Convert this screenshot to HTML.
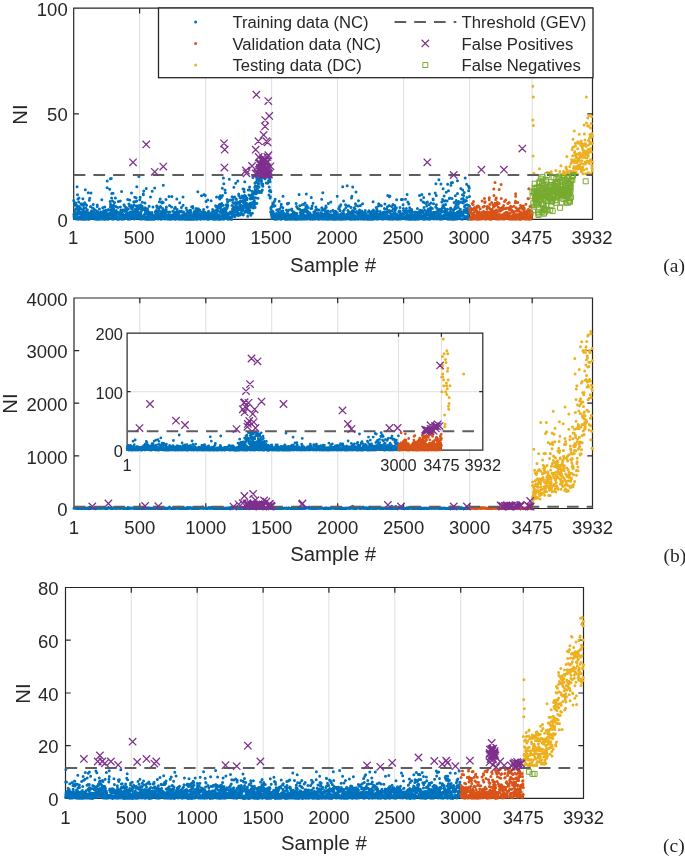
<!DOCTYPE html>
<html><head><meta charset="utf-8"><title>NI plots</title>
<style>html,body{margin:0;padding:0;background:#fff}svg{display:block}text{font-family:"Liberation Sans",sans-serif;fill:#262626}</style>
</head><body>
<svg width="685" height="857" viewBox="0 0 685 857">
<rect width="685" height="857" fill="#fff"/>
<path d="M139.6 8.2V219.3M205.6 8.2V219.3M271.6 8.2V219.3M337.5 8.2V219.3M403.5 8.2V219.3M469.5 8.2V219.3M532.2 8.2V219.3" stroke="#e0e1e3" stroke-width="1.1" fill="none"/>
<path d="M73.7 8.2H592.5V219.3H73.7ZM139.6 219.3v-5.2M139.6 8.2v5.2M205.6 219.3v-5.2M205.6 8.2v5.2M271.6 219.3v-5.2M271.6 8.2v5.2M337.5 219.3v-5.2M337.5 8.2v5.2M403.5 219.3v-5.2M403.5 8.2v5.2M469.5 219.3v-5.2M469.5 8.2v5.2M532.2 219.3v-5.2M532.2 8.2v5.2M73.7 113.8h5.2M592.5 113.8h-5.2" stroke="#262626" stroke-width="1.2" fill="none"/>
<path d="M73.7 200.6h0M73.8 214.4h0M74 216.6h0M74.1 215h0M74.2 218.3h0M74.4 202.6h0M74.5 211.7h0M74.6 205.3h0M74.8 216.5h0M74.9 213.9h0M75 216.6h0M75.2 217.8h0M75.3 214.7h0M75.4 213.8h0M75.5 209.6h0M75.7 218.2h0M75.8 202.9h0M75.9 213.1h0M76.1 217.5h0M76.2 214.7h0M76.3 219h0M76.5 219h0M76.6 212.8h0M76.7 215.2h0M76.9 207.5h0M77 205.4h0M77.1 186.7h0M77.3 212.9h0M77.4 209h0M77.5 194.8h0M77.7 217.7h0M77.8 213.7h0M77.9 198.9h0M78.1 211.6h0M78.2 219.3h0M78.3 214.3h0M78.5 217.9h0M78.6 217.4h0M78.7 202h0M78.8 211.4h0M79 197.9h0M79.1 209.4h0M79.2 206.6h0M79.4 218.5h0M79.5 217.6h0M79.6 218h0M79.8 212.8h0M79.9 212.3h0M80 218.6h0M80.2 217.1h0M80.3 213.2h0M80.4 219h0M80.6 218.8h0M80.7 214.3h0M80.8 208.5h0M81 203.8h0M81.1 215.3h0M81.2 211.8h0M81.4 214.9h0M81.5 213.9h0M81.6 218.5h0M81.8 204.9h0M81.9 214.2h0M82 214.3h0M82.1 219.2h0M82.3 213.1h0M82.4 204h0M82.5 213.2h0M82.7 216.1h0M82.8 211.5h0M82.9 198.8h0M83.1 215.6h0M83.2 205.3h0M83.3 209.6h0M83.5 215.5h0M83.6 215.1h0M83.7 218.7h0M83.9 211.2h0M84 207.8h0M84.1 215.2h0M84.3 219.2h0M84.4 211.9h0M84.5 216.6h0M84.7 202.8h0M84.8 214.7h0M84.9 213.9h0M85.1 216.9h0M85.2 219.2h0M85.3 189.7h0M85.4 216.8h0M85.6 208h0M85.7 218.5h0M85.8 204.5h0M86 219.3h0M86.1 214.7h0M86.2 218.9h0M86.4 218.4h0M86.5 210.9h0M86.6 205.3h0M86.8 215.8h0M86.9 211.7h0M87 213.7h0M87.2 216.9h0M87.3 213.6h0M87.4 209.8h0M87.6 217.6h0M87.7 215.6h0M87.8 213.5h0M88 213.5h0M88.1 212.9h0M88.2 192.8h0M88.4 219.3h0M88.5 212.4h0M88.6 213h0M88.7 217.9h0M88.9 216h0M89 217.5h0M89.1 219.3h0M89.3 200.2h0M89.4 213.6h0M89.5 213.9h0M89.7 198.2h0M89.8 218.6h0M89.9 218.5h0M90.1 216.6h0M90.2 218.4h0M90.3 216.8h0M90.5 206.5h0M90.6 213.2h0M90.7 216.6h0M90.9 213.4h0M91 193h0M91.1 216.9h0M91.3 214.3h0M91.4 211h0M91.5 213.9h0M91.7 214h0M91.8 212.2h0M91.9 218.3h0M92 216.7h0M92.2 213.5h0M92.3 216.5h0M92.4 211.4h0M92.6 208.1h0M92.7 217.1h0M92.8 217.9h0M93 214.9h0M93.1 217.4h0M93.2 204.5h0M93.4 215.7h0M93.5 208.5h0M93.6 212.5h0M93.8 214.7h0M93.9 214.5h0M94 217h0M94.2 218.1h0M94.3 218.3h0M94.4 218.9h0M94.6 210.3h0M94.7 216.9h0M94.8 218.2h0M95 214.2h0M95.1 217.2h0M95.2 213.6h0M95.3 210h0M95.5 218.5h0M95.6 216h0M95.7 219h0M95.9 217.8h0M96 217h0M96.1 218.3h0M96.3 219.3h0M96.4 218.1h0M96.5 212.9h0M96.7 214.6h0M96.8 217.3h0M96.9 218.6h0M97.1 211.3h0M97.2 206.5h0M97.3 205.1h0M97.5 217.6h0M97.6 211.5h0M97.7 219.2h0M97.9 219.2h0M98 219.3h0M98.1 219.2h0M98.3 217.8h0M98.4 219.1h0M98.5 213.8h0M98.6 219.2h0M98.8 217.6h0M98.9 218.6h0M99 216.3h0M99.2 219.2h0M99.3 217.4h0M99.4 209h0M99.6 215.3h0M99.7 218h0M99.8 213.6h0M100 216.8h0M100.1 218.7h0M100.2 213.1h0M100.4 219.1h0M100.5 213.5h0M100.6 212.1h0M100.8 215.7h0M100.9 218.1h0M101 212h0M101.2 218.9h0M101.3 217.7h0M101.4 214.2h0M101.5 215.6h0M101.7 216.2h0M101.8 199.8h0M101.9 216.3h0M102.1 218.4h0M102.2 216.8h0M102.3 213.4h0M102.5 218.7h0M102.6 213.2h0M102.7 207.8h0M102.9 215.8h0M103 219h0M103.1 218.1h0M103.3 217.5h0M103.4 216.2h0M103.5 217h0M103.7 210.8h0M103.8 215h0M103.9 218.1h0M104.1 219.2h0M104.2 218.1h0M104.3 218h0M104.5 212.1h0M104.6 217.5h0M104.7 207h0M104.8 214.6h0M105 213.3h0M105.1 210.9h0M105.2 219.2h0M105.4 212.2h0M105.5 218.6h0M105.6 214.3h0M105.8 210.3h0M105.9 216.2h0M106 217.4h0M106.2 211.2h0M106.3 216h0M106.4 218h0M106.6 216.6h0M106.7 215.6h0M106.8 218.7h0M107 213.6h0M107.1 187.8h0M107.2 181.1h0M107.4 219.1h0M107.5 210.1h0M107.6 217.8h0M107.8 218.8h0M107.9 218.5h0M108 219.2h0M108.1 216.2h0M108.3 213.9h0M108.4 217.5h0M108.5 209.6h0M108.7 213.8h0M108.8 216.8h0M108.9 214.5h0M109.1 209.9h0M109.2 217h0M109.3 215.2h0M109.5 218h0M109.6 217.1h0M109.7 189.2h0M109.9 213.3h0M110 214.8h0M110.1 201.5h0M110.3 178.7h0M110.4 206.8h0M110.5 204.2h0M110.7 217.4h0M110.8 210h0M110.9 206.6h0M111.1 205.3h0M111.2 212h0M111.3 178.4h0M111.4 218.7h0M111.6 198.1h0M111.7 209h0M111.8 193.6h0M112 214h0M112.1 209.7h0M112.2 219.1h0M112.4 212.3h0M112.5 201.1h0M112.6 215.4h0M112.8 218.7h0M112.9 206.3h0M113 193.2h0M113.2 216.1h0M113.3 216.1h0M113.4 219.2h0M113.6 204.9h0M113.7 208.8h0M113.8 217.5h0M114 217.6h0M114.1 210.7h0M114.2 212.7h0M114.4 218.1h0M114.5 202.4h0M114.6 216.5h0M114.7 218.4h0M114.9 213.9h0M115 212.8h0M115.1 217.2h0M115.3 218.1h0M115.4 197.9h0M115.5 217.9h0M115.7 217.5h0M115.8 206.6h0M115.9 217.6h0M116.1 218h0M116.2 210.5h0M116.3 216.4h0M116.5 215.5h0M116.6 217.5h0M116.7 212.8h0M116.9 218.9h0M117 212.3h0M117.1 218.4h0M117.3 218h0M117.4 219.2h0M117.5 212.1h0M117.7 212.8h0M117.8 207.6h0M117.9 218.1h0M118 218.6h0M118.2 212.9h0M118.3 217.6h0M118.4 201.5h0M118.6 217.6h0M118.7 217.4h0M118.8 219.2h0M119 213.7h0M119.1 218h0M119.2 219h0M119.4 215h0M119.5 216.9h0M119.6 217.9h0M119.8 212.6h0M119.9 217.9h0M120 216h0M120.2 218.3h0M120.3 201h0M120.4 207.1h0M120.6 213.9h0M120.7 217.4h0M120.8 210.2h0M121 215.4h0M121.1 218.6h0M121.2 218.5h0M121.3 218.7h0M121.5 213.1h0M121.6 191.5h0M121.7 212.7h0M121.9 219.2h0M122 216.1h0M122.1 210.1h0M122.3 216.8h0M122.4 219.2h0M122.5 218h0M122.7 218h0M122.8 218.6h0M122.9 218.1h0M123.1 210.8h0M123.2 214.3h0M123.3 216.7h0M123.5 210.9h0M123.6 210.1h0M123.7 217h0M123.9 215.5h0M124 204.7h0M124.1 218.4h0M124.3 216.5h0M124.4 219.1h0M124.5 205.9h0M124.6 218.8h0M124.8 216.7h0M124.9 215.4h0M125 217h0M125.2 211.4h0M125.3 216.7h0M125.4 216.6h0M125.6 218.6h0M125.7 215.3h0M125.8 208.3h0M126 209.3h0M126.1 207.6h0M126.2 211.1h0M126.4 213h0M126.5 210.1h0M126.6 207.9h0M126.8 214.1h0M126.9 215.2h0M127 209.9h0M127.2 212.5h0M127.3 217.4h0M127.4 212.9h0M127.6 217.3h0M127.7 199.4h0M127.8 216h0M127.9 217.5h0M128.1 217.1h0M128.2 219.3h0M128.3 209.1h0M128.5 216h0M128.6 217.3h0M128.7 215.9h0M128.9 204.1h0M129 215.2h0M129.1 217.1h0M129.3 213.1h0M129.4 212.9h0M129.5 205.9h0M129.7 200.1h0M129.8 213.8h0M129.9 212.6h0M130.1 212.1h0M130.2 219h0M130.3 217.3h0M130.5 218.4h0M130.6 216.4h0M130.7 206.9h0M130.9 218h0M131 212.3h0M131.1 205.6h0M131.2 213.5h0M131.4 213.9h0M131.5 193.1h0M131.6 208.8h0M131.8 215.1h0M131.9 207.5h0M132 215.1h0M132.2 216.1h0M132.3 212.5h0M132.4 209h0M132.6 215.9h0M132.7 211.3h0M132.8 213.9h0M133 214.9h0M133.1 206.7h0M133.2 213.8h0M133.4 218.6h0M133.5 211.5h0M133.6 213.9h0M133.8 201.8h0M133.9 212.9h0M134 204.7h0M134.2 215h0M134.3 219.1h0M134.4 212.2h0M134.5 217.7h0M134.7 215.8h0M134.8 197.2h0M134.9 215.3h0M135.1 215.1h0M135.2 215.5h0M135.3 209.3h0M135.5 218.4h0M135.6 201.5h0M135.7 217.6h0M135.9 216.4h0M136 211.6h0M136.1 197.7h0M136.3 206.1h0M136.4 210.9h0M136.5 216.2h0M136.7 201.1h0M136.8 186.7h0M136.9 213.5h0M137.1 208.2h0M137.2 209.3h0M137.3 218h0M137.5 209.4h0M137.6 217.4h0M137.7 206.1h0M137.8 211.4h0M138 215.9h0M138.1 213.3h0M138.2 205.9h0M138.4 216.7h0M138.5 205.8h0M138.6 213.2h0M138.8 212.9h0M138.9 176.4h0M139 212.8h0M139.2 215.1h0M139.3 207.9h0M139.4 206.8h0M139.6 218.3h0M139.7 208.4h0M139.8 199.8h0M140 213.9h0M140.1 219.1h0M140.2 197.2h0M140.4 215.3h0M140.5 212.5h0M140.6 205h0M140.8 213.8h0M140.9 216.9h0M141 217.1h0M141.1 211.5h0M141.3 216.8h0M141.4 217.8h0M141.5 206.8h0M141.7 218.3h0M141.8 210.3h0M141.9 217.1h0M142.1 219.1h0M142.2 206.2h0M142.3 202.3h0M142.5 209.1h0M142.6 216h0M142.7 218.8h0M142.9 217.5h0M143 216.1h0M143.1 208.6h0M143.3 194h0M143.4 194.8h0M143.5 217.2h0M143.7 217.5h0M143.8 191h0M143.9 216.4h0M144.1 217.8h0M144.2 217.1h0M144.3 209.2h0M144.4 209.7h0M144.6 214.2h0M144.7 218.9h0M144.8 218.5h0M145 202.9h0M145.1 218.1h0M145.2 207.7h0M145.4 212h0M145.5 219h0M145.6 218.7h0M145.8 217h0M145.9 213.6h0M146 219.3h0M146.2 188.5h0M146.3 216.9h0M146.4 217.5h0M146.6 210.3h0M146.7 218.4h0M146.8 216.9h0M147 217h0M147.1 213.8h0M147.2 212.7h0M147.4 217.1h0M147.5 208.8h0M147.6 213h0M147.7 217.9h0M147.9 219.3h0M148 211h0M148.1 212.5h0M148.3 214.8h0M148.4 218.9h0M148.5 214.5h0M148.7 217.1h0M148.8 218.6h0M148.9 214.9h0M149.1 219.3h0M149.2 206.3h0M149.3 215.2h0M149.5 216.9h0M149.6 217.7h0M149.7 217.9h0M149.9 212.6h0M150 214.3h0M150.1 217.6h0M150.3 214.7h0M150.4 219.2h0M150.5 196.9h0M150.6 217.3h0M150.8 216.3h0M150.9 217.9h0M151 219.1h0M151.2 218.6h0M151.3 218.5h0M151.4 215.8h0M151.6 218.5h0M151.7 218.7h0M151.8 215.2h0M152 212.6h0M152.1 214.2h0M152.2 191.2h0M152.4 219.3h0M152.5 216.3h0M152.6 214.8h0M152.8 218.5h0M152.9 214.9h0M153 206.9h0M153.2 217.2h0M153.3 216.8h0M153.4 215.3h0M153.6 215.9h0M153.7 215.8h0M153.8 218.3h0M153.9 218.3h0M154.1 218.6h0M154.2 218.1h0M154.3 219.3h0M154.5 215.4h0M154.6 217.7h0M154.7 187.9h0M154.9 216.2h0M155 217.7h0M155.1 218.9h0M155.3 212.3h0M155.4 211.5h0M155.5 218.8h0M155.7 212.7h0M155.8 216.9h0M155.9 217.5h0M156.1 216.2h0M156.2 210.4h0M156.3 213.2h0M156.5 218h0M156.6 205.9h0M156.7 211.3h0M156.9 206h0M157 207.4h0M157.1 215.9h0M157.2 217.9h0M157.4 206.4h0M157.5 215.5h0M157.6 211.1h0M157.8 216h0M157.9 212.4h0M158 214.9h0M158.2 219h0M158.3 217.9h0M158.4 218.1h0M158.6 216h0M158.7 217.4h0M158.8 217.7h0M159 208.8h0M159.1 217.3h0M159.2 211.2h0M159.4 201.8h0M159.5 214.4h0M159.6 216.6h0M159.8 215.9h0M159.9 217.6h0M160 216.8h0M160.2 198.9h0M160.3 216.1h0M160.4 206.5h0M160.5 217.6h0M160.7 214.7h0M160.8 207h0M160.9 211.9h0M161.1 219.3h0M161.2 215.4h0M161.3 216.4h0M161.5 211.3h0M161.6 216.9h0M161.7 213.9h0M161.9 202.9h0M162 214.6h0M162.1 202h0M162.3 201.9h0M162.4 215.2h0M162.5 217.7h0M162.7 208.5h0M162.8 217.5h0M162.9 218.3h0M163.1 214.2h0M163.2 202.4h0M163.3 185.3h0M163.5 209.7h0M163.6 214.1h0M163.7 211.9h0M163.8 210.2h0M164 214.2h0M164.1 216.1h0M164.2 214.9h0M164.4 219h0M164.5 216.2h0M164.6 212.9h0M164.8 215.5h0M164.9 212.1h0M165 214.1h0M165.2 216.2h0M165.3 215.9h0M165.4 217.3h0M165.6 214.7h0M165.7 217.2h0M165.8 218.8h0M166 199.5h0M166.1 209.7h0M166.2 209.2h0M166.4 207.1h0M166.5 211.7h0M166.6 214.9h0M166.8 218.6h0M166.9 217.7h0M167 217.6h0M167.1 219h0M167.3 217h0M167.4 217.7h0M167.5 217.7h0M167.7 215.7h0M167.8 218.7h0M167.9 218.5h0M168.1 218.2h0M168.2 217.8h0M168.3 212.3h0M168.5 216.1h0M168.6 218.7h0M168.7 215.6h0M168.9 215.1h0M169 196.6h0M169.1 219h0M169.3 215h0M169.4 216.6h0M169.5 205.5h0M169.7 219.3h0M169.8 211.9h0M169.9 218.4h0M170.1 215.4h0M170.2 217.1h0M170.3 216.8h0M170.4 218.6h0M170.6 219.1h0M170.7 218.5h0M170.8 219.2h0M171 215.1h0M171.1 218.4h0M171.2 216.2h0M171.4 217h0M171.5 218.4h0M171.6 206.9h0M171.8 219.1h0M171.9 196.4h0M172 217.5h0M172.2 218.7h0M172.3 218.4h0M172.4 218h0M172.6 217.3h0M172.7 217.5h0M172.8 211.3h0M173 218.7h0M173.1 216.3h0M173.2 217.2h0M173.4 218.2h0M173.5 215.3h0M173.6 213.9h0M173.7 211.4h0M173.9 218.3h0M174 212.5h0M174.1 217.9h0M174.3 219.1h0M174.4 213.1h0M174.5 208.4h0M174.7 218.5h0M174.8 212h0M174.9 219.2h0M175.1 217.4h0M175.2 215.1h0M175.3 207.3h0M175.5 219.2h0M175.6 213.6h0M175.7 215.6h0M175.9 219.1h0M176 216h0M176.1 217.4h0M176.3 218h0M176.4 212.8h0M176.5 215.8h0M176.7 212.4h0M176.8 198.9h0M176.9 211.7h0M177 211.7h0M177.2 209.4h0M177.3 213.2h0M177.4 218.7h0M177.6 216.9h0M177.7 217.1h0M177.8 216.9h0M178 214.4h0M178.1 216.3h0M178.2 217.2h0M178.4 213.7h0M178.5 217.7h0M178.6 216.8h0M178.8 216.7h0M178.9 216.5h0M179 219.2h0M179.2 218.6h0M179.3 219.1h0M179.4 212.2h0M179.6 217h0M179.7 202.7h0M179.8 211.3h0M180 217.3h0M180.1 217.5h0M180.2 217.4h0M180.3 215.7h0M180.5 211.6h0M180.6 218.5h0M180.7 218h0M180.9 218.8h0M181 218.4h0M181.1 219.1h0M181.3 211h0M181.4 207.4h0M181.5 217.8h0M181.7 215.7h0M181.8 219.2h0M181.9 216.6h0M182.1 211.7h0M182.2 218.7h0M182.3 219h0M182.5 216.8h0M182.6 214.8h0M182.7 218.9h0M182.9 217.7h0M183 197.1h0M183.1 205.3h0M183.3 218.9h0M183.4 218.2h0M183.5 218.8h0M183.6 212.1h0M183.8 217.1h0M183.9 217.5h0M184 214.5h0M184.2 215.2h0M184.3 219h0M184.4 216.9h0M184.6 214.2h0M184.7 217.9h0M184.8 217.3h0M185 219.2h0M185.1 219.3h0M185.2 219.2h0M185.4 218.6h0M185.5 219.2h0M185.6 215.9h0M185.8 214.8h0M185.9 218.9h0M186 219.2h0M186.2 208h0M186.3 213.5h0M186.4 219.1h0M186.6 216h0M186.7 219.2h0M186.8 217.6h0M186.9 210.6h0M187.1 216.5h0M187.2 217.9h0M187.3 219.3h0M187.5 218.6h0M187.6 219.3h0M187.7 219.2h0M187.9 218.4h0M188 219.2h0M188.1 218.7h0M188.3 212.2h0M188.4 216.3h0M188.5 215.6h0M188.7 218.7h0M188.8 217.8h0M188.9 214.9h0M189.1 217.3h0M189.2 211.4h0M189.3 218.8h0M189.5 218.6h0M189.6 217.1h0M189.7 210.4h0M189.9 216.1h0M190 219.3h0M190.1 214.3h0M190.2 218.9h0M190.4 218.6h0M190.5 210.3h0M190.6 216.5h0M190.8 212.1h0M190.9 218.9h0M191 217.4h0M191.2 219.2h0M191.3 216.7h0M191.4 214.8h0M191.6 218h0M191.7 206.8h0M191.8 218.2h0M192 216.8h0M192.1 214.8h0M192.2 219.2h0M192.4 218.2h0M192.5 217.1h0M192.6 215.9h0M192.8 206.5h0M192.9 207.9h0M193 215.4h0M193.2 218.4h0M193.3 217.2h0M193.4 217.9h0M193.5 217.1h0M193.7 219.3h0M193.8 218.5h0M193.9 212.6h0M194.1 212h0M194.2 219.1h0M194.3 215.3h0M194.5 218.3h0M194.6 213.3h0M194.7 210.9h0M194.9 213.9h0M195 217.9h0M195.1 219.1h0M195.3 215.9h0M195.4 212.9h0M195.5 217.5h0M195.7 210.8h0M195.8 210.5h0M195.9 210.2h0M196.1 208.6h0M196.2 219.3h0M196.3 215.1h0M196.5 217.8h0M196.6 218.8h0M196.7 215.3h0M196.8 211h0M197 218.8h0M197.1 216.4h0M197.2 215.5h0M197.4 219.3h0M197.5 218h0M197.6 218.8h0M197.8 191.7h0M197.9 216.9h0M198 213.1h0M198.2 217.8h0M198.3 208.7h0M198.4 217.2h0M198.6 216.2h0M198.7 209.6h0M198.8 216.3h0M199 216.6h0M199.1 215.7h0M199.2 216.8h0M199.4 210.5h0M199.5 217.2h0M199.6 211h0M199.7 215.4h0M199.9 210.2h0M200 211.3h0M200.1 219.1h0M200.3 214.2h0M200.4 215.7h0M200.5 217.4h0M200.7 219.3h0M200.8 215.9h0M200.9 215.7h0M201.1 217.1h0M201.2 218.4h0M201.3 216.9h0M201.5 195.7h0M201.6 214.8h0M201.7 212.7h0M201.9 217.7h0M202 212.2h0M202.1 218.4h0M202.3 212.5h0M202.4 217.3h0M202.5 217.4h0M202.7 215.6h0M202.8 212.7h0M202.9 212.8h0M203 217.4h0M203.2 218.5h0M203.3 216.1h0M203.4 211.5h0M203.6 209.4h0M203.7 218.9h0M203.8 219.1h0M204 215.6h0M204.1 194.4h0M204.2 216.4h0M204.4 213.5h0M204.5 218.4h0M204.6 215.3h0M204.8 218.4h0M204.9 218.8h0M205 216.6h0M205.2 212.2h0M205.3 195.5h0M205.4 213.8h0M205.6 216.7h0M205.7 218.6h0M205.8 217.9h0M206 201.4h0M206.1 218.6h0M206.2 216.3h0M206.3 217.7h0M206.5 214.6h0M206.6 217.5h0M206.7 218.6h0M206.9 214.1h0M207 219.1h0M207.1 214.6h0M207.3 207h0M207.4 219.3h0M207.5 217.9h0M207.7 200.1h0M207.8 218.9h0M207.9 212.8h0M208.1 216.2h0M208.2 217.8h0M208.3 219.2h0M208.5 215.1h0M208.6 211.3h0M208.7 217.6h0M208.9 217.8h0M209 216.9h0M209.1 217.7h0M209.3 216.8h0M209.4 213.8h0M209.5 216.9h0M209.6 217.5h0M209.8 217.9h0M209.9 218.9h0M210 215.5h0M210.2 215.2h0M210.3 218.8h0M210.4 217.5h0M210.6 214.5h0M210.7 217.4h0M210.8 217.9h0M211 216h0M211.1 200.8h0M211.2 216.4h0M211.4 213.4h0M211.5 216.5h0M211.6 212.5h0M211.8 216.8h0M211.9 215.1h0M212 217.3h0M212.2 217.6h0M212.3 218.1h0M212.4 215.7h0M212.6 209.5h0M212.7 219.1h0M212.8 211.8h0M212.9 219h0M213.1 215h0M213.2 218.8h0M213.3 217.9h0M213.5 219.2h0M213.6 216.9h0M213.7 215.7h0M213.9 217.8h0M214 210.7h0M214.1 215.4h0M214.3 217.8h0M214.4 214.5h0M214.5 219.3h0M214.7 216.2h0M214.8 217.6h0M214.9 212.5h0M215.1 217.2h0M215.2 217.7h0M215.3 217.1h0M215.5 219h0M215.6 205.7h0M215.7 219.2h0M215.9 218.2h0M216 206.5h0M216.1 218.2h0M216.2 218.8h0M216.4 212.9h0M216.5 197.1h0M216.6 209.4h0M216.8 214.4h0M216.9 213.8h0M217 218.8h0M217.2 211.1h0M217.3 211.3h0M217.4 209.2h0M217.6 215.7h0M217.7 218.5h0M217.8 207.2h0M218 211.1h0M218.1 206h0M218.2 219.2h0M218.4 207.9h0M218.5 217.8h0M218.6 218.3h0M218.8 216.2h0M218.9 217.2h0M219 214.8h0M219.2 197.2h0M219.3 219.2h0M219.4 217.6h0M219.5 204.4h0M219.7 215.4h0M219.8 198.9h0M219.9 217h0M220.1 204.2h0M220.2 195.7h0M220.3 211.7h0M220.5 206.8h0M220.6 207.5h0M220.7 219.2h0M220.9 209.7h0M221 212.5h0M221.1 212.6h0M221.3 215.7h0M221.4 197.6h0M221.5 205.8h0M221.7 203.4h0M221.8 210h0M221.9 212.8h0M222.1 211.6h0M222.2 214.6h0M222.3 188.3h0M222.5 195.5h0M222.6 212.1h0M222.7 217.6h0M222.8 212.6h0M223 205.3h0M223.1 217h0M223.2 212.6h0M223.4 178h0M223.5 209h0M223.6 219.3h0M223.8 183.7h0M223.9 210.4h0M224 216.1h0M224.2 208.4h0M224.3 217.2h0M224.4 213.4h0M224.6 212.9h0M224.7 217.3h0M224.8 216.9h0M225 189.9h0M225.1 213.8h0M225.2 213.4h0M225.4 192.7h0M225.5 208.6h0M225.6 218.5h0M225.8 215.1h0M225.9 211.6h0M226 205.2h0M226.1 217.8h0M226.3 212.9h0M226.4 204.7h0M226.5 209.1h0M226.7 218h0M226.8 215.8h0M226.9 218.5h0M227.1 199.6h0M227.2 218.7h0M227.3 207.5h0M227.5 218.1h0M227.6 202h0M227.7 205.1h0M227.9 205.7h0M228 217.2h0M228.1 219.3h0M228.3 216.3h0M228.4 219.1h0M228.5 213.9h0M228.7 218.1h0M228.8 213.2h0M228.9 214.3h0M229.1 217.2h0M229.2 217.7h0M229.3 179.3h0M229.4 218.3h0M229.6 217.5h0M229.7 218.6h0M229.8 200.2h0M230 217.2h0M230.1 217.8h0M230.2 212.1h0M230.4 218.4h0M230.5 213.5h0M230.6 218.2h0M230.8 219.3h0M230.9 200h0M231 213h0M231.2 213.7h0M231.3 217.3h0M231.4 219.1h0M231.6 218.9h0M231.7 216.7h0M231.8 219.2h0M232 205.6h0M232.1 196.7h0M232.2 215.8h0M232.4 212.4h0M232.5 210.2h0M232.6 208.7h0M232.7 215.9h0M232.9 202.4h0M233 216.1h0M233.1 199.4h0M233.3 206.9h0M233.4 210.4h0M233.5 206.8h0M233.7 213.2h0M233.8 209.5h0M233.9 187.2h0M234.1 211.8h0M234.2 203.2h0M234.3 215.2h0M234.5 209h0M234.6 197h0M234.7 216.7h0M234.9 206.4h0M235 215.5h0M235.1 216.2h0M235.3 206.5h0M235.4 202.4h0M235.5 203.6h0M235.7 183.2h0M235.8 209.5h0M235.9 207.2h0M236 214.8h0M236.2 205.5h0M236.3 198.9h0M236.4 199.6h0M236.6 212.6h0M236.7 211.2h0M236.8 214.8h0M237 211.8h0M237.1 210h0M237.2 203.4h0M237.4 207.6h0M237.5 214.7h0M237.6 202.3h0M237.8 181.1h0M237.9 212.4h0M238 209.7h0M238.2 208.7h0M238.3 215.5h0M238.4 206.9h0M238.6 203.1h0M238.7 194h0M238.8 195.4h0M239 209.8h0M239.1 208.8h0M239.2 203.3h0M239.3 202h0M239.5 213.8h0M239.6 206.1h0M239.7 202.9h0M239.9 214.9h0M240 197.7h0M240.1 209h0M240.3 201.2h0M240.4 207.7h0M240.5 209.1h0M240.7 207.9h0M240.8 205.2h0M240.9 201h0M241.1 209.1h0M241.2 200.9h0M241.3 212.2h0M241.5 214.2h0M241.6 201.6h0M241.7 210.9h0M241.9 196.1h0M242 206h0M242.1 207.2h0M242.3 197.5h0M242.4 209.5h0M242.5 209h0M242.6 201.2h0M242.8 201.4h0M242.9 214h0M243 188.9h0M243.2 202.6h0M243.3 214.9h0M243.4 207.9h0M243.6 199.9h0M243.7 204.9h0M243.8 197.2h0M244 189.3h0M244.1 199.7h0M244.2 191.8h0M244.4 196.1h0M244.5 211.1h0M244.6 195.3h0M244.8 181.7h0M244.9 197h0M245 201.4h0M245.2 212.3h0M245.3 211.2h0M245.4 207.3h0M245.6 203h0M245.7 196.2h0M245.8 205.3h0M246.1 199.4h0M246.2 210.4h0M246.3 210.2h0M246.6 209.4h0M246.7 206.2h0M246.9 199.8h0M247 203.5h0M247.1 198.3h0M247.3 210.4h0M247.4 211.7h0M247.5 210.9h0M247.7 216.3h0M247.8 208.5h0M247.9 204.7h0M248.1 206.6h0M248.2 205h0M248.3 190h0M248.5 213.1h0M248.6 205h0M248.7 208.5h0M248.8 211.6h0M249 194.9h0M249.1 205h0M249.2 195.3h0M249.4 212.8h0M249.5 190.1h0M249.6 186.9h0M249.8 210.3h0M249.9 203.6h0M250 204.3h0M250.2 198.8h0M250.3 212.9h0M250.4 199h0M250.6 196.8h0M250.7 206.9h0M250.8 215.2h0M251 207.2h0M251.1 204.7h0M251.2 195.3h0M251.4 203.1h0M251.5 205.5h0M251.6 195.8h0M251.8 197.5h0M251.9 194.4h0M252.1 191.2h0M252.3 195.5h0M252.4 213.3h0M252.5 196.9h0M252.7 192.6h0M252.8 198.5h0M252.9 177.6h0M253.1 202.2h0M253.2 192.1h0M253.3 208.1h0M253.5 197.3h0M253.6 201.6h0M253.7 205.1h0M253.9 207.4h0M254 193.9h0M254.1 191.7h0M254.3 200.6h0M254.4 205.5h0M254.5 202h0M254.7 187.3h0M254.8 204.2h0M254.9 183.2h0M255.1 207.6h0M255.2 190h0M255.3 186.2h0M255.4 175.7h0M255.7 197.8h0M255.8 203.4h0M256 182h0M256.1 191h0M256.2 193.7h0M256.4 192.9h0M256.5 186.4h0M256.6 177.4h0M256.8 177.2h0M256.9 203.2h0M257 179.5h0M257.2 191.8h0M257.4 189.1h0M257.6 186.6h0M257.7 178.3h0M257.8 183h0M258 198.3h0M258.1 184.9h0M258.2 179.3h0M258.5 180.3h0M258.6 183.7h0M258.9 192.6h0M259.1 187h0M259.3 191.2h0M259.9 175.2h0M260.1 178.8h0M260.2 175.5h0M260.3 178.8h0M260.5 181.2h0M260.9 177.4h0M261 179.3h0M261.1 181.5h0M261.3 192.5h0M261.4 182.6h0M261.5 180.8h0M261.7 175.7h0M261.8 184.7h0M261.9 191h0M262.3 190.1h0M262.7 184.1h0M262.8 186.3h0M263.2 177.8h0M264.6 175.9h0M265.1 178.8h0M266.3 183.1h0M266.8 175.2h0M267.5 177.1h0M267.6 183.2h0M267.9 175.3h0M268.5 181h0M268.6 180.4h0M268.9 194.9h0M269.2 187h0M269.3 175.3h0M269.4 191h0M269.6 180.7h0M269.7 179.9h0M269.8 178.8h0M270 181.8h0M270.1 197.9h0M270.2 190.3h0M270.4 196.8h0M270.6 211.7h0M270.8 191.7h0M270.9 208.7h0M271 207.3h0M271.2 213.7h0M271.3 207.5h0M271.4 215.4h0M271.6 216.1h0M271.7 212.4h0M271.8 212.8h0M271.9 218.5h0M272.1 211.2h0M272.2 218.6h0M272.3 211.1h0M272.5 205.4h0M272.6 216.9h0M272.7 216.2h0M272.9 203h0M273 203.7h0M273.1 211.7h0M273.3 203.4h0M273.4 213.9h0M273.5 217.7h0M273.7 206.3h0M273.8 213.4h0M273.9 215.7h0M274.1 217.2h0M274.2 216.9h0M274.3 217.8h0M274.5 201.2h0M274.6 215.2h0M274.7 215.2h0M274.9 217.4h0M275 205.7h0M275.1 219.3h0M275.2 199.3h0M275.4 217.1h0M275.5 218.5h0M275.6 217.9h0M275.8 216.9h0M275.9 217.7h0M276 219.3h0M276.2 213.4h0M276.3 217.3h0M276.4 216.6h0M276.6 216.7h0M276.7 210.1h0M276.8 216.3h0M277 218.2h0M277.1 217.5h0M277.2 215.8h0M277.4 216.4h0M277.5 214h0M277.6 218.9h0M277.8 209.8h0M277.9 213.4h0M278 215h0M278.2 210.7h0M278.3 218.4h0M278.4 216.2h0M278.5 217.1h0M278.7 217.8h0M278.8 217.8h0M278.9 216.8h0M279.1 218.1h0M279.2 201.3h0M279.3 214.1h0M279.5 213.6h0M279.6 217.3h0M279.7 209.1h0M279.9 213.1h0M280 214.1h0M280.1 219.1h0M280.3 212.5h0M280.4 215.8h0M280.5 218.4h0M280.7 218.1h0M280.8 218.3h0M280.9 219.3h0M281.1 206.5h0M281.2 216.9h0M281.3 204.3h0M281.5 218.6h0M281.6 212.3h0M281.7 211.3h0M281.8 218.9h0M282 214.8h0M282.1 217.8h0M282.2 218.5h0M282.4 217.7h0M282.5 217.7h0M282.6 217.9h0M282.8 207.7h0M282.9 210.9h0M283 196.2h0M283.2 218.4h0M283.3 214.8h0M283.4 217.5h0M283.6 212.9h0M283.7 217.9h0M283.8 216.5h0M284 216.2h0M284.1 216.1h0M284.2 216.8h0M284.4 213.9h0M284.5 215.2h0M284.6 215.8h0M284.8 218.3h0M284.9 214.9h0M285 216.2h0M285.1 215.6h0M285.3 219.3h0M285.4 215.3h0M285.5 216h0M285.7 219.3h0M285.8 215.6h0M285.9 217.6h0M286.1 216.7h0M286.2 217.9h0M286.3 219.2h0M286.5 209.9h0M286.6 213.8h0M286.7 218.3h0M286.9 218.2h0M287 218.6h0M287.1 212.8h0M287.3 213.3h0M287.4 203.5h0M287.5 203.9h0M287.7 211.6h0M287.8 219.3h0M287.9 218.9h0M288.1 215.6h0M288.2 203.5h0M288.3 214.3h0M288.4 214.7h0M288.6 203.3h0M288.7 219h0M288.8 218.8h0M289 217.9h0M289.1 209.9h0M289.2 218.7h0M289.4 217.2h0M289.5 217.6h0M289.6 218.1h0M289.8 216.4h0M289.9 218.7h0M290 217.4h0M290.2 219.2h0M290.3 217.5h0M290.4 218.4h0M290.6 215.8h0M290.7 215.1h0M290.8 218.6h0M291 219.2h0M291.1 217.7h0M291.2 217.3h0M291.4 214.4h0M291.5 217h0M291.6 216.4h0M291.7 208.9h0M291.9 217.9h0M292 210.6h0M292.1 215.8h0M292.3 218.5h0M292.4 217.8h0M292.5 217.7h0M292.7 218.6h0M292.8 213.8h0M292.9 219h0M293.1 217.7h0M293.2 217.7h0M293.3 212.7h0M293.5 217.3h0M293.6 218.5h0M293.7 215.4h0M293.9 211.9h0M294 217h0M294.1 217h0M294.3 218.8h0M294.4 217.1h0M294.5 215.2h0M294.7 219.2h0M294.8 216.3h0M294.9 216.9h0M295 212.9h0M295.2 217.5h0M295.3 215.2h0M295.4 218.7h0M295.6 217.3h0M295.7 219.2h0M295.8 219h0M296 216.1h0M296.1 203.5h0M296.2 217h0M296.4 216.2h0M296.5 218.1h0M296.6 206.4h0M296.8 219.2h0M296.9 213.6h0M297 219.2h0M297.2 216h0M297.3 216.4h0M297.4 219.3h0M297.6 208.3h0M297.7 218.6h0M297.8 216.3h0M297.9 218.3h0M298.1 216h0M298.2 218.8h0M298.3 208.8h0M298.5 217.2h0M298.6 217.2h0M298.7 216.9h0M298.9 216.6h0M299 217.6h0M299.1 194.4h0M299.3 217.3h0M299.4 218.4h0M299.5 219h0M299.7 209.3h0M299.8 205.8h0M299.9 218.6h0M300.1 216.8h0M300.2 215.6h0M300.3 212.6h0M300.5 217h0M300.6 217.7h0M300.7 219h0M300.9 213.3h0M301 210.9h0M301.1 219.1h0M301.2 215.7h0M301.4 212.1h0M301.5 219.3h0M301.6 218.5h0M301.8 210.5h0M301.9 218.6h0M302 213.4h0M302.2 204.8h0M302.3 219.1h0M302.4 212.5h0M302.6 211.4h0M302.7 213.6h0M302.8 217.1h0M303 214.9h0M303.1 218.1h0M303.2 217h0M303.4 218.8h0M303.5 209.9h0M303.6 218.5h0M303.8 204.3h0M303.9 214.8h0M304 211.2h0M304.2 216.2h0M304.3 219h0M304.4 216h0M304.5 215.7h0M304.7 216.6h0M304.8 216.6h0M304.9 218h0M305.1 202.9h0M305.2 216.9h0M305.3 211.7h0M305.5 217.1h0M305.6 208.5h0M305.7 210.8h0M305.9 206.4h0M306 216.7h0M306.1 218.6h0M306.3 194h0M306.4 218.1h0M306.5 219h0M306.7 215.3h0M306.8 217.4h0M306.9 205.6h0M307.1 219.1h0M307.2 210.4h0M307.3 218.9h0M307.5 216.6h0M307.6 211.3h0M307.7 213.5h0M307.8 216.4h0M308 218.6h0M308.1 216.3h0M308.2 207.4h0M308.4 217h0M308.5 217h0M308.6 215.3h0M308.8 218.4h0M308.9 215.6h0M309 215.2h0M309.2 215.4h0M309.3 217.3h0M309.4 216.9h0M309.6 217.3h0M309.7 217.9h0M309.8 212.7h0M310 218.8h0M310.1 219.2h0M310.2 214.7h0M310.4 214.1h0M310.5 219.1h0M310.6 214.9h0M310.8 214.8h0M310.9 217h0M311 208.4h0M311.1 216.6h0M311.3 197.5h0M311.4 216.5h0M311.5 215.4h0M311.7 208.5h0M311.8 217.2h0M311.9 216.8h0M312.1 206h0M312.2 218.4h0M312.3 215h0M312.5 218.4h0M312.6 219.3h0M312.7 219.1h0M312.9 218h0M313 218.9h0M313.1 203.2h0M313.3 215.3h0M313.4 215.4h0M313.5 218.3h0M313.7 218h0M313.8 212.1h0M313.9 218.7h0M314.1 215.6h0M314.2 214.5h0M314.3 217.3h0M314.4 212.8h0M314.6 217.5h0M314.7 217.3h0M314.8 218.2h0M315 218.9h0M315.1 212.3h0M315.2 214.5h0M315.4 215.3h0M315.5 217.4h0M315.6 209.9h0M315.8 215.8h0M315.9 207.1h0M316 218.7h0M316.2 217.9h0M316.3 215.5h0M316.4 214.1h0M316.6 217.3h0M316.7 218.1h0M316.8 216.6h0M317 217h0M317.1 216.1h0M317.2 209.5h0M317.4 218.7h0M317.5 218.1h0M317.6 212.7h0M317.7 219.1h0M317.9 213.9h0M318 216.9h0M318.1 217.4h0M318.3 217.1h0M318.4 216.6h0M318.5 218.7h0M318.7 219.3h0M318.8 218.6h0M318.9 215.2h0M319.1 218h0M319.2 217.5h0M319.3 210h0M319.5 217.7h0M319.6 217.8h0M319.7 218.4h0M319.9 216.1h0M320 216.9h0M320.1 214.2h0M320.3 215.9h0M320.4 216.5h0M320.5 218.5h0M320.7 212.8h0M320.8 212.9h0M320.9 213h0M321 215.5h0M321.2 214.5h0M321.3 218.9h0M321.4 218.4h0M321.6 213.3h0M321.7 199.3h0M321.8 207.8h0M322 214h0M322.1 219.1h0M322.2 215.3h0M322.4 210.2h0M322.5 219.1h0M322.6 215.6h0M322.8 192.8h0M322.9 216h0M323 209.9h0M323.2 215.2h0M323.3 218.7h0M323.4 215.6h0M323.6 217.4h0M323.7 215.4h0M323.8 218.9h0M324 218.9h0M324.1 218.4h0M324.2 219.1h0M324.3 214.1h0M324.5 217.2h0M324.6 208.7h0M324.7 214.1h0M324.9 215.8h0M325 209.5h0M325.1 211.3h0M325.3 215.7h0M325.4 215.4h0M325.5 212.3h0M325.7 217h0M325.8 208.1h0M325.9 206.1h0M326.1 214.7h0M326.2 207.3h0M326.3 219.1h0M326.5 212.4h0M326.6 219.1h0M326.7 215.9h0M326.9 219.1h0M327 217.6h0M327.1 215h0M327.3 219.2h0M327.4 215.4h0M327.5 213.9h0M327.6 215h0M327.8 210.9h0M327.9 218.1h0M328 217.9h0M328.2 213.6h0M328.3 203.6h0M328.4 219.2h0M328.6 216.7h0M328.7 218.7h0M328.8 216.8h0M329 215.6h0M329.1 217.9h0M329.2 214.4h0M329.4 217h0M329.5 218.1h0M329.6 218.3h0M329.8 218.9h0M329.9 218.5h0M330 214.8h0M330.2 216.3h0M330.3 216.1h0M330.4 219h0M330.6 211.6h0M330.7 217h0M330.8 202.1h0M330.9 216.7h0M331.1 218.5h0M331.2 216.8h0M331.3 217h0M331.5 214.7h0M331.6 219.1h0M331.7 218.2h0M331.9 216.9h0M332 218.3h0M332.1 218.2h0M332.3 215.3h0M332.4 216.1h0M332.5 218.6h0M332.7 219.1h0M332.8 219.3h0M332.9 210.2h0M333.1 217.3h0M333.2 218.2h0M333.3 218.3h0M333.5 218.2h0M333.6 216.4h0M333.7 219.2h0M333.9 212.5h0M334 215.8h0M334.1 214.6h0M334.2 215.6h0M334.4 216.3h0M334.5 218.1h0M334.6 211.7h0M334.8 219.3h0M334.9 213.1h0M335 216h0M335.2 219.3h0M335.3 218.7h0M335.4 211.3h0M335.6 214.3h0M335.7 217.5h0M335.8 211.6h0M336 216h0M336.1 214.1h0M336.2 219.2h0M336.4 211.9h0M336.5 218.4h0M336.6 217.9h0M336.8 213.7h0M336.9 217.6h0M337 216.7h0M337.2 196.2h0M337.3 213.1h0M337.4 217.9h0M337.5 215.4h0M337.7 218.4h0M337.8 216.1h0M337.9 218.2h0M338.1 218.3h0M338.2 218.3h0M338.3 219.1h0M338.5 217.7h0M338.6 208.6h0M338.7 218.3h0M338.9 216.2h0M339 217.7h0M339.1 216.7h0M339.3 219.3h0M339.4 209.2h0M339.5 206.4h0M339.7 214.8h0M339.8 210.6h0M339.9 218h0M340.1 218.2h0M340.2 210.7h0M340.3 206.3h0M340.5 218.6h0M340.6 218.2h0M340.7 219.2h0M340.8 204.7h0M341 217.2h0M341.1 219.3h0M341.2 214.4h0M341.4 213.7h0M341.5 219.3h0M341.6 213.6h0M341.8 218.4h0M341.9 215.8h0M342 216.3h0M342.2 215.2h0M342.3 216.1h0M342.4 219.2h0M342.6 219.1h0M342.7 186.8h0M342.8 218.1h0M343 214.7h0M343.1 216.8h0M343.2 217.3h0M343.4 211h0M343.5 213.3h0M343.6 201.1h0M343.8 218.6h0M343.9 218.2h0M344 216.1h0M344.1 218.5h0M344.3 209.8h0M344.4 218.9h0M344.5 218.4h0M344.7 214.9h0M344.8 216.4h0M344.9 218.9h0M345.1 218.2h0M345.2 216.5h0M345.3 214.9h0M345.5 204.7h0M345.6 217.8h0M345.7 216.8h0M345.9 216.3h0M346 207.5h0M346.1 215.2h0M346.3 218.1h0M346.4 214.5h0M346.5 219.1h0M346.7 216.6h0M346.8 218.4h0M346.9 214.6h0M347 217.9h0M347.2 185.8h0M347.3 216.4h0M347.4 216.4h0M347.6 217.3h0M347.7 215.6h0M347.8 210.4h0M348 216.3h0M348.1 214.6h0M348.2 205.8h0M348.4 211.9h0M348.5 216.3h0M348.6 216h0M348.8 211.8h0M348.9 218.2h0M349 205.9h0M349.2 219.1h0M349.3 217.2h0M349.4 215.6h0M349.6 214.2h0M349.7 218.9h0M349.8 212.8h0M350 215.9h0M350.1 216.7h0M350.2 213.8h0M350.3 218.6h0M350.5 219.2h0M350.6 214.8h0M350.7 212.9h0M350.9 215.8h0M351 219.2h0M351.1 207.6h0M351.3 216.6h0M351.4 212.3h0M351.5 198h0M351.7 219.2h0M351.8 218.4h0M351.9 196.3h0M352.1 213.4h0M352.2 215.2h0M352.3 210.7h0M352.5 212.4h0M352.6 218h0M352.7 187.1h0M352.9 215.4h0M353 218.2h0M353.1 215.8h0M353.3 213h0M353.4 210.5h0M353.5 217.4h0M353.6 218.6h0M353.8 215.9h0M353.9 218.9h0M354 218.4h0M354.2 215.4h0M354.3 207.7h0M354.4 219.3h0M354.6 216.9h0M354.7 217.4h0M354.8 219.2h0M355 218.4h0M355.1 208.7h0M355.2 218.8h0M355.4 203.8h0M355.5 215.7h0M355.6 218.4h0M355.8 212.1h0M355.9 205.2h0M356 192h0M356.2 218.3h0M356.3 219.1h0M356.4 211.9h0M356.6 211.5h0M356.7 218.6h0M356.8 218.9h0M356.9 213.1h0M357.1 217.8h0M357.2 216.7h0M357.3 217.4h0M357.5 217.2h0M357.6 217.3h0M357.7 218.4h0M357.9 219h0M358 206.1h0M358.1 219.3h0M358.3 214.3h0M358.4 212.1h0M358.5 200.8h0M358.7 217.9h0M358.8 217.1h0M358.9 215.4h0M359.1 215.5h0M359.2 217.3h0M359.3 218h0M359.5 209.9h0M359.6 212.9h0M359.7 217.7h0M359.9 218.1h0M360 216.4h0M360.1 210.9h0M360.2 217.5h0M360.4 205.4h0M360.5 218.4h0M360.6 215h0M360.8 219h0M360.9 217.2h0M361 219h0M361.2 217.8h0M361.3 218.5h0M361.4 218.9h0M361.6 216.5h0M361.7 217.5h0M361.8 210.9h0M362 218.9h0M362.1 216.9h0M362.2 213h0M362.4 218.2h0M362.5 214.6h0M362.6 203.7h0M362.8 215.5h0M362.9 213.7h0M363 214.4h0M363.2 215.9h0M363.3 219.1h0M363.4 218.7h0M363.5 215.7h0M363.7 215.9h0M363.8 215.1h0M363.9 219.3h0M364.1 217.6h0M364.2 218.1h0M364.3 218.1h0M364.5 216.4h0M364.6 211.9h0M364.7 218h0M364.9 216.2h0M365 218.9h0M365.1 218.4h0M365.3 210.5h0M365.4 218.8h0M365.5 215.5h0M365.7 215.5h0M365.8 215.3h0M365.9 213.5h0M366.1 218.7h0M366.2 218.4h0M366.3 215.2h0M366.5 218.8h0M366.6 218.5h0M366.7 215.2h0M366.8 215.5h0M367 218.8h0M367.1 219.3h0M367.2 216.1h0M367.4 218.4h0M367.5 215.7h0M367.6 218.4h0M367.8 217.2h0M367.9 219.1h0M368 218.4h0M368.2 211.9h0M368.3 211.8h0M368.4 216.8h0M368.6 215.5h0M368.7 217h0M368.8 216.7h0M369 210.8h0M369.1 216.9h0M369.2 219.2h0M369.4 219.3h0M369.5 215.1h0M369.6 216.4h0M369.8 216.1h0M369.9 218.4h0M370 217h0M370.1 216.2h0M370.3 218.5h0M370.4 213.3h0M370.5 212.6h0M370.7 217.4h0M370.8 216.6h0M370.9 216.5h0M371.1 217.9h0M371.2 217.1h0M371.3 218.5h0M371.5 214.6h0M371.6 219.3h0M371.7 219.3h0M371.9 215.5h0M372 217.9h0M372.1 211.4h0M372.3 214.8h0M372.4 214h0M372.5 211.1h0M372.7 218.3h0M372.8 214.2h0M372.9 211.1h0M373.1 201.7h0M373.2 219.2h0M373.3 219h0M373.4 209.9h0M373.6 217.5h0M373.7 217.9h0M373.8 214.1h0M374 218.8h0M374.1 218.3h0M374.2 216.5h0M374.4 218.1h0M374.5 217.4h0M374.6 218.1h0M374.8 218.4h0M374.9 218.1h0M375 215.7h0M375.2 211.8h0M375.3 212.4h0M375.4 218.7h0M375.6 218.2h0M375.7 216h0M375.8 214.7h0M376 217.1h0M376.1 218.8h0M376.2 207.4h0M376.4 219h0M376.5 216.3h0M376.6 215.6h0M376.7 217.5h0M376.9 209.3h0M377 218.5h0M377.1 217.7h0M377.3 216.9h0M377.4 213.6h0M377.5 214.9h0M377.7 211.3h0M377.8 217.3h0M377.9 217.9h0M378.1 218h0M378.2 218.2h0M378.3 219.1h0M378.5 206h0M378.6 217.2h0M378.7 203.7h0M378.9 217h0M379 217.3h0M379.1 215.5h0M379.3 217.6h0M379.4 215.8h0M379.5 218.6h0M379.7 216.5h0M379.8 204.9h0M379.9 216.4h0M380 214.3h0M380.2 211.5h0M380.3 217.9h0M380.4 216.2h0M380.6 218h0M380.7 216.4h0M380.8 213.5h0M381 218.8h0M381.1 216.7h0M381.2 215h0M381.4 205.7h0M381.5 218.3h0M381.6 213.4h0M381.8 217.9h0M381.9 218.5h0M382 217.1h0M382.2 215.8h0M382.3 219.1h0M382.4 218.6h0M382.6 219.2h0M382.7 215h0M382.8 218.4h0M383 215.2h0M383.1 217.2h0M383.2 217.8h0M383.3 212.2h0M383.5 218.7h0M383.6 212.7h0M383.7 218.5h0M383.9 218.1h0M384 212.9h0M384.1 215.3h0M384.3 218.3h0M384.4 208.5h0M384.5 217.5h0M384.7 211.8h0M384.8 218.7h0M384.9 204h0M385.1 213.4h0M385.2 215.3h0M385.3 212.2h0M385.5 218.2h0M385.6 214.1h0M385.7 212h0M385.9 215.1h0M386 215.4h0M386.1 217.8h0M386.3 214.1h0M386.4 212.6h0M386.5 216.3h0M386.6 215.4h0M386.8 209.3h0M386.9 218.8h0M387 216h0M387.2 217.5h0M387.3 218.6h0M387.4 206.7h0M387.6 212.3h0M387.7 195.6h0M387.8 215.6h0M388 215.7h0M388.1 217.8h0M388.2 219h0M388.4 216.2h0M388.5 216.1h0M388.6 218.9h0M388.8 216.5h0M388.9 216.9h0M389 217.3h0M389.2 205.6h0M389.3 210.5h0M389.4 196.8h0M389.6 219.1h0M389.7 219.2h0M389.8 217h0M389.9 196h0M390.1 212.8h0M390.2 216.1h0M390.3 213.3h0M390.5 216.8h0M390.6 217h0M390.7 218.9h0M390.9 214h0M391 214h0M391.1 217.8h0M391.3 219h0M391.4 219h0M391.5 219.1h0M391.7 206.4h0M391.8 217.1h0M391.9 210.8h0M392.1 217.3h0M392.2 217.4h0M392.3 219.1h0M392.5 217.1h0M392.6 214.5h0M392.7 215.8h0M392.9 204.6h0M393 219.3h0M393.1 217.5h0M393.2 209h0M393.4 214.3h0M393.5 215.9h0M393.6 213.6h0M393.8 213.1h0M393.9 218.5h0M394 215.7h0M394.2 208.4h0M394.3 217.6h0M394.4 217.6h0M394.6 218.1h0M394.7 205.4h0M394.8 211.8h0M395 217.7h0M395.1 214.7h0M395.2 210h0M395.4 207.9h0M395.5 219.1h0M395.6 217.2h0M395.8 209.2h0M395.9 217.1h0M396 218.7h0M396.1 214.3h0M396.3 219.1h0M396.4 207.8h0M396.5 213.9h0M396.7 199.7h0M396.8 218.7h0M396.9 216h0M397.1 218.5h0M397.2 216.8h0M397.3 216.3h0M397.5 218.7h0M397.6 218.2h0M397.7 219.3h0M397.9 218.6h0M398 216h0M398.1 218.5h0M398.3 219.3h0M398.4 216.8h0M398.5 217.5h0M398.7 216.9h0M398.8 211.7h0M398.9 216.5h0M399.1 217.8h0M399.2 218.2h0M399.3 211h0M399.4 219h0M399.6 214.3h0M399.7 217.6h0M399.8 213.1h0M400 207.5h0M400.1 211.3h0M400.2 218.6h0M400.4 213.2h0M400.5 218.3h0M400.6 214.9h0M400.8 217.3h0M400.9 216.8h0M401 216.8h0M401.2 218.9h0M401.3 199.6h0M401.4 215.7h0M401.6 218h0M401.7 217.8h0M401.8 216.4h0M402 216.1h0M402.1 214.6h0M402.2 217.4h0M402.4 217.2h0M402.5 199.5h0M402.6 213.6h0M402.7 215.6h0M402.9 216.4h0M403 217.6h0M403.1 204.7h0M403.3 217.7h0M403.4 208.4h0M403.5 210.6h0M403.7 218.4h0M403.8 217.6h0M403.9 217.2h0M404.1 218.6h0M404.2 213.6h0M404.3 216.9h0M404.5 217.3h0M404.6 218.7h0M404.7 218.8h0M404.9 216.8h0M405 217.5h0M405.1 218.6h0M405.3 213h0M405.4 212.2h0M405.5 199.2h0M405.7 216.2h0M405.8 210.8h0M405.9 219.1h0M406 212.5h0M406.2 216.6h0M406.3 217.4h0M406.4 208.4h0M406.6 218.8h0M406.7 219.1h0M406.8 213.9h0M407 212.9h0M407.1 194.4h0M407.2 216.5h0M407.4 216.2h0M407.5 211.2h0M407.6 215.6h0M407.8 202h0M407.9 218.3h0M408 202.2h0M408.2 215.6h0M408.3 217.2h0M408.4 219.1h0M408.6 219.3h0M408.7 219.2h0M408.8 203.9h0M409 210.4h0M409.1 214.8h0M409.2 218.5h0M409.3 215.1h0M409.5 219.3h0M409.6 211.6h0M409.7 207.8h0M409.9 218.9h0M410 218.2h0M410.1 219.3h0M410.3 219.1h0M410.4 217.5h0M410.5 217h0M410.7 218.5h0M410.8 213h0M410.9 214.6h0M411.1 219.1h0M411.2 217.8h0M411.3 216.6h0M411.5 219.2h0M411.6 217.5h0M411.7 209.4h0M411.9 211.4h0M412 214.5h0M412.1 212.4h0M412.3 215.2h0M412.4 211.7h0M412.5 218h0M412.6 219.1h0M412.8 219.1h0M412.9 214.7h0M413 218.8h0M413.2 218.7h0M413.3 217.4h0M413.4 215.5h0M413.6 214.7h0M413.7 219.1h0M413.8 217.8h0M414 218.7h0M414.1 219.2h0M414.2 218.2h0M414.4 219.1h0M414.5 216.1h0M414.6 216.4h0M414.8 216.2h0M414.9 218.3h0M415 212h0M415.2 217.2h0M415.3 213.5h0M415.4 216.6h0M415.6 217.3h0M415.7 218.1h0M415.8 216.8h0M415.9 219.3h0M416.1 218.8h0M416.2 218.5h0M416.3 218.2h0M416.5 215.1h0M416.6 212.3h0M416.7 218.5h0M416.9 218.3h0M417 216.3h0M417.1 218h0M417.3 218.8h0M417.4 208.6h0M417.5 212.9h0M417.7 214.3h0M417.8 217.1h0M417.9 218.4h0M418.1 216.3h0M418.2 218.1h0M418.3 219.2h0M418.5 217h0M418.6 217.1h0M418.7 216.6h0M418.9 211.8h0M419 217.8h0M419.1 213.8h0M419.2 215.4h0M419.4 217.4h0M419.5 195.6h0M419.6 213.4h0M419.8 210.6h0M419.9 210.7h0M420 210.3h0M420.2 217h0M420.3 216.9h0M420.4 218.1h0M420.6 215.9h0M420.7 218.7h0M420.8 213.5h0M421 199.9h0M421.1 218.7h0M421.2 217.8h0M421.4 215.2h0M421.5 211.3h0M421.6 215.8h0M421.8 211.3h0M421.9 194.6h0M422 218.3h0M422.2 210.6h0M422.3 217.8h0M422.4 215.7h0M422.5 218.2h0M422.7 217h0M422.8 216.5h0M422.9 217.8h0M423.1 202.1h0M423.2 212.5h0M423.3 219h0M423.5 219.1h0M423.6 219.3h0M423.7 197.6h0M423.9 218.3h0M424 207.6h0M424.1 215h0M424.3 213.7h0M424.4 218.7h0M424.5 202.7h0M424.7 219.3h0M424.8 210.2h0M424.9 214.9h0M425.1 216.6h0M425.2 218.7h0M425.3 215.4h0M425.5 215.8h0M425.6 216.1h0M425.7 217.6h0M425.8 214.3h0M426 215h0M426.1 215.6h0M426.2 203.4h0M426.4 213h0M426.5 212.7h0M426.6 214.8h0M426.8 206h0M426.9 214.7h0M427 211.4h0M427.2 219.1h0M427.3 218h0M427.4 201.9h0M427.6 219h0M427.7 218.6h0M427.8 212.1h0M428 209.4h0M428.1 218.7h0M428.2 212h0M428.4 213.7h0M428.5 217.7h0M428.6 209h0M428.8 218.3h0M428.9 218.6h0M429 218.6h0M429.1 214.9h0M429.3 204.5h0M429.4 193.9h0M429.5 219.3h0M429.7 219.2h0M429.8 217.2h0M429.9 214.4h0M430.1 216.6h0M430.2 210.9h0M430.3 208.6h0M430.5 210.2h0M430.6 214.8h0M430.7 207.5h0M430.9 218.7h0M431 203.1h0M431.1 212.2h0M431.3 217.9h0M431.4 217.3h0M431.5 218.4h0M431.7 212.7h0M431.8 217.9h0M431.9 215.4h0M432.1 217.7h0M432.2 218.5h0M432.3 208.4h0M432.4 216h0M432.6 217h0M432.7 216.5h0M432.8 215.3h0M433 218h0M433.1 199h0M433.2 199.8h0M433.4 214.1h0M433.5 212.3h0M433.6 203.8h0M433.8 216h0M433.9 218.9h0M434 219.1h0M434.2 215h0M434.3 218.8h0M434.4 215.8h0M434.6 218.2h0M434.7 212.6h0M434.8 217.6h0M435 213.2h0M435.1 218.8h0M435.2 192.9h0M435.4 216.6h0M435.5 212.3h0M435.6 212.7h0M435.7 207h0M435.9 183.8h0M436 217.9h0M436.1 212.8h0M436.3 195.6h0M436.4 204.7h0M436.5 212h0M436.7 217.6h0M436.8 213.5h0M436.9 208.3h0M437.1 217.4h0M437.2 214.6h0M437.3 218.7h0M437.5 218.9h0M437.6 216h0M437.7 209.6h0M437.9 218.2h0M438 217.2h0M438.1 211.5h0M438.3 212.2h0M438.4 211.2h0M438.5 217.1h0M438.7 215.2h0M438.8 218.1h0M438.9 179.8h0M439 215.7h0M439.2 218.5h0M439.3 217.2h0M439.4 214.6h0M439.6 209.2h0M439.7 216.3h0M439.8 214h0M440 214.1h0M440.1 218.8h0M440.2 219.2h0M440.4 216.8h0M440.5 215.7h0M440.6 218.1h0M440.8 218.3h0M440.9 184.1h0M441 216.5h0M441.2 210.9h0M441.3 218.9h0M441.4 212.3h0M441.6 210.8h0M441.7 217.8h0M441.8 202h0M442 215.8h0M442.1 208.2h0M442.2 219h0M442.3 217.3h0M442.5 207.5h0M442.6 199.5h0M442.7 217.5h0M442.9 205.5h0M443 218.8h0M443.1 188.8h0M443.3 216.5h0M443.4 215.6h0M443.5 211.5h0M443.7 204.9h0M443.8 205.6h0M443.9 205h0M444.1 196h0M444.2 207.4h0M444.3 216.7h0M444.5 200.9h0M444.6 214.2h0M444.7 218.5h0M444.9 218h0M445 215.7h0M445.1 213.4h0M445.2 209.3h0M445.4 216.1h0M445.5 212.9h0M445.6 204.6h0M445.8 200.8h0M445.9 212.3h0M446 211.4h0M446.2 192.2h0M446.3 213.7h0M446.4 210.9h0M446.6 214h0M446.7 218h0M446.8 218.4h0M447 214.6h0M447.1 201h0M447.2 213.9h0M447.4 218.9h0M447.5 209.3h0M447.6 184.2h0M447.8 212.8h0M447.9 213h0M448 213.1h0M448.2 219.3h0M448.3 219.1h0M448.4 216.1h0M448.5 190.7h0M448.7 215.4h0M448.8 214.1h0M448.9 219h0M449.1 218.2h0M449.2 215.1h0M449.3 198.4h0M449.5 217.9h0M449.6 212.4h0M449.7 197.9h0M449.9 218h0M450 213.2h0M450.1 213.4h0M450.3 211.4h0M450.4 208.9h0M450.5 218.3h0M450.7 208h0M450.8 175.1h0M450.9 185.3h0M451.1 219h0M451.2 215.5h0M451.3 182.8h0M451.5 219.2h0M451.6 214.8h0M451.7 217.1h0M451.8 215.6h0M452 218.4h0M452.1 198.5h0M452.2 218.4h0M452.4 212.7h0M452.5 182.5h0M452.6 217.9h0M452.8 216.8h0M452.9 209.8h0M453 219.2h0M453.2 212.3h0M453.3 217h0M453.4 216.9h0M453.6 210.4h0M453.7 218.8h0M453.8 218.5h0M454 214.3h0M454.1 202.5h0M454.2 218.2h0M454.4 215.9h0M454.5 219.2h0M454.6 215.3h0M454.8 216.5h0M454.9 208.7h0M455 207.3h0M455.1 213.5h0M455.3 195.8h0M455.4 213.5h0M455.5 216.9h0M455.7 215.4h0M455.8 214.4h0M455.9 205h0M456.1 207.8h0M456.2 200.6h0M456.3 208.2h0M456.5 218.3h0M456.6 215.9h0M456.7 219h0M456.9 203.1h0M457 219.1h0M457.1 215.7h0M457.3 211.9h0M457.4 180.8h0M457.5 193.4h0M457.7 218.1h0M457.8 215.5h0M457.9 215.2h0M458.1 218.3h0M458.2 207.3h0M458.3 204.3h0M458.4 214.2h0M458.6 201.6h0M458.7 215.5h0M458.8 212.8h0M459 210.9h0M459.1 217.1h0M459.2 216.7h0M459.4 214.9h0M459.5 216h0M459.6 218.3h0M459.8 210.7h0M459.9 217.6h0M460 213.3h0M460.2 218.7h0M460.3 209.3h0M460.4 210.5h0M460.6 202.3h0M460.7 213.2h0M460.8 188.5h0M461 218.8h0M461.1 212.9h0M461.2 214.2h0M461.4 214.8h0M461.5 213.3h0M461.6 198.9h0M461.7 212.2h0M461.9 215.5h0M462 214h0M462.1 214.4h0M462.3 219.2h0M462.4 214.1h0M462.5 194.8h0M462.7 190h0M462.8 202.3h0M462.9 214.4h0M463.1 199.2h0M463.2 198.4h0M463.3 202.9h0M463.5 212.6h0M463.6 217.7h0M463.7 195.5h0M463.9 210.1h0M464 201.6h0M464.1 217.7h0M464.3 192.5h0M464.4 206.4h0M464.5 217.9h0M464.7 218.3h0M464.8 201.5h0M464.9 216.2h0M465 218h0M465.2 178h0M465.3 216.4h0M465.4 200.4h0M465.6 205.3h0M465.7 209h0M465.8 212.5h0M466 216.8h0M466.1 209.3h0M466.2 210.9h0M466.4 200.8h0M466.5 216.7h0M466.6 184.3h0M466.8 208.8h0M466.9 197.5h0M467 204.7h0M467.2 210.4h0M467.3 212.8h0M467.4 208.3h0M467.6 218.6h0M467.7 219h0M467.8 216.2h0M468 213.7h0M468.1 219.3h0M468.2 217.1h0M468.3 217.3h0M468.5 186.2h0M468.6 190.8h0M468.7 213.5h0M468.9 205.5h0M469 210.6h0M469.1 187.2h0M469.3 188.1h0M469.4 205.9h0M469.5 196.5h0" fill="none" stroke="#0072BD" stroke-width="3.0" stroke-linecap="round"/>
<path d="M469.7 208.7h0M469.8 210.7h0M469.9 218.9h0M470.1 212.5h0M470.2 208.9h0M470.3 219.3h0M470.5 213h0M470.6 218.9h0M470.7 208.2h0M470.9 216.7h0M471 211.1h0M471.1 213.2h0M471.3 219h0M471.4 208.8h0M471.5 218.5h0M471.6 213.8h0M471.8 218h0M471.9 215.9h0M472 214.7h0M472.2 203.6h0M472.3 216.3h0M472.4 219.3h0M472.6 218.4h0M472.7 217.5h0M472.8 218h0M473 204.4h0M473.1 209.6h0M473.2 208.7h0M473.4 215.6h0M473.5 201.5h0M473.6 213h0M473.8 217.3h0M473.9 215.6h0M474 215.9h0M474.2 218h0M474.3 217.3h0M474.4 212.2h0M474.6 207.5h0M474.7 218.2h0M474.8 215.2h0M474.9 209.1h0M475.1 216.3h0M475.2 219h0M475.3 217.2h0M475.5 218.7h0M475.6 211.5h0M475.7 218.4h0M475.9 218.2h0M476 218h0M476.1 216.8h0M476.3 216.1h0M476.4 210h0M476.5 208h0M476.7 218.6h0M476.8 218.9h0M476.9 219h0M477.1 206.2h0M477.2 216.8h0M477.3 213.6h0M477.5 216.8h0M477.6 219.3h0M477.7 212.6h0M477.9 212h0M478 216.7h0M478.1 206h0M478.2 216.9h0M478.4 215.6h0M478.5 218.3h0M478.6 214.7h0M478.8 206.6h0M478.9 219.2h0M479 206.7h0M479.2 212.3h0M479.3 211.7h0M479.4 214.2h0M479.6 216.5h0M479.7 218h0M479.8 216.1h0M480 216.2h0M480.1 218.6h0M480.2 208.8h0M480.4 213.3h0M480.5 219h0M480.6 215.7h0M480.8 215.4h0M480.9 218.5h0M481 218.9h0M481.2 217.3h0M481.3 218.1h0M481.4 219.1h0M481.5 214.9h0M481.7 216.8h0M481.8 218.8h0M481.9 218.3h0M482.1 200.9h0M482.2 216.3h0M482.3 218.7h0M482.5 212h0M482.6 218.4h0M482.7 217.7h0M482.9 216.9h0M483 216.3h0M483.1 206.9h0M483.3 217.9h0M483.4 211.6h0M483.5 214.5h0M483.7 218.7h0M483.8 215.7h0M483.9 214.5h0M484.1 215.9h0M484.2 206.3h0M484.3 217.9h0M484.5 198.4h0M484.6 211.9h0M484.7 217.9h0M484.8 202.4h0M485 216.5h0M485.1 215.1h0M485.2 201.8h0M485.4 218h0M485.5 216.9h0M485.6 214.8h0M485.8 219.3h0M485.9 214.4h0M486 212.9h0M486.2 218.8h0M486.3 213.6h0M486.4 214.1h0M486.6 217.8h0M486.7 212.3h0M486.8 213.6h0M487 209.1h0M487.1 206.6h0M487.2 216.6h0M487.4 207.7h0M487.5 216.6h0M487.6 212.2h0M487.8 218h0M487.9 212.1h0M488 215.8h0M488.1 217.7h0M488.3 218.7h0M488.4 216.3h0M488.5 217h0M488.7 218.5h0M488.8 216.4h0M488.9 217.7h0M489.1 207.4h0M489.2 199.8h0M489.3 197.7h0M489.5 213.3h0M489.6 213.8h0M489.7 204.6h0M489.9 219.2h0M490 214.2h0M490.1 209h0M490.3 218.8h0M490.4 219h0M490.5 217.1h0M490.7 215.3h0M490.8 217.1h0M490.9 211.2h0M491.1 211.8h0M491.2 212h0M491.3 219.2h0M491.4 216.1h0M491.6 214.1h0M491.7 202.6h0M491.8 218.6h0M492 213.5h0M492.1 215.7h0M492.2 209.2h0M492.4 217.4h0M492.5 218.6h0M492.6 212.7h0M492.8 211.1h0M492.9 205h0M493 211.7h0M493.2 214.1h0M493.3 218.5h0M493.4 218.6h0M493.6 207.1h0M493.7 217.3h0M493.8 189.1h0M494 195.4h0M494.1 216h0M494.2 212.8h0M494.3 216h0M494.5 206h0M494.6 213.9h0M494.7 206.1h0M494.9 203.2h0M495 182.4h0M495.1 216h0M495.3 212h0M495.4 210.7h0M495.5 214.6h0M495.7 199.4h0M495.8 214.7h0M495.9 216.7h0M496.1 210.1h0M496.2 219h0M496.3 198.1h0M496.5 213.9h0M496.6 217.2h0M496.7 217.3h0M496.9 219h0M497 205.1h0M497.1 218.3h0M497.3 212.9h0M497.4 202.3h0M497.5 216.4h0M497.6 217.8h0M497.8 218.9h0M497.9 216.8h0M498 214.8h0M498.2 207.2h0M498.3 215.7h0M498.4 210.4h0M498.6 215.2h0M498.7 217.5h0M498.8 218.2h0M499 215.8h0M499.1 203.4h0M499.2 189.5h0M499.4 218.9h0M499.5 214.5h0M499.6 210.8h0M499.8 218.4h0M499.9 211.2h0M500 219h0M500.2 208.4h0M500.3 216.2h0M500.4 217h0M500.6 218.1h0M500.7 210.7h0M500.8 208.3h0M500.9 216.1h0M501.1 184.4h0M501.2 217.4h0M501.3 198.4h0M501.5 216.7h0M501.6 209.9h0M501.7 217.5h0M501.9 216.1h0M502 214.8h0M502.1 216h0M502.3 217.5h0M502.4 209.5h0M502.5 207.3h0M502.7 218.9h0M502.8 209.3h0M502.9 215.9h0M503.1 218.1h0M503.2 214.6h0M503.3 218.9h0M503.5 214.4h0M503.6 205.5h0M503.7 217.4h0M503.9 218.6h0M504 215.9h0M504.1 218.1h0M504.2 213.4h0M504.4 213.6h0M504.5 201.6h0M504.6 218.9h0M504.8 214.3h0M504.9 217.8h0M505 208.4h0M505.2 213.4h0M505.3 215.1h0M505.4 217.9h0M505.6 215.2h0M505.7 199.9h0M505.8 208.5h0M506 212.2h0M506.1 216.7h0M506.2 212.8h0M506.4 218.2h0M506.5 217.4h0M506.6 218.6h0M506.8 207.9h0M506.9 217.1h0M507 216.2h0M507.2 217.7h0M507.3 217h0M507.4 212.5h0M507.5 217.4h0M507.7 218.3h0M507.8 203.6h0M507.9 218.1h0M508.1 215.1h0M508.2 216h0M508.3 213.2h0M508.5 207.9h0M508.6 216h0M508.7 215.8h0M508.9 218.9h0M509 219h0M509.1 216.2h0M509.3 202.6h0M509.4 209.8h0M509.5 213.3h0M509.7 218.7h0M509.8 218.9h0M509.9 216.6h0M510.1 209.8h0M510.2 217.8h0M510.3 218.1h0M510.5 208.2h0M510.6 206.2h0M510.7 216h0M510.8 218.2h0M511 219.1h0M511.1 219.1h0M511.2 218.4h0M511.4 218.2h0M511.5 207.1h0M511.6 210.8h0M511.8 210.2h0M511.9 212.3h0M512 219.3h0M512.2 216h0M512.3 217h0M512.4 217.7h0M512.6 215.5h0M512.7 217.7h0M512.8 217.2h0M513 219.1h0M513.1 211.3h0M513.2 215.8h0M513.4 216.4h0M513.5 216.8h0M513.6 218.6h0M513.8 206.3h0M513.9 212.7h0M514 211.8h0M514.1 217.9h0M514.3 217.7h0M514.4 218.8h0M514.5 217.8h0M514.7 214.2h0M514.8 218.9h0M514.9 216.8h0M515.1 217.5h0M515.2 216.7h0M515.3 202.7h0M515.5 201.3h0M515.6 193.8h0M515.7 196.2h0M515.9 218.1h0M516 219.3h0M516.1 207.7h0M516.3 218.2h0M516.4 211.1h0M516.5 216.7h0M516.7 214.6h0M516.8 219.1h0M516.9 217.6h0M517.1 210.6h0M517.2 216.5h0M517.3 217.2h0M517.4 218.5h0M517.6 211.1h0M517.7 216.1h0M517.8 202.4h0M518 218.2h0M518.1 210.7h0M518.2 214.7h0M518.4 218.8h0M518.5 217.9h0M518.6 208.9h0M518.8 211.2h0M518.9 218.6h0M519 215.6h0M519.2 219.2h0M519.3 218.6h0M519.4 217.1h0M519.6 218.6h0M519.7 214.1h0M519.8 217.8h0M520 216.7h0M520.1 207.9h0M520.2 218.8h0M520.4 212h0M520.5 205.6h0M520.6 216.1h0M520.7 219.1h0M520.9 218.6h0M521 213.9h0M521.1 219.2h0M521.3 212.8h0M521.4 206.1h0M521.5 216.7h0M521.7 217.3h0M521.8 216.6h0M521.9 213.9h0M522.1 213.4h0M522.2 218.5h0M522.3 218.3h0M522.5 215.6h0M522.6 209.2h0M522.7 208.2h0M522.9 217.3h0M523 215.4h0M523.1 216.8h0M523.3 205.9h0M523.4 214.3h0M523.5 215.1h0M523.7 212.2h0M523.8 214.4h0M523.9 216.1h0M524 218.4h0M524.2 208.3h0M524.3 208.8h0M524.4 219h0M524.6 211.3h0M524.7 217.3h0M524.8 214.6h0M525 217.6h0M525.1 218h0M525.2 217.5h0M525.4 216.9h0M525.5 211.8h0M525.6 217.3h0M525.8 218.9h0M525.9 204.3h0M526 217.8h0M526.2 214.9h0M526.3 212.5h0M526.4 218.8h0M526.6 217.9h0M526.7 211.7h0M526.8 217.7h0M527 218.5h0M527.1 216.8h0M527.2 218h0M527.3 217.4h0M527.5 210.6h0M527.6 218.9h0M527.7 214h0M527.9 217.9h0M528 198.5h0M528.1 209.9h0M528.3 209.6h0M528.4 198.7h0M528.5 216.7h0M528.7 218.5h0M528.8 188.8h0M528.9 214.2h0M529.1 219.2h0M529.2 217.5h0M529.3 217.9h0M529.5 210.1h0M529.6 212.2h0M529.7 212h0M529.9 206.5h0M530 217.2h0M530.1 211h0M530.3 216h0M530.4 216.1h0M530.5 215.3h0M530.6 219.1h0M530.8 206.3h0M530.9 206.1h0M531 215.8h0M531.2 219.1h0M531.3 217.2h0M531.4 211.2h0M531.6 215.5h0M531.7 211.7h0M531.8 211.4h0M532 211.9h0M532.1 214.8h0M532.2 213h0" fill="none" stroke="#D95319" stroke-width="3.0" stroke-linecap="round"/>
<path d="M532.8 120.1h0M532.9 86.3h0M533 156h0M533.2 96.9h0M533.4 125.4h0M533.9 173.2h0M539.5 168.7h0M547.4 172.5h0M548.7 172.9h0M551.2 171.8h0M551.6 174h0M555.9 170.6h0M559.8 171.5h0M560.9 165.7h0M561.8 174.6h0M563.5 172.5h0M563.6 171.2h0M564.6 174.7h0M564.8 174.4h0M565.5 172.7h0M565.9 167.9h0M566.2 166.9h0M566.4 168.7h0M566.5 174.8h0M566.9 156.4h0M567.2 170.2h0M568.1 172.6h0M569.8 166.6h0M570.1 171.1h0M571 163.6h0M571.2 172.4h0M571.3 173.7h0M571.4 173.3h0M571.6 159.7h0M571.7 171.5h0M571.8 162h0M572.1 149.4h0M572.5 174.6h0M572.6 155.7h0M572.8 147.2h0M572.9 160.5h0M573 139.3h0M573.3 171.4h0M573.4 168.2h0M573.5 147.1h0M573.7 173.4h0M573.8 162.3h0M573.9 166.5h0M574.1 159.8h0M574.2 172.1h0M574.3 131h0M574.5 152.5h0M574.6 167.8h0M574.7 151.6h0M574.9 162.1h0M575 168.8h0M575.1 155.2h0M575.3 168.7h0M575.4 143.3h0M575.5 146h0M575.7 174.1h0M575.8 162.4h0M575.9 172h0M576.1 153.9h0M576.2 156.7h0M576.3 157.5h0M576.4 166.6h0M576.6 160.8h0M576.7 168.2h0M576.8 162.6h0M577 167.9h0M577.1 167.5h0M577.2 167.9h0M577.4 174h0M577.5 169.1h0M577.6 148.7h0M577.8 141.7h0M577.9 166.1h0M578 158.3h0M578.2 143.2h0M578.3 154.3h0M578.4 154h0M578.6 164.9h0M578.7 153.6h0M578.8 161.1h0M579 159.7h0M579.1 161.1h0M579.2 134.3h0M579.4 168.5h0M579.5 165.8h0M579.6 155h0M579.7 154.6h0M579.9 166.7h0M580 153.1h0M580.1 157.4h0M580.3 155.9h0M580.4 142.8h0M580.5 167.8h0M580.7 154.2h0M580.8 145.3h0M580.9 163.5h0M581.1 141h0M581.2 167.2h0M581.3 171.4h0M581.5 170h0M581.6 155.1h0M581.7 143.2h0M581.9 160.8h0M582 156.6h0M582.1 156.2h0M582.3 147.8h0M582.4 168.1h0M582.5 157.1h0M582.7 167.1h0M582.8 149.5h0M582.9 144.5h0M583 173.8h0M583.2 152.3h0M583.3 157.4h0M583.4 145.5h0M583.6 164.1h0M583.7 154.2h0M583.8 170h0M584 144.3h0M584.1 124.9h0M584.2 150.9h0M584.4 134.1h0M584.5 133.9h0M584.6 157h0M584.8 152.4h0M584.9 151.3h0M585 139.9h0M585.2 161.9h0M585.3 143.6h0M585.4 164h0M585.6 144.5h0M585.8 173.7h0M586 157.7h0M586.1 146.2h0M586.2 154.5h0M586.3 96.9h0M586.5 122.9h0M586.6 168.9h0M586.7 161.4h0M586.9 161.8h0M587 151.6h0M587.1 157.9h0M587.3 154.4h0M587.4 162.2h0M587.5 161.2h0M587.7 126.1h0M587.8 118h0M587.9 153.1h0M588.1 149.6h0M588.2 172.7h0M588.3 155.9h0M588.5 140.6h0M588.6 144.9h0M588.7 153h0M588.9 126h0M589 115.6h0M589.1 152.4h0M589.3 163.5h0M589.4 141.5h0M589.5 137.9h0M589.6 160.9h0M589.8 150.1h0M589.9 134.6h0M590 143.7h0M590.2 160.4h0M590.3 136.9h0M590.4 159.8h0M590.6 128h0M590.7 148.5h0M590.8 173.7h0M591 159.9h0M591.1 137.5h0M591.2 123.6h0M591.4 143h0M591.5 151.7h0M591.6 116.6h0M591.8 165.4h0M591.9 133.5h0M592 168.2h0M592.2 171h0M592.3 161.9h0M592.4 135.9h0M592.5 143.5h0" fill="none" stroke="#EDB120" stroke-width="3.0" stroke-linecap="round"/>
<path d="M73.7 175H592.5" stroke="#5e5e5e" stroke-width="2" stroke-dasharray="11.7 8.02" fill="none"/>
<path d="M129.3 158.6l7.4 7.4m-7.4 0l7.4 -7.4M142.5 140.7l7.4 7.4m-7.4 0l7.4 -7.4M151 168.1l7.4 7.4m-7.4 0l7.4 -7.4M159.6 162.9l7.4 7.4m-7.4 0l7.4 -7.4M220.3 139.6l7.4 7.4m-7.4 0l7.4 -7.4M221 146l7.4 7.4m-7.4 0l7.4 -7.4M220.7 163.9l7.4 7.4m-7.4 0l7.4 -7.4M423.6 158.6l7.4 7.4m-7.4 0l7.4 -7.4M450 171.3l7.4 7.4m-7.4 0l7.4 -7.4M477.7 166l7.4 7.4m-7.4 0l7.4 -7.4M500.2 166l7.4 7.4m-7.4 0l7.4 -7.4M518.6 144.9l7.4 7.4m-7.4 0l7.4 -7.4M252.7 91l7.4 7.4m-7.4 0l7.4 -7.4M264.6 97.4l7.4 7.4m-7.4 0l7.4 -7.4M265.5 112.2l7.4 7.4m-7.4 0l7.4 -7.4M261.5 116.4l7.4 7.4m-7.4 0l7.4 -7.4M261.3 122.7l7.4 7.4m-7.4 0l7.4 -7.4M259.9 131.2l7.4 7.4m-7.4 0l7.4 -7.4M254.7 137.5l7.4 7.4m-7.4 0l7.4 -7.4M252 146l7.4 7.4m-7.4 0l7.4 -7.4M262.6 137.5l7.4 7.4m-7.4 0l7.4 -7.4M263.9 138.6l7.4 7.4m-7.4 0l7.4 -7.4M242.2 166.8l7.4 7.4m-7.4 0l7.4 -7.4M242.8 169.6l7.4 7.4m-7.4 0l7.4 -7.4M248.3 162.3l7.4 7.4m-7.4 0l7.4 -7.4M251.9 169.7l7.4 7.4m-7.4 0l7.4 -7.4M253.6 169.5l7.4 7.4m-7.4 0l7.4 -7.4M254.7 169.8l7.4 7.4m-7.4 0l7.4 -7.4M255 153.3l7.4 7.4m-7.4 0l7.4 -7.4M255.3 159.8l7.4 7.4m-7.4 0l7.4 -7.4M255.7 170.1l7.4 7.4m-7.4 0l7.4 -7.4M255.8 167.7l7.4 7.4m-7.4 0l7.4 -7.4M256 166.1l7.4 7.4m-7.4 0l7.4 -7.4M256.1 164.2l7.4 7.4m-7.4 0l7.4 -7.4M256.9 161.6l7.4 7.4m-7.4 0l7.4 -7.4M257 159.7l7.4 7.4m-7.4 0l7.4 -7.4M258.3 166l7.4 7.4m-7.4 0l7.4 -7.4M258.5 157.6l7.4 7.4m-7.4 0l7.4 -7.4M258.7 171.2l7.4 7.4m-7.4 0l7.4 -7.4M258.9 163.4l7.4 7.4m-7.4 0l7.4 -7.4M259.3 168.9l7.4 7.4m-7.4 0l7.4 -7.4M259.4 153.9l7.4 7.4m-7.4 0l7.4 -7.4M259.7 155.9l7.4 7.4m-7.4 0l7.4 -7.4M259.8 156.8l7.4 7.4m-7.4 0l7.4 -7.4M259.9 162.9l7.4 7.4m-7.4 0l7.4 -7.4M260.1 168.3l7.4 7.4m-7.4 0l7.4 -7.4M260.2 170.2l7.4 7.4m-7.4 0l7.4 -7.4M260.3 161l7.4 7.4m-7.4 0l7.4 -7.4M260.5 169.4l7.4 7.4m-7.4 0l7.4 -7.4M260.6 156.2l7.4 7.4m-7.4 0l7.4 -7.4M260.7 158l7.4 7.4m-7.4 0l7.4 -7.4M261 161.6l7.4 7.4m-7.4 0l7.4 -7.4M261.1 155.4l7.4 7.4m-7.4 0l7.4 -7.4M261.3 162.2l7.4 7.4m-7.4 0l7.4 -7.4M261.5 169.1l7.4 7.4m-7.4 0l7.4 -7.4M261.6 169.6l7.4 7.4m-7.4 0l7.4 -7.4M261.8 166l7.4 7.4m-7.4 0l7.4 -7.4M261.9 166.6l7.4 7.4m-7.4 0l7.4 -7.4M262 168.6l7.4 7.4m-7.4 0l7.4 -7.4M262.2 160.2l7.4 7.4m-7.4 0l7.4 -7.4M262.3 156.4l7.4 7.4m-7.4 0l7.4 -7.4M262.4 170.9l7.4 7.4m-7.4 0l7.4 -7.4M262.7 163.6l7.4 7.4m-7.4 0l7.4 -7.4M262.8 166.3l7.4 7.4m-7.4 0l7.4 -7.4M263 163.1l7.4 7.4m-7.4 0l7.4 -7.4M263.2 164l7.4 7.4m-7.4 0l7.4 -7.4M263.4 170.4l7.4 7.4m-7.4 0l7.4 -7.4M263.5 157.7l7.4 7.4m-7.4 0l7.4 -7.4M263.6 153.2l7.4 7.4m-7.4 0l7.4 -7.4M264 170.4l7.4 7.4m-7.4 0l7.4 -7.4M264.3 167.1l7.4 7.4m-7.4 0l7.4 -7.4M264.4 169.3l7.4 7.4m-7.4 0l7.4 -7.4M264.6 166.7l7.4 7.4m-7.4 0l7.4 -7.4M264.7 151.5l7.4 7.4m-7.4 0l7.4 -7.4M265.1 170.8l7.4 7.4m-7.4 0l7.4 -7.4M265.3 170.2l7.4 7.4m-7.4 0l7.4 -7.4M266.8 162.6l7.4 7.4m-7.4 0l7.4 -7.4" fill="none" stroke="#7E2F8E" stroke-width="1.25"/>
<path d="M530 189h5v5h-5zM530.1 193.7h5v5h-5zM530.8 200.8h5v5h-5zM531.1 207.6h5v5h-5zM531.6 190.4h5v5h-5zM531.7 204.1h5v5h-5zM532 188.9h5v5h-5zM532.1 185.4h5v5h-5zM532.2 181.2h5v5h-5zM532.6 196.2h5v5h-5zM532.8 186.4h5v5h-5zM532.9 196.8h5v5h-5zM533 196h5v5h-5zM533.2 192.2h5v5h-5zM533.3 201.8h5v5h-5zM533.4 195.4h5v5h-5zM533.6 191.5h5v5h-5zM533.8 200.3h5v5h-5zM534 199.8h5v5h-5zM534.1 185.2h5v5h-5zM534.2 193.6h5v5h-5zM534.5 202.2h5v5h-5zM534.6 190.6h5v5h-5zM534.7 197.8h5v5h-5zM534.9 185.2h5v5h-5zM535 197.4h5v5h-5zM535.1 195.1h5v5h-5zM535.3 188.7h5v5h-5zM535.4 190h5v5h-5zM535.5 209.8h5v5h-5zM535.7 192.5h5v5h-5zM535.8 194.9h5v5h-5zM535.9 212.4h5v5h-5zM536.3 190.8h5v5h-5zM536.5 198.8h5v5h-5zM536.6 184.8h5v5h-5zM536.7 211.2h5v5h-5zM536.9 180.4h5v5h-5zM537.1 179.1h5v5h-5zM537.5 190.8h5v5h-5zM537.9 185.6h5v5h-5zM538 196.9h5v5h-5zM538.3 193.3h5v5h-5zM538.4 176.1h5v5h-5zM538.6 193.5h5v5h-5zM538.8 193.4h5v5h-5zM539 201.3h5v5h-5zM539.1 209.3h5v5h-5zM539.4 188.1h5v5h-5zM539.6 180h5v5h-5zM539.8 185.5h5v5h-5zM539.9 174.4h5v5h-5zM540 186.4h5v5h-5zM540.2 201.6h5v5h-5zM540.4 203h5v5h-5zM540.6 193.8h5v5h-5zM540.8 183.1h5v5h-5zM540.9 178h5v5h-5zM541.1 205.9h5v5h-5zM541.2 201.1h5v5h-5zM541.5 211.2h5v5h-5zM541.6 193.5h5v5h-5zM541.7 195h5v5h-5zM541.9 206.2h5v5h-5zM542 210h5v5h-5zM542.1 207.2h5v5h-5zM542.3 189.8h5v5h-5zM542.4 207.7h5v5h-5zM542.5 192.3h5v5h-5zM542.7 190h5v5h-5zM542.8 185.2h5v5h-5zM542.9 192.9h5v5h-5zM543.1 189.9h5v5h-5zM543.2 177.3h5v5h-5zM543.3 198h5v5h-5zM543.5 191.8h5v5h-5zM543.6 179.1h5v5h-5zM543.7 203.6h5v5h-5zM543.9 185.4h5v5h-5zM544.1 207.9h5v5h-5zM544.2 207.7h5v5h-5zM544.4 193.6h5v5h-5zM544.5 191.7h5v5h-5zM544.8 172.7h5v5h-5zM545.7 198.5h5v5h-5zM545.8 187.6h5v5h-5zM546.1 195.2h5v5h-5zM546.4 193.8h5v5h-5zM546.5 184.1h5v5h-5zM546.6 186.2h5v5h-5zM546.8 194.7h5v5h-5zM546.9 194.4h5v5h-5zM547.2 195.3h5v5h-5zM547.3 183.1h5v5h-5zM547.8 207.3h5v5h-5zM547.9 196.8h5v5h-5zM548.1 195.7h5v5h-5zM548.2 185.2h5v5h-5zM548.5 188.3h5v5h-5zM548.6 182.5h5v5h-5zM548.9 179.4h5v5h-5zM549 203.4h5v5h-5zM549.3 189h5v5h-5zM549.4 198.9h5v5h-5zM549.7 198.9h5v5h-5zM549.8 192.8h5v5h-5zM549.9 198h5v5h-5zM550.2 208.6h5v5h-5zM550.5 188h5v5h-5zM550.8 189.4h5v5h-5zM551.1 174.9h5v5h-5zM551.2 191.9h5v5h-5zM551.5 191.7h5v5h-5zM551.8 183.5h5v5h-5zM551.9 187.1h5v5h-5zM552.4 186.7h5v5h-5zM552.7 180.9h5v5h-5zM552.8 193.2h5v5h-5zM553.1 200.2h5v5h-5zM553.5 189.6h5v5h-5zM553.6 197.7h5v5h-5zM553.8 176.3h5v5h-5zM553.9 188.3h5v5h-5zM554 186.9h5v5h-5zM554.1 181.3h5v5h-5zM554.3 190.2h5v5h-5zM554.4 179.4h5v5h-5zM554.5 194h5v5h-5zM554.7 194.4h5v5h-5zM554.8 183.6h5v5h-5zM554.9 182h5v5h-5zM555.2 179.5h5v5h-5zM555.3 186.8h5v5h-5zM555.5 192.9h5v5h-5zM555.6 181.3h5v5h-5zM556 176h5v5h-5zM556.3 174h5v5h-5zM556.4 188.2h5v5h-5zM556.5 188.2h5v5h-5zM556.7 190.5h5v5h-5zM556.8 190.7h5v5h-5zM557.1 175.2h5v5h-5zM557.6 205.3h5v5h-5zM557.8 189.8h5v5h-5zM558 183.8h5v5h-5zM558.1 192.3h5v5h-5zM558.2 190.2h5v5h-5zM558.6 188.1h5v5h-5zM558.8 192.1h5v5h-5zM558.9 188.1h5v5h-5zM559 190.6h5v5h-5zM559.2 177.6h5v5h-5zM559.4 200h5v5h-5zM559.8 186.5h5v5h-5zM560 175.4h5v5h-5zM560.1 191.4h5v5h-5zM560.2 192.3h5v5h-5zM560.4 184.4h5v5h-5zM560.5 190.9h5v5h-5zM560.9 196.5h5v5h-5zM561.3 186.2h5v5h-5zM561.4 175.8h5v5h-5zM561.5 193.6h5v5h-5zM561.8 187h5v5h-5zM562.2 178.2h5v5h-5zM562.6 183h5v5h-5zM562.7 186.2h5v5h-5zM563.1 180.5h5v5h-5zM563.3 177.4h5v5h-5zM563.5 186.7h5v5h-5zM563.8 200.2h5v5h-5zM564.2 193h5v5h-5zM564.3 194h5v5h-5zM564.6 186.7h5v5h-5zM564.8 176h5v5h-5zM565 178.8h5v5h-5zM565.1 181.6h5v5h-5zM565.2 193.1h5v5h-5zM565.4 192.2h5v5h-5zM565.5 188.5h5v5h-5zM565.8 200.1h5v5h-5zM565.9 191.1h5v5h-5zM566 175.3h5v5h-5zM566.2 180.9h5v5h-5zM566.3 184.9h5v5h-5zM566.4 190.2h5v5h-5zM566.6 198.2h5v5h-5zM566.7 187.9h5v5h-5zM566.8 192h5v5h-5zM567 185.1h5v5h-5zM567.1 189.8h5v5h-5zM567.2 195.4h5v5h-5zM567.5 199.3h5v5h-5zM567.7 181.1h5v5h-5zM567.9 182.1h5v5h-5zM568 188.4h5v5h-5zM568.1 184.8h5v5h-5zM568.3 178.5h5v5h-5zM568.4 194.7h5v5h-5zM569.5 174.7h5v5h-5zM569.7 173.4h5v5h-5zM569.9 177.3h5v5h-5zM570.6 172.7h5v5h-5zM583.2 178.8h5v5h-5z" fill="none" stroke="#77AC30" stroke-width="1.0"/>
<text x="73.2" y="244.2" font-size="18.5" text-anchor="middle">1</text>
<text x="139.1" y="244.2" font-size="18.5" text-anchor="middle">500</text>
<text x="205.1" y="244.2" font-size="18.5" text-anchor="middle">1000</text>
<text x="271.1" y="244.2" font-size="18.5" text-anchor="middle">1500</text>
<text x="337" y="244.2" font-size="18.5" text-anchor="middle">2000</text>
<text x="403" y="244.2" font-size="18.5" text-anchor="middle">2500</text>
<text x="469" y="244.2" font-size="18.5" text-anchor="middle">3000</text>
<text x="531.7" y="244.2" font-size="18.5" text-anchor="middle">3475</text>
<text x="592" y="244.2" font-size="18.5" text-anchor="middle">3932</text>
<text x="67.7" y="226.9" font-size="18.5" text-anchor="end">0</text>
<text x="67.7" y="121.3" font-size="18.5" text-anchor="end">50</text>
<text x="67.7" y="15.8" font-size="18.5" text-anchor="end">100</text>
<text x="333.1" y="271.9" font-size="20.35" text-anchor="middle">Sample #</text>
<text transform="translate(27.1 114.5) rotate(-90)" font-size="20.35" text-anchor="middle">NI</text>
<text x="663.3" y="271.5" font-size="19.5" style="font-family:'Liberation Serif',serif">(a)</text>
<rect x="158.5" y="8" width="434.5" height="69.7" fill="#fff" stroke="#262626" stroke-width="1.3"/>
<path d="M195.6 21.9h0" fill="none" stroke="#0072BD" stroke-width="3.0" stroke-linecap="round"/>
<text x="232.4" y="28.3" font-size="16.65">Training data (NC)</text>
<path d="M195.6 43.4h0" fill="none" stroke="#D95319" stroke-width="3.0" stroke-linecap="round"/>
<text x="232.4" y="49.8" font-size="16.65">Validation data (NC)</text>
<path d="M195.6 64.9h0" fill="none" stroke="#EDB120" stroke-width="3.0" stroke-linecap="round"/>
<text x="232.4" y="71.3" font-size="16.65">Testing data (DC)</text>
<path d="M394.5 21.9H456.3" stroke="#5e5e5e" stroke-width="2" stroke-dasharray="11.7 8.02" fill="none"/>
<path d="M421.6 39.7l7.4 7.4m-7.4 0l7.4 -7.4" fill="none" stroke="#7E2F8E" stroke-width="1.25"/>
<path d="M422.8 62.5h5v5h-5z" fill="none" stroke="#77AC30" stroke-width="1.0"/>
<text x="461.5" y="28.3" font-size="16.65">Threshold (GEV)</text>
<text x="461.5" y="49.8" font-size="16.65">False Positives</text>
<text x="461.5" y="71.3" font-size="16.65">False Negatives</text>
<path d="M139.8 298V508.5M205.8 298V508.5M271.7 298V508.5M337.7 298V508.5M403.6 298V508.5M469.6 298V508.5M532.2 298V508.5" stroke="#e0e1e3" stroke-width="1.1" fill="none"/>
<path d="M74 298H592.5V508.5H74ZM139.8 508.5v-5.2M139.8 298v5.2M205.8 508.5v-5.2M205.8 298v5.2M271.7 508.5v-5.2M271.7 298v5.2M337.7 508.5v-5.2M337.7 298v5.2M403.6 508.5v-5.2M403.6 298v5.2M469.6 508.5v-5.2M469.6 298v5.2M532.2 508.5v-5.2M532.2 298v5.2M74 455.9h5.2M592.5 455.9h-5.2M74 403.2h5.2M592.5 403.2h-5.2M74 350.6h5.2M592.5 350.6h-5.2" stroke="#262626" stroke-width="1.2" fill="none"/>
<path d="M74 508.3h0M74.5 508.3h0M75.1 508.2h0M75.6 507.7h0M76.1 507.2h0M76.6 508.5h0M77.2 507.7h0M77.7 507.9h0M78.2 507.8h0M78.7 508.5h0M79.3 508.5h0M79.8 508.4h0M80.3 508.2h0M80.9 508.5h0M81.4 508.1h0M81.9 508.2h0M82.4 507.8h0M83 508.5h0M83.5 508.4h0M84 508.4h0M84.6 508.3h0M85.1 508.5h0M85.6 507.9h0M86.1 508.4h0M86.7 508.2h0M87.2 507.9h0M87.7 508.4h0M88.2 507.7h0M88.8 508.4h0M89.3 508.4h0M89.8 507.1h0M90.4 508.3h0M90.9 508.4h0M91.4 507.9h0M91.9 508.3h0M92.5 508.3h0M93 508.2h0M93.5 508.4h0M94 508.5h0M94.6 508.5h0M95.1 508.4h0M95.6 508.1h0M96.2 508.5h0M96.7 507.7h0M97.2 508.4h0M97.7 508.1h0M98.3 508.3h0M98.8 508.3h0M99.3 507.6h0M99.9 508.2h0M100.4 508.4h0M100.9 508.2h0M101.4 508.2h0M102 508.3h0M102.5 508h0M103 508.2h0M103.5 508h0M104.1 508.3h0M104.6 508.2h0M105.1 508.5h0M105.7 508h0M106.2 508.3h0M106.7 508.4h0M107.2 508.4h0M107.8 508.1h0M108.3 507.6h0M108.8 507.6h0M109.3 508.1h0M109.9 508h0M110.4 508h0M110.9 508.5h0M111.5 508.4h0M112 508.1h0M112.5 508.5h0M113 508.4h0M113.6 508.1h0M114.1 508.3h0M114.6 507.8h0M115.2 507.7h0M115.7 508.5h0M116.2 508.2h0M116.7 508.4h0M117.3 508.3h0M117.8 507.7h0M118.3 508.3h0M118.8 508.3h0M119.4 507.8h0M119.9 508.4h0M120.4 508.4h0M121 508.2h0M121.5 508.2h0M122 508.3h0M122.5 508h0M123.1 507.9h0M123.6 508.5h0M124.1 508.4h0M124.6 508.3h0M125.2 508.4h0M125.7 508.5h0M126.2 508.4h0M126.8 508.5h0M127.3 508.2h0M127.8 507.5h0M128.3 507.6h0M128.9 508.5h0M129.4 508.4h0M129.9 508h0M130.5 508.3h0M131 508.2h0M131.5 508.1h0M132 508.2h0M132.6 508h0M133.1 508.2h0M133.6 508.3h0M134.1 508.5h0M134.7 507.9h0M135.2 508.1h0M135.7 507.8h0M136.3 508.4h0M136.8 508.4h0M137.3 507.8h0M137.8 508.5h0M138.4 508.2h0M138.9 508.5h0M139.4 508.5h0M140 508.4h0M140.5 508.1h0M141 508.4h0M141.5 508.3h0M142.1 508.3h0M142.6 508.5h0M143.1 508.2h0M143.6 508.4h0M144.2 508.1h0M144.7 507.6h0M145.2 508.4h0M145.8 508.5h0M146.3 508.4h0M146.8 508.3h0M147.3 508.2h0M147.9 508.1h0M148.4 508.3h0M148.9 507.8h0M149.4 508.5h0M150 508.4h0M150.5 508.3h0M151 508h0M151.6 508.4h0M152.1 508.4h0M152.6 508.4h0M153.1 507.9h0M153.7 508.4h0M154.2 508.3h0M154.7 507.9h0M155.3 508.2h0M155.8 507.3h0M156.3 508.3h0M156.8 507.5h0M157.4 508.4h0M157.9 508.4h0M158.4 508.3h0M158.9 508.3h0M159.5 508.5h0M160 508.4h0M160.5 507.8h0M161.1 508.3h0M161.6 508.4h0M162.1 508.4h0M162.6 508.2h0M163.2 508.5h0M163.7 507.8h0M164.2 508.1h0M164.7 508.5h0M165.3 508.4h0M165.8 507.9h0M166.3 508.4h0M166.9 508.5h0M167.4 508.3h0M167.9 508.4h0M168.4 507.7h0M169 507.8h0M169.5 507h0M170 508.3h0M170.6 508h0M171.1 508.4h0M171.6 508.4h0M172.1 508.4h0M172.7 508.1h0M173.2 507.5h0M173.7 508.4h0M174.2 508.5h0M174.8 508.3h0M175.3 508.4h0M175.8 508.4h0M176.4 508.2h0M176.9 508.3h0M177.4 508.3h0M177.9 508.1h0M178.5 507.2h0M179 508.4h0M179.5 507.2h0M180 508.4h0M180.6 508.4h0M181.1 508.4h0M181.6 508.4h0M182.2 508h0M182.7 508.3h0M183.2 508.4h0M183.7 508.3h0M184.3 508.2h0M184.8 508.1h0M185.3 508.5h0M185.9 508.4h0M186.4 507.8h0M186.9 508.4h0M187.4 507.8h0M188 507.4h0M188.5 508.5h0M189 507.6h0M189.5 508.2h0M190.1 508.3h0M190.6 507.5h0M191.1 508.3h0M191.7 508.4h0M192.2 508.5h0M192.7 508.4h0M193.2 508.4h0M193.8 508.4h0M194.3 508.5h0M194.8 508.5h0M195.3 508.4h0M195.9 507.7h0M196.4 508.4h0M196.9 508.4h0M197.5 508.1h0M198 508.5h0M198.5 508.5h0M199 508.5h0M199.6 507.9h0M200.1 508.3h0M200.6 508.3h0M201.2 507.8h0M201.7 508.2h0M202.2 508.2h0M202.7 507.1h0M203.3 508.5h0M203.8 508h0M204.3 508.1h0M204.8 508.3h0M205.4 508.1h0M205.9 508.4h0M206.4 508.3h0M207 508h0M207.5 508.4h0M208 508h0M208.5 507.8h0M209.1 507.6h0M209.6 507.9h0M210.1 508.4h0M210.6 508.2h0M211.2 507.3h0M211.7 508.3h0M212.2 508.2h0M212.8 508.4h0M213.3 508.4h0M213.8 508.1h0M214.3 507.8h0M214.9 507.5h0M215.4 508.4h0M215.9 507.5h0M216.5 508.5h0M217 508.5h0M217.5 508.3h0M218 508.2h0M218.6 508.4h0M219.1 507.6h0M219.6 508h0M220.1 508.3h0M220.7 508.4h0M221.2 508.3h0M221.7 508.1h0M222.3 508.4h0M222.8 508.4h0M223.3 508.3h0M223.8 508.1h0M224.4 508.4h0M224.9 508.2h0M225.4 508.3h0M225.9 508.5h0M226.5 508.1h0M227 508.5h0M227.5 508.1h0M228.1 508h0M228.6 508.5h0M229.1 507.8h0M229.6 508.1h0M230.2 507.9h0M230.7 508.4h0M231.2 506.9h0M231.8 508.4h0M232.3 508.3h0M232.8 508.4h0M233.3 507.9h0M233.9 507.9h0M234.4 507.6h0M234.9 508.1h0M235.4 506.9h0M236 508.5h0M236.5 508.3h0M237 507.9h0M237.6 508.3h0M238.1 508h0M238.6 508.5h0M239.1 508.4h0M239.7 508.2h0M240.2 507.9h0M240.7 507.6h0M241.2 508.4h0M241.8 508.4h0M242.3 508h0M242.8 508.5h0M243.4 508.3h0M243.9 507.2h0M244.4 508.4h0M244.9 508.2h0M245.5 508h0M246 508.4h0M246.5 508.2h0M247.1 508.2h0M247.6 508.4h0M248.1 508.4h0M248.6 508.4h0M249.2 508.4h0M249.7 508h0M250.2 508.2h0M250.7 508.1h0M251.3 508.4h0M251.8 508h0M252.3 507.8h0M252.9 508.4h0M253.4 508.2h0M253.9 508.4h0M254.4 507.4h0M255 508.3h0M255.5 508.3h0M256 508.4h0M256.5 507.2h0M257.1 508.3h0M257.6 508.4h0M258.1 508.4h0M258.7 508.3h0M259.2 508.1h0M259.7 508.4h0M260.2 507.8h0M260.8 508.5h0M261.3 508.3h0M261.8 508.4h0M262.4 508.2h0M262.9 508.4h0M263.4 508.5h0M263.9 508h0M264.5 508h0M265 508.4h0M265.5 508.2h0M266 508.5h0M266.6 508.4h0M267.1 508.1h0M267.6 508.1h0M268.2 508.5h0M268.7 507.3h0M269.2 508.2h0M269.7 508.2h0M270.3 508h0M270.8 508.5h0M271.3 507.6h0M271.9 508.5h0M272.4 508h0M272.9 507.9h0M273.4 508.4h0M274 508.3h0M274.5 508.2h0M275 508.2h0M275.5 507.8h0M276.1 508.4h0M276.6 508h0M277.1 507.7h0M277.7 507.6h0M278.2 508.4h0M278.7 508h0M279.2 508.5h0M279.8 508.5h0M280.3 507.7h0M280.8 508.3h0M281.3 508.5h0M281.9 508h0M282.4 508h0M282.9 508.4h0M283.5 508.5h0M284 508.3h0M284.5 507.9h0M285 508.3h0M285.6 508.3h0M286.1 507.9h0M286.6 508.4h0M287.2 508.2h0M287.7 508.4h0M288.2 507.9h0M288.7 507.8h0M289.3 508.3h0M289.8 508.3h0M290.3 508.4h0M290.8 508.4h0M291.4 508.5h0M291.9 508.3h0M292.4 508.5h0M293 508.5h0M293.5 508.4h0M294 508.1h0M294.5 508.4h0M295.1 508.1h0M295.6 508.2h0M296.1 508.2h0M296.6 508.5h0M297.2 508.2h0M297.7 508.4h0M298.2 508.3h0M298.8 508.1h0M299.3 508.2h0M299.8 508.4h0M300.3 508.2h0M300.9 508.5h0M301.4 507.9h0M301.9 508.4h0M302.5 508.4h0M303 508.5h0M303.5 507.6h0M304 508.4h0M304.6 508.4h0M305.1 508.4h0M305.6 508.2h0M306.1 508.1h0M306.7 507.6h0M307.2 507.6h0M307.7 507.8h0M308.3 508h0M308.8 508.2h0M309.3 507.1h0M309.8 507.8h0M310.4 508.3h0M310.9 508.3h0M311.4 508.4h0M311.9 508.4h0M312.5 508.4h0M313 508.2h0M313.5 508.4h0M314.1 508.3h0M314.6 508.1h0M315.1 508.4h0M315.6 508h0M316.2 508.2h0M316.7 508.4h0M317.2 508.4h0M317.8 507.8h0M318.3 508.2h0M318.8 507.8h0M319.3 508.3h0M319.9 508.4h0M320.4 508.3h0M320.9 508h0M321.4 507.8h0M322 507.9h0M322.5 508.3h0M323 508.4h0M323.6 508.5h0M324.1 508.2h0M324.6 508.1h0M325.1 508.2h0M325.7 508.4h0M326.2 507.7h0M326.7 508.4h0M327.2 508.4h0M327.8 508.3h0M328.3 508.3h0M328.8 507.9h0M329.4 508.4h0M329.9 508.4h0M330.4 508.5h0M330.9 507.8h0M331.5 508h0M332 508.3h0M332.5 508.3h0M333.1 508.3h0M333.6 508.1h0M334.1 507.8h0M334.6 507.6h0M335.2 508.4h0M335.7 508.3h0M336.2 508.4h0M336.7 508.4h0M337.3 508.2h0M337.8 508.1h0M338.3 508.4h0M338.9 508.4h0M339.4 508.1h0M339.9 508.2h0M340.4 508.2h0M341 508.4h0M341.5 507.8h0M342 508h0M342.5 508.4h0M343.1 508.3h0M343.6 508.3h0M344.1 508.5h0M344.7 508.2h0M345.2 508.2h0M345.7 508.3h0M346.2 508.4h0M346.8 508h0M347.3 507.9h0M347.8 508.2h0M348.4 507.9h0M348.9 508.4h0M349.4 508.2h0M349.9 507.5h0M350.5 508.3h0M351 508.3h0M351.5 508h0M352 507.6h0M352.6 506.2h0M353.1 508.3h0M353.6 507.9h0M354.2 508.5h0M354.7 508.2h0M355.2 508.5h0M355.7 508.5h0M356.3 508.4h0M356.8 508h0M357.3 508.2h0M357.8 508h0M358.4 507.8h0M358.9 507.7h0M359.4 507.2h0M360 508.4h0M360.5 508.5h0M361 508.5h0M361.5 508.1h0M362.1 508.1h0M362.6 507.6h0M363.1 506.9h0M363.7 508.5h0M364.2 508.2h0M364.7 508.2h0M365.2 507.7h0M365.8 508.1h0M366.3 508.5h0M366.8 507.7h0M367.3 508.1h0M367.9 508.5h0M368.4 507.9h0M368.9 507.8h0M369.5 507h0M370 508.4h0M370.5 508.3h0M371 508.3h0M371.6 507.6h0M372.1 507.6h0M372.6 508.4h0M373.1 508.5h0M373.7 508.4h0M374.2 508.4h0M374.7 507.5h0M375.3 508.4h0M375.8 508.4h0M376.3 508.4h0M376.8 508.3h0M377.4 508.2h0M377.9 507.7h0M378.4 508.3h0M379 508.2h0M379.5 507.8h0M380 508.4h0M380.5 508.2h0M381.1 508.5h0M381.6 508.4h0M382.1 508h0M382.6 508.3h0M383.2 508.1h0M383.7 508.5h0M384.2 508.1h0M384.8 508.3h0M385.3 507.8h0M385.8 508.3h0M386.3 508.4h0M386.9 508.4h0M387.4 507.9h0M387.9 507.7h0M388.5 508.5h0M389 508.4h0M389.5 508.5h0M390 508.4h0M390.6 507.8h0M391.1 508.5h0M391.6 506.3h0M392.1 507.8h0M392.7 508.2h0M393.2 508.5h0M393.7 508.3h0M394.3 507.7h0M394.8 507.7h0M395.3 508.4h0M395.8 506.5h0M396.4 508.3h0M396.9 508.1h0M397.4 508.5h0M397.9 508h0M398.5 508.3h0M399 508.3h0M399.5 508.3h0M400.1 508h0M400.6 508.2h0M401.1 508h0M401.6 508.5h0M402.2 508.5h0M402.7 507.6h0M403.2 508.1h0M403.8 508.2h0M404.3 508.4h0M404.8 508.2h0M405.3 508.5h0M405.9 508.5h0M406.4 508h0M406.9 507.7h0M407.4 508.4h0M408 508.3h0M408.5 507.4h0M409 508.4h0M409.6 508.3h0M410.1 508h0M410.6 508.1h0M411.1 507.9h0M411.7 508.3h0M412.2 508.4h0M412.7 508.4h0M413.2 508.5h0M413.8 508.4h0M414.3 508.5h0M414.8 508.3h0M415.4 508.5h0M415.9 508.2h0M416.4 508.4h0M416.9 508.3h0M417.5 508.5h0M418 508.4h0M418.5 508.4h0M419.1 508.4h0M419.6 508.5h0M420.1 508.2h0M420.6 508.4h0M421.2 508.1h0M421.7 508h0M422.2 508.2h0M422.7 508.4h0M423.3 508.3h0M423.8 508.3h0M424.3 507.9h0M424.9 508.4h0M425.4 508.3h0M425.9 508.3h0M426.4 508.1h0M427 508.4h0M427.5 508.2h0M428 508.3h0M428.5 508.3h0M429.1 508.4h0M429.6 508.3h0M430.1 507.8h0M430.7 508.2h0M431.2 507.4h0M431.7 508.4h0M432.2 507.7h0M432.8 508.3h0M433.3 508h0M433.8 507.9h0M434.4 507.6h0M434.9 508.4h0M435.4 507.9h0M435.9 508.3h0M436.5 508h0M437 508.3h0M437.5 508.3h0M438 507.8h0M438.6 508.4h0M439.1 508.2h0M439.6 508.2h0M440.2 508.5h0M440.7 508.2h0M441.2 508.4h0M441.7 507.9h0M442.3 508.5h0M442.8 508.3h0M443.3 508.2h0M443.8 508.3h0M444.4 508.1h0M444.9 508.4h0M445.4 508.4h0M446 508.2h0M446.5 508.5h0M447 508.4h0M447.5 508.5h0M448.1 508.4h0M448.6 507.9h0M449.1 508.3h0M449.7 508.4h0M450.2 508.5h0M450.7 507.1h0M451.2 508.5h0M451.8 508.2h0M452.3 508.3h0M452.8 508.5h0M453.3 508.4h0M453.9 508.1h0M454.4 508h0M454.9 508.5h0M455.5 508h0M456 508.1h0M456.5 508h0M457 508.1h0M457.6 508.3h0M458.1 508.3h0M458.6 507.7h0M459.1 508.1h0M459.7 508.4h0M460.2 508.5h0M460.7 508.3h0M461.3 507.5h0M461.8 507.9h0M462.3 508.5h0M462.8 508.3h0M463.4 508.5h0M463.9 508.2h0M464.4 508.3h0M465 508.4h0M465.5 508.2h0M466 508.5h0M466.5 507.3h0M467.1 508.2h0M467.6 508.5h0M468.1 508.2h0M468.6 507.9h0M469.2 508.5h0" fill="none" stroke="#0072BD" stroke-width="3.0" stroke-linecap="round"/>
<path d="M469.7 508h0M470.2 507.2h0M470.8 508.3h0M471.3 508.4h0M471.8 508.2h0M472.3 507.6h0M472.9 507.4h0M473.4 508.3h0M473.9 508.4h0M474.4 507.9h0M475 508.4h0M475.5 507.9h0M476 508.5h0M476.6 508.1h0M477.1 508.5h0M477.6 507.4h0M478.1 507.9h0M478.7 507.3h0M479.2 508.3h0M479.7 507.6h0M480.3 507.7h0M480.8 508.4h0M481.3 508.5h0M481.8 508.1h0M482.4 507.5h0M482.9 508.3h0M483.4 507.8h0M483.9 508.3h0M484.5 507.9h0M485 507.7h0M485.5 507.9h0M486.1 508.4h0M486.6 508h0M487.1 508.4h0M487.6 508.4h0M488.2 508.4h0M488.7 508.2h0M489.2 508.3h0M489.7 508.4h0M490.3 507.7h0M490.8 508.4h0M491.3 508.3h0M491.9 507.6h0M492.4 508.5h0M492.9 508.3h0M493.4 508.3h0M494 508.1h0M494.5 507.7h0M495 508.2h0M495.6 508.4h0M496.1 508.1h0M496.6 508.1h0M497.1 508.2h0M497.7 507.3h0M498.2 507.7h0M498.7 508.3h0M499.2 508.4h0M499.8 508.3h0M500.3 508.3h0M500.8 508.4h0M501.4 508.5h0M501.9 508.4h0M502.4 507.3h0M502.9 508.3h0M503.5 508.4h0M504 508.5h0M504.5 507.8h0M505.1 507.7h0M505.6 508.2h0M506.1 508.4h0M506.6 508.3h0M507.2 508.1h0M507.7 508.4h0M508.2 508.1h0M508.7 508.5h0M509.3 508.2h0M509.8 507.6h0M510.3 508.4h0M510.9 507.6h0M511.4 508.4h0M511.9 508.1h0M512.4 506.8h0M513 508.2h0M513.5 508.2h0M514 508.1h0M514.5 508.2h0M515.1 508.3h0M515.6 508.3h0M516.1 508.1h0M516.7 508.1h0M517.2 507.8h0M517.7 508.3h0M518.2 507.6h0M518.8 508.2h0M519.3 508.4h0M519.8 508.4h0M520.4 508.3h0M520.9 507.3h0M521.4 508.4h0M521.9 507.8h0M522.5 508.5h0M523 508.1h0M523.5 508.3h0M524 507.9h0M524.6 508.4h0M525.1 507.9h0M525.6 508.4h0M526.2 508.4h0M526.7 508.5h0M527.2 508.2h0M527.7 508h0M528.3 508.4h0M528.8 508h0M529.3 507.5h0M529.8 508.1h0M530.4 508.5h0M530.9 508.3h0M531.4 508.3h0M532 508.4h0" fill="none" stroke="#D95319" stroke-width="3.0" stroke-linecap="round"/>
<path d="M532.4 504.7h0M532.5 485.5h0M532.6 482h0M532.7 496.7h0M532.9 498.3h0M533 499.8h0M533.1 502.2h0M533.3 494.8h0M533.4 496.9h0M533.5 492h0M533.7 487.6h0M533.8 449.3h0M533.9 494.6h0M534.1 492h0M534.2 495h0M534.3 489.6h0M534.5 498.5h0M534.6 470.3h0M534.7 485.4h0M534.9 498.8h0M535 489.4h0M535.1 473.2h0M535.3 480.7h0M535.4 493.5h0M535.5 480.6h0M535.7 484.3h0M535.8 493.2h0M535.9 483.9h0M536 496.7h0M536.2 491.1h0M536.3 497.1h0M536.4 474.5h0M536.6 472.8h0M536.7 491.2h0M536.8 473h0M537 463.5h0M537.1 498.3h0M537.2 487h0M537.4 479.3h0M537.5 478.7h0M537.6 490.6h0M537.8 497.8h0M537.9 484.4h0M538 470.7h0M538.2 491.4h0M538.3 483h0M538.4 487.2h0M538.6 453.8h0M538.7 491.5h0M538.8 480.7h0M538.9 481.8h0M539.1 494.2h0M539.2 480.3h0M539.3 469.5h0M539.5 479.2h0M539.6 491h0M539.7 490.4h0M539.9 495.6h0M540 494.2h0M540.1 499.1h0M540.3 478.9h0M540.4 483.1h0M540.5 483.7h0M540.7 422.5h0M540.8 482.2h0M540.9 471.2h0M541.1 494.8h0M541.2 486.7h0M541.3 489.4h0M541.5 480.2h0M541.6 493h0M541.7 489.6h0M541.9 489.5h0M542 478.4h0M542.1 494h0M542.2 479.3h0M542.4 474.1h0M542.5 479.7h0M542.6 460.1h0M542.8 479.9h0M542.9 478h0M543 477.4h0M543.2 465.2h0M543.3 473.3h0M543.4 479.6h0M543.6 468.6h0M543.7 488.9h0M543.8 465.9h0M544 492.2h0M544.1 453.5h0M544.2 486.7h0M544.4 469.2h0M544.5 482.3h0M544.6 470.7h0M544.8 495.3h0M544.9 472.6h0M545 467.6h0M545.1 472.8h0M545.3 491.2h0M545.4 453.4h0M545.5 433.5h0M545.7 488.3h0M545.8 483.4h0M545.9 491.3h0M546.1 485.5h0M546.2 480.3h0M546.3 422.6h0M546.5 491.8h0M546.6 431.7h0M546.7 477.2h0M546.9 481.8h0M547 483.1h0M547.1 465.5h0M547.3 481.6h0M547.4 479.3h0M547.5 478.8h0M547.7 475.5h0M547.8 471.7h0M547.9 480.2h0M548 486.2h0M548.2 442.4h0M548.3 473.8h0M548.4 475.4h0M548.6 495.5h0M548.7 477.1h0M548.8 485.8h0M549 488.6h0M549.1 482.5h0M549.2 477.1h0M549.4 495.6h0M549.5 490.2h0M549.6 458.6h0M549.8 478.9h0M549.9 486.8h0M550 476.4h0M550.2 495.6h0M550.3 443.9h0M550.4 453.6h0M550.6 477.7h0M550.7 469.9h0M550.8 484.5h0M551 482.3h0M551.1 479.5h0M551.2 482.9h0M551.3 466.3h0M551.5 489.3h0M551.6 466h0M551.7 487.5h0M551.9 473.2h0M552 448.8h0M552.1 433h0M552.3 491.7h0M552.4 463.5h0M552.5 442.5h0M552.7 474.6h0M552.8 444.6h0M552.9 485.5h0M553.1 474.6h0M553.2 411.3h0M553.3 460.5h0M553.5 456h0M553.6 477h0M553.7 477.6h0M553.9 456.5h0M554 473.1h0M554.1 434.2h0M554.2 484.5h0M554.4 485.8h0M554.5 466.4h0M554.6 491.1h0M554.8 462.8h0M554.9 441.7h0M555 428.2h0M555.2 488.8h0M555.3 479.5h0M555.4 457.7h0M555.6 480.2h0M555.7 465.6h0M555.8 491.9h0M556 475.3h0M556.1 462.3h0M556.2 482.7h0M556.4 465.1h0M556.5 472.1h0M556.6 478.1h0M556.8 486h0M556.9 476.5h0M557 467.5h0M557.2 477h0M557.3 460.8h0M557.4 464.5h0M557.5 487.7h0M557.7 472.5h0M557.8 451.2h0M557.9 461.7h0M558.1 477.6h0M558.2 489.3h0M558.3 470.9h0M558.5 469.3h0M558.6 448.2h0M558.7 474.1h0M558.9 472.4h0M559 466.5h0M559.1 441.6h0M559.3 452.6h0M559.4 421.8h0M559.5 465.5h0M559.7 450.6h0M559.8 468.3h0M559.9 436.3h0M560.1 479.3h0M560.2 457.7h0M560.3 458.9h0M560.4 484.1h0M560.6 471.9h0M560.7 475.4h0M560.8 479.1h0M561 481.9h0M561.1 489.2h0M561.2 464.8h0M561.4 470.6h0M561.5 469.5h0M561.6 473.8h0M561.8 466h0M561.9 481.3h0M562 484.4h0M562.2 464.6h0M562.3 465.6h0M562.4 461.9h0M562.6 464.3h0M562.7 476.4h0M562.8 486.6h0M563 481.7h0M563.1 423.7h0M563.2 460h0M563.4 485.9h0M563.5 450.4h0M563.6 456.3h0M563.7 478.1h0M563.9 457.5h0M564 467.9h0M564.1 470.8h0M564.3 465.7h0M564.4 444.4h0M564.5 457.4h0M564.7 490.4h0M564.8 479.6h0M564.9 438.5h0M565.1 406.9h0M565.2 485.1h0M565.3 444.6h0M565.5 488.7h0M565.6 441.6h0M565.7 474h0M565.9 444.1h0M566 458h0M566.1 481.3h0M566.3 483.4h0M566.4 475h0M566.5 490.3h0M566.6 491.6h0M566.8 484.3h0M566.9 468.1h0M567 475.4h0M567.2 459.6h0M567.3 476.7h0M567.4 456.4h0M567.6 460.9h0M567.7 475.9h0M567.8 485.5h0M568 490.4h0M568.1 455.6h0M568.2 469.8h0M568.4 491.1h0M568.5 480.8h0M568.6 475h0M568.8 429.3h0M568.9 414.1h0M569 472.2h0M569.2 454.8h0M569.3 477.5h0M569.4 475.8h0M569.5 475.1h0M569.7 486.2h0M569.8 439.7h0M569.9 473.8h0M570.1 436.5h0M570.2 487.5h0M570.3 446h0M570.5 449h0M570.6 481.2h0M570.7 459.5h0M570.9 460.1h0M571 450.6h0M571.1 453.1h0M571.3 478h0M571.4 479.3h0M571.5 460.1h0M571.7 473.2h0M571.8 463.1h0M571.9 486.9h0M572.1 467h0M572.2 485.8h0M572.3 458.4h0M572.5 427.1h0M572.6 453.9h0M572.7 465.6h0M572.8 438.8h0M573 486.7h0M573.1 468.7h0M573.2 433.1h0M573.4 467.7h0M573.5 484.6h0M573.6 474.7h0M573.8 446.6h0M573.9 445.2h0M574 453.3h0M574.2 433.3h0M574.3 453.5h0M574.4 450.4h0M574.6 429.2h0M574.7 481.5h0M574.8 358.6h0M575 443.4h0M575.1 374h0M575.2 446.4h0M575.4 412.4h0M575.5 435.4h0M575.6 437.4h0M575.7 444.8h0M575.9 450.8h0M576 399.6h0M576.1 421.2h0M576.3 389.1h0M576.4 470.5h0M576.5 475.3h0M576.7 428.4h0M576.8 385.8h0M576.9 463.5h0M577.1 461.7h0M577.2 458.3h0M577.3 441.8h0M577.5 405h0M577.6 439.2h0M577.7 428.2h0M577.9 467.1h0M578 470.7h0M578.1 426.2h0M578.3 424.4h0M578.4 449h0M578.5 425.4h0M578.7 427.3h0M578.8 411.1h0M578.9 443.9h0M579 428.8h0M579.2 369.4h0M579.3 447.4h0M579.4 437.2h0M579.6 405.8h0M579.7 400.8h0M579.8 446.5h0M580 454.3h0M580.1 442.1h0M580.2 455.1h0M580.4 413.6h0M580.5 346.7h0M580.6 398.8h0M580.8 401.4h0M580.9 403.8h0M581 427.1h0M581.2 453.7h0M581.3 442.7h0M581.4 383.1h0M581.6 449.7h0M581.7 341.7h0M581.8 442.6h0M581.9 424.5h0M582.1 435.6h0M582.2 442.7h0M582.3 381.5h0M582.5 415.7h0M582.6 416.7h0M582.7 392.7h0M582.9 401.9h0M583 350.4h0M583.1 418h0M583.3 431.1h0M583.4 424.5h0M583.5 406.5h0M583.7 352.3h0M583.8 394.8h0M583.9 413.1h0M584.1 392.5h0M584.2 434.4h0M584.3 411.9h0M584.5 419.1h0M584.6 428.6h0M584.7 370.9h0M584.8 422.2h0M585 415.7h0M585.1 428.9h0M585.2 380.3h0M585.4 426.6h0M585.5 352.2h0M585.6 423.6h0M585.8 349.8h0M585.9 364.9h0M586 346.7h0M586.2 379.6h0M586.3 420.3h0M586.4 359.7h0M586.6 375.6h0M586.7 421.9h0M586.8 341.6h0M587 387.1h0M587.1 410.3h0M587.2 355.8h0M587.4 382.1h0M587.5 357.9h0M587.6 386.7h0M587.8 336.1h0M587.9 367h0M588 399.8h0M588.1 385.4h0M588.3 335h0M588.4 386.9h0M588.5 411.5h0M588.7 380.8h0M588.8 362.2h0M588.9 366.5h0M589.1 430h0M589.2 424.5h0M589.3 398.3h0M589.5 350.5h0M589.6 379.6h0M589.7 352h0M589.9 362.3h0M590 352.7h0M590.1 381.3h0M590.3 394.7h0M590.4 418.3h0M590.5 381.1h0M590.7 425.8h0M590.8 331.4h0M590.9 439.8h0M591 333.7h0M591.2 397.4h0M591.3 415.4h0M591.4 385.2h0M591.6 385.4h0M591.7 388.7h0M591.8 431.3h0M592 448.3h0M592.1 348.5h0M592.2 390.6h0M592.4 360.8h0M592.5 448.7h0" fill="none" stroke="#EDB120" stroke-width="3.0" stroke-linecap="round"/>
<path d="M74 506.8H592.5" stroke="#5e5e5e" stroke-width="2" stroke-dasharray="11.7 8.02" fill="none"/>
<path d="M88.6 502.7l7.4 7.4m-7.4 0l7.4 -7.4M104.7 499.8l7.4 7.4m-7.4 0l7.4 -7.4M141.4 502.2l7.4 7.4m-7.4 0l7.4 -7.4M154.6 502.5l7.4 7.4m-7.4 0l7.4 -7.4M229.8 502.9l7.4 7.4m-7.4 0l7.4 -7.4M235 500.6l7.4 7.4m-7.4 0l7.4 -7.4M240.7 492.3l7.4 7.4m-7.4 0l7.4 -7.4M243.6 499.5l7.4 7.4m-7.4 0l7.4 -7.4M247.3 500.5l7.4 7.4m-7.4 0l7.4 -7.4M249.4 490.3l7.4 7.4m-7.4 0l7.4 -7.4M251.7 496.5l7.4 7.4m-7.4 0l7.4 -7.4M254.8 500.5l7.4 7.4m-7.4 0l7.4 -7.4M260.4 496.8l7.4 7.4m-7.4 0l7.4 -7.4M266.2 500.4l7.4 7.4m-7.4 0l7.4 -7.4M268 502.7l7.4 7.4m-7.4 0l7.4 -7.4M262.7 498l7.4 7.4m-7.4 0l7.4 -7.4M257.5 501.6l7.4 7.4m-7.4 0l7.4 -7.4M245.6 502.4l7.4 7.4m-7.4 0l7.4 -7.4M239 499.5l7.4 7.4m-7.4 0l7.4 -7.4M298.2 500.6l7.4 7.4m-7.4 0l7.4 -7.4M298.8 499.8l7.4 7.4m-7.4 0l7.4 -7.4M384.2 501.2l7.4 7.4m-7.4 0l7.4 -7.4M397.3 502.7l7.4 7.4m-7.4 0l7.4 -7.4M450 502.8l7.4 7.4m-7.4 0l7.4 -7.4M463.2 502.8l7.4 7.4m-7.4 0l7.4 -7.4M504.1 502.5l7.4 7.4m-7.4 0l7.4 -7.4M517 501.4l7.4 7.4m-7.4 0l7.4 -7.4M498.3 502.9l7.4 7.4m-7.4 0l7.4 -7.4M525.4 502.7l7.4 7.4m-7.4 0l7.4 -7.4M524.4 501.6l7.4 7.4m-7.4 0l7.4 -7.4M517.2 501.8l7.4 7.4m-7.4 0l7.4 -7.4M507.2 501.9l7.4 7.4m-7.4 0l7.4 -7.4M526.9 503l7.4 7.4m-7.4 0l7.4 -7.4M513.4 502.8l7.4 7.4m-7.4 0l7.4 -7.4M502.7 501.7l7.4 7.4m-7.4 0l7.4 -7.4M505.8 503l7.4 7.4m-7.4 0l7.4 -7.4M512.6 502l7.4 7.4m-7.4 0l7.4 -7.4M516.8 502.5l7.4 7.4m-7.4 0l7.4 -7.4M499.1 502.4l7.4 7.4m-7.4 0l7.4 -7.4M508.6 502.2l7.4 7.4m-7.4 0l7.4 -7.4M512.6 501.7l7.4 7.4m-7.4 0l7.4 -7.4M516.5 501.4l7.4 7.4m-7.4 0l7.4 -7.4M496.9 501.7l7.4 7.4m-7.4 0l7.4 -7.4M505.6 502l7.4 7.4m-7.4 0l7.4 -7.4M497.1 501.6l7.4 7.4m-7.4 0l7.4 -7.4M525.1 502.9l7.4 7.4m-7.4 0l7.4 -7.4M501.2 502.3l7.4 7.4m-7.4 0l7.4 -7.4M511.9 501.4l7.4 7.4m-7.4 0l7.4 -7.4M507.8 502.4l7.4 7.4m-7.4 0l7.4 -7.4M526.5 497.2l7.4 7.4m-7.4 0l7.4 -7.4M256.1 501.7l7.4 7.4m-7.4 0l7.4 -7.4M245.5 501.9l7.4 7.4m-7.4 0l7.4 -7.4M243.5 501.6l7.4 7.4m-7.4 0l7.4 -7.4M259.3 501.5l7.4 7.4m-7.4 0l7.4 -7.4M243.1 500.1l7.4 7.4m-7.4 0l7.4 -7.4M248.6 502.6l7.4 7.4m-7.4 0l7.4 -7.4M263.8 501.9l7.4 7.4m-7.4 0l7.4 -7.4M266 500.5l7.4 7.4m-7.4 0l7.4 -7.4M250.6 500.8l7.4 7.4m-7.4 0l7.4 -7.4M249.6 500.6l7.4 7.4m-7.4 0l7.4 -7.4M244.4 501.7l7.4 7.4m-7.4 0l7.4 -7.4M260.4 501.8l7.4 7.4m-7.4 0l7.4 -7.4M249.4 502.1l7.4 7.4m-7.4 0l7.4 -7.4M264.2 502l7.4 7.4m-7.4 0l7.4 -7.4M256 502.8l7.4 7.4m-7.4 0l7.4 -7.4M244.8 500.7l7.4 7.4m-7.4 0l7.4 -7.4M255.2 502.1l7.4 7.4m-7.4 0l7.4 -7.4M267.4 501.9l7.4 7.4m-7.4 0l7.4 -7.4M249.8 502.3l7.4 7.4m-7.4 0l7.4 -7.4M254.2 501l7.4 7.4m-7.4 0l7.4 -7.4M252.5 502.2l7.4 7.4m-7.4 0l7.4 -7.4M256.4 501.7l7.4 7.4m-7.4 0l7.4 -7.4M257.2 502.2l7.4 7.4m-7.4 0l7.4 -7.4M252.7 500.7l7.4 7.4m-7.4 0l7.4 -7.4M254.4 502.1l7.4 7.4m-7.4 0l7.4 -7.4M243.2 501.3l7.4 7.4m-7.4 0l7.4 -7.4M259.8 501.5l7.4 7.4m-7.4 0l7.4 -7.4M266.2 503l7.4 7.4m-7.4 0l7.4 -7.4M265.8 500.2l7.4 7.4m-7.4 0l7.4 -7.4M247 500.5l7.4 7.4m-7.4 0l7.4 -7.4" fill="none" stroke="#7E2F8E" stroke-width="1.25"/>
<text x="74" y="534" font-size="18.5" text-anchor="middle">1</text>
<text x="139.8" y="534" font-size="18.5" text-anchor="middle">500</text>
<text x="205.8" y="534" font-size="18.5" text-anchor="middle">1000</text>
<text x="271.7" y="534" font-size="18.5" text-anchor="middle">1500</text>
<text x="337.7" y="534" font-size="18.5" text-anchor="middle">2000</text>
<text x="403.6" y="534" font-size="18.5" text-anchor="middle">2500</text>
<text x="469.6" y="534" font-size="18.5" text-anchor="middle">3000</text>
<text x="532.2" y="534" font-size="18.5" text-anchor="middle">3475</text>
<text x="592.5" y="534" font-size="18.5" text-anchor="middle">3932</text>
<text x="67.6" y="516.1" font-size="18.5" text-anchor="end">0</text>
<text x="67.6" y="463.5" font-size="18.5" text-anchor="end">1000</text>
<text x="67.6" y="410.9" font-size="18.5" text-anchor="end">2000</text>
<text x="67.6" y="358.2" font-size="18.5" text-anchor="end">3000</text>
<text x="67.6" y="305.6" font-size="18.5" text-anchor="end">4000</text>
<text x="333.2" y="561" font-size="20.35" text-anchor="middle">Sample #</text>
<text transform="translate(17.2 403.6) rotate(-90)" font-size="20.35" text-anchor="middle">NI</text>
<text x="663.6" y="561.6" font-size="19.5" style="font-family:'Liberation Serif',serif">(b)</text>
<rect x="127.1" y="333.2" width="355.7" height="117" fill="#fff"/>
<path d="M398.5 333.2V450.2M441.4 333.2V450.2M127.1 391.7H482.8" stroke="#e0e1e3" stroke-width="1.1" fill="none"/>
<path d="M127.1 333.2H482.8V450.2H127.1ZM398.5 450.2v-3.6M398.5 333.2v3.6M441.4 450.2v-3.6M441.4 333.2v3.6M127.1 391.7h3.6M482.8 391.7h-3.6" stroke="#262626" stroke-width="1.2" fill="none"/>
<path d="M127.1 448.3h0M127.3 449.7h0M127.5 446.3h0M127.6 449h0M127.8 447.8h0M128 448.3h0M128.2 445.4h0M128.4 449.4h0M128.5 448.5h0M128.7 446h0M128.9 450h0M129.1 450.2h0M129.3 448.6h0M129.5 448.7h0M129.6 448.5h0M129.8 447.9h0M130 449.9h0M130.2 448.4h0M130.4 445.3h0M130.5 448.9h0M130.7 448.3h0M130.9 449.7h0M131.1 450h0M131.3 446.3h0M131.4 447.6h0M131.6 449h0M131.8 449.1h0M132 450.2h0M132.2 448h0M132.3 450.1h0M132.5 448.9h0M132.7 448.5h0M132.9 450.2h0M133.1 441.2h0M133.3 448.7h0M133.4 446.5h0M133.6 449.5h0M133.8 447.4h0M134 447h0M134.2 445h0M134.3 444.8h0M134.5 447.7h0M134.7 449.9h0M134.9 449.3h0M135.1 447.5h0M135.2 439.9h0M135.4 450.2h0M135.6 449.1h0M135.8 448.8h0M136 449.1h0M136.1 449h0M136.3 448.5h0M136.5 448.4h0M136.7 449.2h0M136.9 446.6h0M137.1 449.2h0M137.2 450h0M137.4 448.6h0M137.6 447.4h0M137.8 449.7h0M138 447h0M138.1 450h0M138.3 447.3h0M138.5 449.8h0M138.7 449.7h0M138.9 449.8h0M139 449h0M139.2 447.5h0M139.4 447.5h0M139.6 447.5h0M139.8 447.4h0M139.9 448.9h0M140.1 449.2h0M140.3 449.6h0M140.5 449.4h0M140.7 450.1h0M140.9 448.8h0M141 448.2h0M141.2 448.5h0M141.4 449.8h0M141.6 450h0M141.8 450.2h0M141.9 448.1h0M142.1 450.1h0M142.3 446.8h0M142.5 448.4h0M142.7 447.6h0M142.8 449.4h0M143 446.7h0M143.2 446.5h0M143.4 447.3h0M143.6 449.6h0M143.7 448.4h0M143.9 445.5h0M144.1 448.1h0M144.3 447.8h0M144.5 447.3h0M144.7 446.7h0M144.8 449h0M145 450.1h0M145.2 444.2h0M145.4 448h0M145.6 447.3h0M145.7 447.8h0M145.9 447.9h0M146.1 446.5h0M146.3 441.3h0M146.5 447.1h0M146.6 449.1h0M146.8 447.4h0M147 442.6h0M147.2 449.7h0M147.4 446.4h0M147.5 449.5h0M147.7 444.9h0M147.9 449.4h0M148.1 445.5h0M148.3 449.2h0M148.5 449.5h0M148.6 447.8h0M148.8 449.6h0M149 447.5h0M149.2 449.2h0M149.4 447.2h0M149.5 446.2h0M149.7 447.4h0M149.9 450h0M150.1 449.3h0M150.3 448.2h0M150.4 450h0M150.6 449.9h0M150.8 448.5h0M151 446.2h0M151.2 446.1h0M151.4 445.8h0M151.5 450.1h0M151.7 447.6h0M151.9 444.9h0M152.1 443.6h0M152.3 445.9h0M152.4 449.5h0M152.6 448.1h0M152.8 448.4h0M153 443.6h0M153.2 449.3h0M153.3 444.9h0M153.5 446.5h0M153.7 448.2h0M153.9 448.7h0M154.1 446.2h0M154.2 441.1h0M154.4 448.4h0M154.6 446.4h0M154.8 448.8h0M155 448.3h0M155.2 449h0M155.3 449h0M155.5 450.1h0M155.7 449.2h0M155.9 440.2h0M156.1 449.5h0M156.2 445.2h0M156.4 447.7h0M156.6 449.4h0M156.8 447.2h0M157 449.7h0M157.1 448.2h0M157.3 450.1h0M157.5 447.4h0M157.7 449h0M157.9 439.6h0M158 447.5h0M158.2 449.4h0M158.4 448.3h0M158.6 444.4h0M158.8 450.2h0M159 441.3h0M159.1 449.3h0M159.3 447.9h0M159.5 448h0M159.7 448h0M159.9 449.4h0M160 445h0M160.2 446.7h0M160.4 449.4h0M160.6 446.7h0M160.8 437.9h0M160.9 448.4h0M161.1 449.6h0M161.3 446.5h0M161.5 445.2h0M161.7 448.6h0M161.8 447.4h0M162 449.1h0M162.2 443.1h0M162.4 449h0M162.6 449.3h0M162.8 449.2h0M162.9 447.3h0M163.1 450h0M163.3 449.7h0M163.5 444.3h0M163.7 449h0M163.8 443.3h0M164 448.5h0M164.2 445.2h0M164.4 449.7h0M164.6 448.2h0M164.7 449.9h0M164.9 450.1h0M165.1 449.8h0M165.3 449.6h0M165.5 445.5h0M165.6 450h0M165.8 446.8h0M166 450h0M166.2 450.1h0M166.4 444.1h0M166.6 450h0M166.7 448.3h0M166.9 447.5h0M167.1 447h0M167.3 450.1h0M167.5 449.9h0M167.6 450h0M167.8 450.1h0M168 450h0M168.2 449h0M168.4 450h0M168.5 447.8h0M168.7 447.3h0M168.9 449.2h0M169.1 450.2h0M169.3 449.9h0M169.4 448.7h0M169.6 445.4h0M169.8 449.6h0M170 446.2h0M170.2 446.9h0M170.4 449.7h0M170.5 449.9h0M170.7 449.6h0M170.9 448.8h0M171.1 449.6h0M171.3 450h0M171.4 446.9h0M171.6 449.5h0M171.8 447.2h0M172 448.3h0M172.2 447.7h0M172.3 447.5h0M172.5 449.1h0M172.7 449.9h0M172.9 445.6h0M173.1 449.1h0M173.2 447.4h0M173.4 440.5h0M173.6 449.2h0M173.8 447h0M174 449.3h0M174.2 448.4h0M174.3 448h0M174.5 447h0M174.7 450.1h0M174.9 449.9h0M175.1 449.2h0M175.2 449.2h0M175.4 450.1h0M175.6 449.1h0M175.8 449.9h0M176 448.5h0M176.1 450h0M176.3 450h0M176.5 449.2h0M176.7 448.8h0M176.9 446h0M177 449.1h0M177.2 449.2h0M177.4 449.9h0M177.6 446h0M177.8 450.1h0M178 446.7h0M178.1 449.5h0M178.3 448.4h0M178.5 450h0M178.7 448.4h0M178.9 450.2h0M179 450.1h0M179.2 435h0M179.4 446.4h0M179.6 447.7h0M179.8 449h0M179.9 448.6h0M180.1 449.2h0M180.3 449.5h0M180.5 446.4h0M180.7 449.9h0M180.8 449.8h0M181 448.7h0M181.2 448.9h0M181.4 449.7h0M181.6 447.1h0M181.8 450.2h0M181.9 448h0M182.1 442.9h0M182.3 446.9h0M182.5 448.1h0M182.7 448.9h0M182.8 449.7h0M183 449.1h0M183.2 445.7h0M183.4 448.3h0M183.6 445.9h0M183.7 449h0M183.9 450.1h0M184.1 446.8h0M184.3 448h0M184.5 447.6h0M184.6 449h0M184.8 445.7h0M185 444.9h0M185.2 449.9h0M185.4 448.9h0M185.6 448.7h0M185.7 448.6h0M185.9 449.3h0M186.1 448h0M186.3 448.9h0M186.5 450.2h0M186.6 448.4h0M186.8 447.4h0M187 444.6h0M187.2 450.2h0M187.4 449.8h0M187.5 450.2h0M187.7 449.8h0M187.9 450h0M188.1 449.3h0M188.3 446.4h0M188.4 448.5h0M188.6 450h0M188.8 447h0M189 447.1h0M189.2 447.6h0M189.4 446.3h0M189.5 448.6h0M189.7 449.3h0M189.9 449.6h0M190.1 447.5h0M190.3 449.7h0M190.4 445.5h0M190.6 447.4h0M190.8 449.9h0M191 449.7h0M191.2 446.7h0M191.3 448.4h0M191.5 449h0M191.7 450h0M191.9 449.3h0M192.1 441h0M192.2 447.5h0M192.4 449.8h0M192.6 448.7h0M192.8 449.4h0M193 444.5h0M193.2 447.5h0M193.3 450h0M193.5 449.4h0M193.7 449.6h0M193.9 446.4h0M194.1 450h0M194.2 448.1h0M194.4 450.1h0M194.6 448.2h0M194.8 448.6h0M195 449.3h0M195.1 447.1h0M195.3 448.1h0M195.5 449.3h0M195.7 444.1h0M195.9 449.4h0M196.1 449.3h0M196.2 448h0M196.4 448.5h0M196.6 450h0M196.8 450.1h0M197 447.8h0M197.1 449.6h0M197.3 448.3h0M197.5 450h0M197.7 449.6h0M197.9 450h0M198 450.2h0M198.2 448.2h0M198.4 449.9h0M198.6 448.8h0M198.8 448.8h0M198.9 447.1h0M199.1 447.3h0M199.3 448.6h0M199.5 449.4h0M199.7 449.3h0M199.9 450.1h0M200 447.9h0M200.2 449.8h0M200.4 449h0M200.6 449.2h0M200.8 449.5h0M200.9 449.4h0M201.1 450h0M201.3 449.7h0M201.5 449.3h0M201.7 446.6h0M201.8 445.5h0M202 448.4h0M202.2 447.8h0M202.4 448.8h0M202.6 450h0M202.7 450.2h0M202.9 445.5h0M203.1 449.4h0M203.3 448.4h0M203.5 447.6h0M203.7 450.1h0M203.8 450h0M204 446.6h0M204.2 450.1h0M204.4 449.4h0M204.6 444.6h0M204.7 448.4h0M204.9 449.9h0M205.1 449.8h0M205.3 447.3h0M205.5 447.8h0M205.6 449.4h0M205.8 447h0M206 449.8h0M206.2 449.3h0M206.4 449.8h0M206.5 449.8h0M206.7 450.1h0M206.9 449.3h0M207.1 448.1h0M207.3 450.1h0M207.5 447.5h0M207.6 446.3h0M207.8 449.8h0M208 449.9h0M208.2 446.9h0M208.4 450h0M208.5 449.6h0M208.7 445.8h0M208.9 450.2h0M209.1 449.8h0M209.3 449.9h0M209.4 449.8h0M209.6 448.2h0M209.8 450.2h0M210 447.7h0M210.2 449.8h0M210.3 436.8h0M210.5 449.8h0M210.7 450.1h0M210.9 449.1h0M211.1 447.6h0M211.3 441.2h0M211.4 448.9h0M211.6 449.7h0M211.8 447.8h0M212 449.5h0M212.2 450h0M212.3 448.1h0M212.5 447.1h0M212.7 449.7h0M212.9 449.4h0M213.1 450h0M213.2 447.9h0M213.4 449.8h0M213.6 447.8h0M213.8 448.6h0M214 448.7h0M214.1 450h0M214.3 446.5h0M214.5 449.8h0M214.7 450.1h0M214.9 449.2h0M215.1 445h0M215.2 449.7h0M215.4 443.3h0M215.6 448.8h0M215.8 448.8h0M216 449.5h0M216.1 448.6h0M216.3 450.1h0M216.5 450.2h0M216.7 449.4h0M216.9 450.1h0M217 447.9h0M217.2 448.7h0M217.4 449h0M217.6 450.1h0M217.8 450.2h0M217.9 449.5h0M218.1 450.2h0M218.3 447.9h0M218.5 448.7h0M218.7 447.8h0M218.9 449.9h0M219 449h0M219.2 449.2h0M219.4 447.3h0M219.6 449.9h0M219.8 448.9h0M219.9 448.8h0M220.1 448.1h0M220.3 445.3h0M220.5 447.5h0M220.7 436h0M220.8 446.7h0M221 449.2h0M221.2 449.4h0M221.4 449.3h0M221.6 449.5h0M221.7 450h0M221.9 449.6h0M222.1 448.2h0M222.3 449.5h0M222.5 449.4h0M222.7 450.1h0M222.8 449.6h0M223 449.8h0M223.2 448h0M223.4 448.2h0M223.6 449.3h0M223.7 449.3h0M223.9 449h0M224.1 449.9h0M224.3 449.9h0M224.5 450.1h0M224.6 449.2h0M224.8 447.4h0M225 449.3h0M225.2 447.9h0M225.4 450h0M225.5 449.9h0M225.7 448.7h0M225.9 447.6h0M226.1 449.5h0M226.3 449.1h0M226.5 449.6h0M226.6 449.7h0M226.8 448.5h0M227 447.4h0M227.2 448.9h0M227.4 449.3h0M227.5 449.5h0M227.7 449.1h0M227.9 449.5h0M228.1 449.3h0M228.3 449.8h0M228.4 447.1h0M228.6 448h0M228.8 445.9h0M229 449.8h0M229.2 449.5h0M229.3 445.4h0M229.5 449.2h0M229.7 450.1h0M229.9 449.8h0M230.1 449.9h0M230.3 450h0M230.4 449.9h0M230.6 449.8h0M230.8 450h0M231 449.6h0M231.2 447.4h0M231.3 449.6h0M231.5 448.9h0M231.7 448h0M231.9 446h0M232.1 449.8h0M232.2 446.7h0M232.4 448.1h0M232.6 448.6h0M232.8 449.8h0M233 445.8h0M233.1 449.4h0M233.3 449.3h0M233.5 448h0M233.7 448.9h0M233.9 447.7h0M234.1 447.4h0M234.2 446.9h0M234.4 449.1h0M234.6 449.9h0M234.8 448.9h0M235 449.4h0M235.1 449h0M235.3 449.1h0M235.5 448.7h0M235.7 449h0M235.9 450h0M236 448.5h0M236.2 450.1h0M236.4 449.6h0M236.6 449.8h0M236.8 449h0M236.9 450.1h0M237.1 449.6h0M237.3 448.5h0M237.5 447.8h0M237.7 448.6h0M237.9 447.8h0M238 443.1h0M238.2 448.4h0M238.4 448.3h0M238.6 448.3h0M238.8 449.9h0M238.9 446.9h0M239.1 450.2h0M239.3 448.5h0M239.5 449.5h0M239.7 439.2h0M239.8 446.8h0M240 448.9h0M240.2 449.7h0M240.4 449.4h0M240.6 444h0M240.8 446.4h0M240.9 446.8h0M241.1 448.2h0M241.3 444.3h0M241.5 449.8h0M241.7 450.1h0M241.8 444.4h0M242 447.9h0M242.2 450h0M242.4 446.6h0M242.6 448.9h0M242.7 448.9h0M242.9 448.1h0M243.1 449.6h0M243.3 447.8h0M243.5 449h0M243.6 446.9h0M243.8 445.8h0M244 449.7h0M244.2 447.4h0M244.4 445.5h0M244.6 447.2h0M244.7 450h0M244.9 450h0M245.1 449.5h0M245.3 448.3h0M245.5 445.3h0M245.6 448.6h0M245.8 439.7h0M246 447.9h0M246.2 448.9h0M246.4 449.8h0M246.5 446.4h0M246.7 446.5h0M246.9 450h0M247.1 439.8h0M247.3 449.7h0M247.4 449.3h0M247.6 448.2h0M247.8 449.5h0M248 449.1h0M248.2 439h0M248.4 448.9h0M248.5 441.2h0M248.7 443h0M248.9 441.6h0M249.1 447.3h0M249.3 448.8h0M249.4 449.1h0M249.6 447.4h0M249.8 446.7h0M250 449.7h0M250.2 441.9h0M250.3 443.8h0M250.5 450.2h0M250.7 438.4h0M250.9 436.2h0M251.1 442.1h0M251.2 448.5h0M251.4 444.7h0M251.6 443.6h0M251.8 449.3h0M252 436.6h0M252.2 438h0M252.3 438.3h0M252.5 446.4h0M252.7 448.1h0M252.9 439.9h0M253.1 437.7h0M253.2 446.4h0M253.4 434h0M253.6 442.3h0M253.8 444.8h0M254 444.7h0M254.1 448.2h0M254.3 447.7h0M254.5 446.2h0M254.7 438.9h0M254.9 447.6h0M255 447.3h0M255.2 450.1h0M255.4 446.3h0M255.6 446.7h0M255.8 447.5h0M256 449h0M256.1 446.7h0M256.3 447.5h0M256.5 435h0M256.7 434.4h0M256.9 446.7h0M257 444.2h0M257.2 446.8h0M257.4 434.9h0M257.6 442.4h0M257.8 434.8h0M257.9 449.4h0M258.1 449.3h0M258.3 441.5h0M258.5 444.9h0M258.7 447.4h0M258.8 443.1h0M259 444.9h0M259.2 449h0M259.4 436.1h0M259.6 442.6h0M259.8 435.1h0M259.9 440.2h0M260.1 440.8h0M260.3 448.8h0M260.5 448.7h0M260.7 446.3h0M260.8 446.7h0M261 444.6h0M261.2 447.8h0M261.4 441.7h0M261.6 442h0M261.7 446.1h0M261.9 446.4h0M262.1 449h0M262.3 446.2h0M262.5 448.9h0M262.6 439h0M262.8 446.3h0M263 449.4h0M263.2 449.2h0M263.4 448.9h0M263.6 444h0M263.7 448.3h0M263.9 448.1h0M264.1 450h0M264.3 444.2h0M264.5 447.6h0M264.6 449.1h0M264.8 448.3h0M265 448.1h0M265.2 448.7h0M265.4 449.2h0M265.5 444.7h0M265.7 446.1h0M265.9 447.8h0M266.1 447.9h0M266.3 448h0M266.4 441.4h0M266.6 449.9h0M266.8 447.9h0M267 450h0M267.2 450h0M267.4 450h0M267.5 449.5h0M267.7 450h0M267.9 449.4h0M268.1 445.1h0M268.3 446.2h0M268.4 450.1h0M268.6 450.1h0M268.8 449.9h0M269 446.8h0M269.2 450h0M269.3 450.2h0M269.5 449.4h0M269.7 449.5h0M269.9 450.1h0M270.1 446.1h0M270.2 449.3h0M270.4 448.4h0M270.6 449h0M270.8 448.6h0M271 449.3h0M271.2 447.2h0M271.3 449.5h0M271.5 445.1h0M271.7 444.8h0M271.9 448.7h0M272.1 450.1h0M272.2 446.4h0M272.4 450.1h0M272.6 449.8h0M272.8 450h0M273 448.5h0M273.1 448.2h0M273.3 449.9h0M273.5 449.9h0M273.7 448.5h0M273.9 449.4h0M274 449h0M274.2 449.9h0M274.4 449.2h0M274.6 448.8h0M274.8 450.2h0M275 447.2h0M275.1 449.9h0M275.3 449h0M275.5 447.2h0M275.7 446.7h0M275.9 448.4h0M276 444.8h0M276.2 449.4h0M276.4 450.1h0M276.6 448.7h0M276.8 446.8h0M276.9 449.4h0M277.1 445.5h0M277.3 444.9h0M277.5 450.2h0M277.7 446.7h0M277.8 449.2h0M278 448.8h0M278.2 449.9h0M278.4 450.1h0M278.6 449.6h0M278.8 449.9h0M278.9 450.1h0M279.1 448.8h0M279.3 449.4h0M279.5 450h0M279.7 448.5h0M279.8 450.1h0M280 449.6h0M280.2 447h0M280.4 449.8h0M280.6 449.5h0M280.7 447.1h0M280.9 449.1h0M281.1 446.3h0M281.3 449.5h0M281.5 448.3h0M281.6 446.8h0M281.8 449.6h0M282 450.2h0M282.2 449.7h0M282.4 449.2h0M282.6 447h0M282.7 448.8h0M282.9 447.5h0M283.1 450.2h0M283.3 448.8h0M283.5 449.3h0M283.6 448.1h0M283.8 449.3h0M284 445.8h0M284.2 449.7h0M284.4 446.5h0M284.5 450.1h0M284.7 449.6h0M284.9 444.8h0M285.1 449.4h0M285.3 450.1h0M285.5 449h0M285.6 448.6h0M285.8 447.2h0M286 433.2h0M286.2 450h0M286.4 447.3h0M286.5 447.5h0M286.7 450.1h0M286.9 446.6h0M287.1 448.2h0M287.3 449.2h0M287.4 449.5h0M287.6 450.2h0M287.8 448h0M288 447.1h0M288.2 447.5h0M288.3 450.1h0M288.5 449.2h0M288.7 446.3h0M288.9 450h0M289.1 448.6h0M289.3 447.3h0M289.4 447.1h0M289.6 448.1h0M289.8 450.1h0M290 448.5h0M290.2 447.8h0M290.3 446.3h0M290.5 450.1h0M290.7 447.3h0M290.9 448.9h0M291.1 449.7h0M291.2 447.2h0M291.4 447.8h0M291.6 449.6h0M291.8 449.5h0M292 445.2h0M292.1 450.1h0M292.3 448.6h0M292.5 449.6h0M292.7 449.8h0M292.9 449.6h0M293.1 437.2h0M293.2 445.2h0M293.4 446.5h0M293.6 449.8h0M293.8 448.1h0M294 449.7h0M294.1 449.8h0M294.3 450h0M294.5 448.8h0M294.7 446.9h0M294.9 449.8h0M295 443h0M295.2 447.6h0M295.4 449h0M295.6 446.6h0M295.8 448.9h0M295.9 446.8h0M296.1 448.8h0M296.3 449.2h0M296.5 449.5h0M296.7 449.9h0M296.9 442.6h0M297 450.1h0M297.2 444.8h0M297.4 449.9h0M297.6 449h0M297.8 448.1h0M297.9 449.9h0M298.1 449.8h0M298.3 449.8h0M298.5 449.9h0M298.7 449.3h0M298.8 446.8h0M299 449.8h0M299.2 448.9h0M299.4 449.1h0M299.6 448.9h0M299.7 449.8h0M299.9 448.9h0M300.1 449.4h0M300.3 448h0M300.5 449.8h0M300.7 450.1h0M300.8 447.6h0M301 448.6h0M301.2 448.8h0M301.4 449.6h0M301.6 450.2h0M301.7 444.1h0M301.9 445.9h0M302.1 449.9h0M302.3 438.4h0M302.5 445.7h0M302.6 447.4h0M302.8 448.9h0M303 447.6h0M303.2 448.4h0M303.4 448.8h0M303.5 449.1h0M303.7 446.7h0M303.9 449h0M304.1 450.1h0M304.3 449.3h0M304.5 448.6h0M304.6 447.9h0M304.8 449.9h0M305 449.7h0M305.2 449.4h0M305.4 449.8h0M305.5 449.2h0M305.7 448.7h0M305.9 449.9h0M306.1 449.3h0M306.3 448.6h0M306.4 447.6h0M306.6 448.4h0M306.8 449.7h0M307 448.1h0M307.2 449.9h0M307.3 447.3h0M307.5 448.4h0M307.7 446.6h0M307.9 449.6h0M308.1 447.7h0M308.3 449.1h0M308.4 449h0M308.6 448.6h0M308.8 449h0M309 449.8h0M309.2 449.9h0M309.3 449.3h0M309.5 449.8h0M309.7 450.1h0M309.9 445.9h0M310.1 449.7h0M310.2 446.9h0M310.4 444.1h0M310.6 448.9h0M310.8 449.8h0M311 447.8h0M311.1 446.2h0M311.3 447.5h0M311.5 449h0M311.7 449.2h0M311.9 448.8h0M312.1 449h0M312.2 449.6h0M312.4 449.8h0M312.6 449.4h0M312.8 448.3h0M313 449.3h0M313.1 449.4h0M313.3 449.9h0M313.5 449.9h0M313.7 444.6h0M313.9 446.2h0M314 449.6h0M314.2 449.9h0M314.4 448.6h0M314.6 445.8h0M314.8 449.7h0M314.9 450h0M315.1 449.2h0M315.3 449.3h0M315.5 448.7h0M315.7 449.7h0M315.9 444.6h0M316 446.3h0M316.2 448.9h0M316.4 444.1h0M316.6 450.1h0M316.8 447.3h0M316.9 449.3h0M317.1 450h0M317.3 448h0M317.5 448h0M317.7 447.1h0M317.8 448.9h0M318 449.4h0M318.2 448.4h0M318.4 446.2h0M318.6 449.6h0M318.7 448.5h0M318.9 449.6h0M319.1 448.8h0M319.3 449.1h0M319.5 448.3h0M319.7 449.6h0M319.8 450.2h0M320 449h0M320.2 446.9h0M320.4 450.1h0M320.6 448.8h0M320.7 449.3h0M320.9 445.6h0M321.1 448.9h0M321.3 449.3h0M321.5 448.9h0M321.6 447.8h0M321.8 449.6h0M322 449.5h0M322.2 449.6h0M322.4 450.2h0M322.5 447h0M322.7 448.2h0M322.9 445.9h0M323.1 449.1h0M323.3 445.1h0M323.5 449.6h0M323.6 450h0M323.8 449.4h0M324 450.2h0M324.2 446.5h0M324.4 445.5h0M324.5 449h0M324.7 449.4h0M324.9 447.9h0M325.1 449.7h0M325.3 449.6h0M325.4 449.6h0M325.6 448.5h0M325.8 449.5h0M326 449.7h0M326.2 447.9h0M326.3 450.2h0M326.5 449.8h0M326.7 449.2h0M326.9 448h0M327.1 449.1h0M327.3 450.2h0M327.4 449.2h0M327.6 449.9h0M327.8 449.6h0M328 450.1h0M328.2 449.3h0M328.3 447.6h0M328.5 450.2h0M328.7 448.1h0M328.9 443.1h0M329.1 448.3h0M329.2 450.2h0M329.4 449.3h0M329.6 449.9h0M329.8 450.1h0M330 449.7h0M330.2 447.6h0M330.3 449h0M330.5 445.6h0M330.7 449.8h0M330.9 449.5h0M331.1 449.6h0M331.2 444.6h0M331.4 449.3h0M331.6 449.1h0M331.8 450h0M332 449.6h0M332.1 447.4h0M332.3 444h0M332.5 447.9h0M332.7 449.4h0M332.9 449.9h0M333 449.5h0M333.2 447.2h0M333.4 450.1h0M333.6 449.8h0M333.8 449.8h0M334 449.8h0M334.1 449.8h0M334.3 448.6h0M334.5 449.7h0M334.7 449.8h0M334.9 449.9h0M335 447.4h0M335.2 447.8h0M335.4 445.8h0M335.6 449.7h0M335.8 449.4h0M335.9 449.3h0M336.1 446h0M336.3 450h0M336.5 448.3h0M336.7 449.5h0M336.8 450h0M337 447.4h0M337.2 448.2h0M337.4 449.6h0M337.6 445.3h0M337.8 445.7h0M337.9 449.9h0M338.1 446.4h0M338.3 447.8h0M338.5 450.1h0M338.7 449.8h0M338.8 450h0M339 449.4h0M339.2 449.7h0M339.4 449.7h0M339.6 447.4h0M339.7 448.8h0M339.9 450h0M340.1 449.3h0M340.3 444.8h0M340.5 449.4h0M340.6 443.6h0M340.8 448.3h0M341 449.6h0M341.2 449.1h0M341.4 449.1h0M341.6 449.8h0M341.7 450.2h0M341.9 448.4h0M342.1 449h0M342.3 446.1h0M342.5 449.4h0M342.6 447.5h0M342.8 444h0M343 449.3h0M343.2 449.1h0M343.4 449h0M343.5 445.9h0M343.7 449.4h0M343.9 449.9h0M344.1 448.5h0M344.3 449.6h0M344.4 450.1h0M344.6 447.3h0M344.8 447.7h0M345 449.9h0M345.2 450.1h0M345.4 446.8h0M345.5 449.6h0M345.7 447.6h0M345.9 450.1h0M346.1 450.1h0M346.3 450.2h0M346.4 449.4h0M346.6 446h0M346.8 448.6h0M347 449.4h0M347.2 449.4h0M347.3 448.3h0M347.5 447.2h0M347.7 450.1h0M347.9 447.2h0M348.1 441h0M348.2 449.4h0M348.4 447.2h0M348.6 449.9h0M348.8 447h0M349 449.8h0M349.2 449.9h0M349.3 448.1h0M349.5 446.9h0M349.7 448h0M349.9 448.4h0M350.1 448.2h0M350.2 448.2h0M350.4 450.2h0M350.6 449.6h0M350.8 449.7h0M351 447.8h0M351.1 448.4h0M351.3 443.4h0M351.5 446.3h0M351.7 449h0M351.9 446.7h0M352 449.8h0M352.2 448h0M352.4 448.8h0M352.6 447.5h0M352.8 449.4h0M353 444.9h0M353.1 450.2h0M353.3 448.6h0M353.5 448.7h0M353.7 449.6h0M353.9 448.5h0M354 448.1h0M354.2 449.2h0M354.4 443.8h0M354.6 448.4h0M354.8 448.5h0M354.9 446.4h0M355.1 446.6h0M355.3 449h0M355.5 446.8h0M355.7 449.3h0M355.8 449.2h0M356 448.8h0M356.2 450.2h0M356.4 448.6h0M356.6 450h0M356.8 449.6h0M356.9 446.9h0M357.1 443.6h0M357.3 450.2h0M357.5 449.6h0M357.7 442.3h0M357.8 449.3h0M358 447.1h0M358.2 449h0M358.4 445.8h0M358.6 445.1h0M358.7 450h0M358.9 447.6h0M359.1 446.2h0M359.3 450h0M359.5 434h0M359.6 449.8h0M359.8 449.7h0M360 448h0M360.2 445.2h0M360.4 450h0M360.6 447.8h0M360.7 449h0M360.9 449h0M361.1 443h0M361.3 450.2h0M361.5 448.4h0M361.6 449.2h0M361.8 450h0M362 441.7h0M362.2 448h0M362.4 448.2h0M362.5 448.6h0M362.7 443.7h0M362.9 447.3h0M363.1 447.7h0M363.3 450.2h0M363.4 445.8h0M363.6 447.8h0M363.8 447.9h0M364 448.2h0M364.2 445.3h0M364.4 449.8h0M364.5 446.2h0M364.7 446h0M364.9 448.8h0M365.1 449.7h0M365.3 444.5h0M365.4 449.6h0M365.6 448.9h0M365.8 449.4h0M366 446.9h0M366.2 447h0M366.3 445.1h0M366.5 449.3h0M366.7 449h0M366.9 447.4h0M367.1 450.2h0M367.2 450.1h0M367.4 441.1h0M367.6 450h0M367.8 448.7h0M368 442.3h0M368.2 450.2h0M368.3 448.5h0M368.5 437.1h0M368.7 446.5h0M368.9 448.1h0M369.1 446.7h0M369.2 447.4h0M369.4 450.2h0M369.6 444.3h0M369.8 448.2h0M370 447.8h0M370.1 446.7h0M370.3 440.2h0M370.5 447.8h0M370.7 448.7h0M370.9 447.9h0M371 448.3h0M371.2 450h0M371.4 450h0M371.6 444h0M371.8 445.3h0M372 449.8h0M372.1 448.7h0M372.3 448.6h0M372.5 445.6h0M372.7 447.8h0M372.9 449.9h0M373 449.5h0M373.2 437.1h0M373.4 449.6h0M373.6 449.8h0M373.8 446.9h0M373.9 450.2h0M374.1 449.7h0M374.3 449.8h0M374.5 447.9h0M374.7 447.9h0M374.9 446.2h0M375 446.5h0M375.2 433.5h0M375.4 445.9h0M375.6 447.9h0M375.8 442.6h0M375.9 450.1h0M376.1 447.6h0M376.3 434h0M376.5 449h0M376.7 447.9h0M376.8 441.4h0M377 447.1h0M377.2 446.8h0M377.4 445.2h0M377.6 447.4h0M377.7 440.1h0M377.9 447.1h0M378.1 444.6h0M378.3 442.5h0M378.5 444.7h0M378.7 443.3h0M378.8 446.5h0M379 448.3h0M379.2 444.5h0M379.4 449.4h0M379.6 439.4h0M379.7 449.5h0M379.9 442.6h0M380.1 448.1h0M380.3 446.9h0M380.5 449.8h0M380.6 445.5h0M380.8 436.2h0M381 436.7h0M381.2 432.7h0M381.4 445.4h0M381.5 449.6h0M381.7 449.5h0M381.9 449.6h0M382.1 446.7h0M382.3 434.9h0M382.5 440h0M382.6 448.3h0M382.8 449.7h0M383 448.5h0M383.2 436.5h0M383.4 441.1h0M383.5 444.6h0M383.7 447.1h0M383.9 450.1h0M384.1 448.3h0M384.3 446h0M384.4 446.2h0M384.6 443.6h0M384.8 450.2h0M385 445.2h0M385.2 443.2h0M385.3 448.9h0M385.5 439.4h0M385.7 449.6h0M385.9 449h0M386.1 449.6h0M386.3 449.9h0M386.4 447.7h0M386.6 447.2h0M386.8 449.4h0M387 446.9h0M387.2 440.4h0M387.3 445.7h0M387.5 448.8h0M387.7 449.5h0M387.9 445.3h0M388.1 446.1h0M388.2 438.5h0M388.4 449.8h0M388.6 447.8h0M388.8 447h0M389 450h0M389.1 448.8h0M389.3 444.9h0M389.5 447.8h0M389.7 446.2h0M389.9 448.4h0M390.1 443.1h0M390.2 448.3h0M390.4 446.7h0M390.6 450.1h0M390.8 438.1h0M391 447.8h0M391.1 444.7h0M391.3 448.8h0M391.5 448.6h0M391.7 449.6h0M391.9 448.7h0M392 436.2h0M392.2 449.9h0M392.4 446.7h0M392.6 446.1h0M392.8 439.4h0M392.9 438.8h0M393.1 450.1h0M393.3 448.7h0M393.5 449.8h0M393.7 448.3h0M393.9 446.9h0M394 449.7h0M394.2 448.2h0M394.4 439.4h0M394.6 449.4h0M394.8 446.2h0M394.9 441.9h0M395.1 447.4h0M395.3 441.2h0M395.5 443.8h0M395.7 449.6h0M395.8 448.5h0M396 447.2h0M396.2 448.8h0M396.4 440.1h0M396.6 450.1h0M396.7 442.6h0M396.9 446.9h0M397.1 449h0M397.3 444.4h0M397.5 449.1h0M397.7 444.9h0M397.8 448.4h0M398 446.1h0M398.2 443.7h0M398.4 435.8h0" fill="none" stroke="#0072BD" stroke-width="2.8" stroke-linecap="round"/>
<path d="M233.8 450.2h0M234 450h0M234.1 450h0M234.3 450.1h0M234.5 449.7h0M234.7 449.3h0M234.9 450.1h0M235 449.5h0M235.2 448.9h0M235.4 450.1h0M235.6 450.2h0M235.8 449h0M236 449.9h0M236.1 450.1h0M236.3 448.8h0M236.5 450.1h0M236.7 448.7h0M236.9 447.6h0M237 449.9h0M237.2 447.4h0M237.4 448h0M237.6 450.1h0M237.8 449.1h0M237.9 450h0M238.1 448.5h0M238.3 448.6h0M238.5 449.7h0M238.7 447.8h0M238.9 447h0M239 444.8h0M239.2 449h0M239.4 449.9h0M239.6 448.5h0M239.8 449.5h0M239.9 450h0M240.1 450h0M240.3 442.8h0M240.5 443.2h0M240.7 446.1h0M240.8 442.4h0M241 442.4h0M241.2 448.1h0M241.4 445.8h0M241.6 443.4h0M241.7 443.6h0M241.9 449h0M242.1 446.9h0M242.3 447.1h0M242.5 447.8h0M242.7 442h0M242.8 444.6h0M243 448.5h0M243.2 444.5h0M243.4 444.7h0M243.6 443.2h0M243.7 441.7h0M243.9 446.5h0M244.1 450.2h0M244.3 448.9h0M244.5 438h0M244.6 446.5h0M244.8 449.8h0M245 437.7h0M245.2 438.5h0M245.4 442.8h0M245.5 448.1h0M245.7 442.4h0M245.9 435.7h0M246.1 441.3h0M246.3 445.9h0M246.5 450h0M246.6 449h0M246.8 435h0M247 450.2h0M247.2 435.8h0M247.4 438h0M247.5 449.3h0M247.7 448.5h0M247.9 440h0M248.1 448.5h0M248.3 432.8h0M248.4 448.7h0M248.6 447.7h0M248.8 438.3h0M249 439.7h0M249.2 447.4h0M249.3 449.4h0M249.5 448.1h0M249.7 444h0M249.9 432.7h0M250.1 441.5h0M250.3 435.4h0M250.4 432.8h0M250.6 433.4h0M250.8 441.5h0M251 444.8h0M251.2 434h0M251.3 431.3h0M251.5 447.3h0M251.7 446.6h0M251.9 447.1h0M252.1 439.2h0M252.2 450h0M252.4 446.1h0M252.6 433.7h0M252.8 432.4h0M253 449.4h0M253.1 445.2h0M253.3 432.4h0M253.5 438.2h0M253.7 450.2h0M253.9 442.2h0M254.1 447.5h0M254.2 443.7h0M254.4 445.9h0M254.6 443.5h0M254.8 437h0M255 432.5h0M255.1 444.9h0M255.3 448.3h0M255.5 449.8h0M255.7 435.7h0M255.9 449.6h0M256 443.8h0M256.2 441.8h0M256.4 448.8h0M256.6 447.1h0M256.8 434.8h0M256.9 432.4h0M257.1 449.1h0M257.3 434h0M257.5 448.2h0M257.7 436h0M257.9 440.6h0M258 444.9h0M258.2 438.6h0M258.4 442.9h0M258.6 433.5h0M258.8 441.5h0M258.9 450.1h0M259.1 445h0M259.3 441.1h0M259.5 434.3h0M259.7 439.8h0M259.8 448.5h0M260 450.1h0M260.2 436.2h0M260.4 447.8h0M260.6 442.7h0M260.7 439.2h0M260.9 437.5h0M261.1 445.4h0M261.3 432.8h0M261.5 449.6h0M261.7 443h0M261.8 446.4h0M262 450.1h0M262.2 448h0M262.4 449.1h0M262.6 445.5h0M262.7 448.5h0M262.9 442h0M263.1 436.1h0M263.3 441.8h0M263.5 438.2h0M263.6 445.5h0M263.8 450.2h0M264 445.2h0M264.2 445.4h0M264.4 443.3h0M264.5 441.4h0M264.7 449.8h0M264.9 449.6h0M265.1 449h0M265.3 449.2h0M265.5 445.9h0M265.6 445.4h0M265.8 443.9h0M266 449.4h0M266.2 447.1h0M266.4 448.2h0M266.5 448.5h0M266.7 448.9h0M266.9 450h0M267.1 448h0M267.3 447.6h0M267.4 449.8h0M267.6 449.7h0M267.8 448.4h0M268 448.1h0M268.2 450.2h0M268.3 449.1h0M268.5 450.2h0M268.7 450h0M268.9 449.8h0" fill="none" stroke="#0072BD" stroke-width="2.6" stroke-linecap="round"/>
<path d="M398.6 449.7h0M398.6 446.4h0M398.7 450h0M398.8 444.4h0M398.9 447.5h0M399 449.8h0M399.1 450h0M399.2 446.1h0M399.3 448.7h0M399.4 447.9h0M399.5 447.6h0M399.6 448.1h0M399.6 446.1h0M399.7 449.8h0M399.8 445h0M399.9 450.1h0M400 447.7h0M400.1 448.2h0M400.2 447.2h0M400.3 444.8h0M400.4 447.3h0M400.5 445.7h0M400.5 448.6h0M400.6 445h0M400.7 444.3h0M400.8 448.8h0M400.9 446.2h0M401 443h0M401.1 432.9h0M401.2 448.8h0M401.3 444h0M401.4 448.4h0M401.5 446.9h0M401.5 447.2h0M401.6 449.4h0M401.7 443.8h0M401.8 444.7h0M401.9 450.1h0M402 445.8h0M402.1 449.1h0M402.2 448.7h0M402.3 449.4h0M402.4 449.3h0M402.4 449.3h0M402.5 449.3h0M402.6 446.8h0M402.7 447.5h0M402.8 447.3h0M402.9 449.8h0M403 442.9h0M403.1 448.9h0M403.2 449.9h0M403.3 449.2h0M403.4 441.3h0M403.4 447.5h0M403.5 449.2h0M403.6 445.5h0M403.7 449.8h0M403.8 445.2h0M403.9 448.9h0M404 449h0M404.1 445.7h0M404.2 447.7h0M404.3 449.3h0M404.3 449.4h0M404.4 440.7h0M404.5 448.9h0M404.6 449.5h0M404.7 439.9h0M404.8 447.2h0M404.9 444.9h0M405 447.7h0M405.1 449.3h0M405.2 442.4h0M405.3 449.8h0M405.3 447.1h0M405.4 433.8h0M405.5 448.8h0M405.6 446.8h0M405.7 443.9h0M405.8 445.7h0M405.9 440.1h0M406 447.6h0M406.1 445h0M406.2 442.5h0M406.2 449.6h0M406.3 449.2h0M406.4 448.4h0M406.5 449.8h0M406.6 445.1h0M406.7 449.1h0M406.8 450.2h0M406.9 449.9h0M407 447.3h0M407.1 449.8h0M407.2 448.8h0M407.2 449.3h0M407.3 449.3h0M407.4 448.5h0M407.5 445.5h0M407.6 449.9h0M407.7 445.2h0M407.8 448.1h0M407.9 448.9h0M408 449.7h0M408.1 449.4h0M408.1 449.4h0M408.2 446.8h0M408.3 443.6h0M408.4 450.1h0M408.5 447.3h0M408.6 447.6h0M408.7 438.5h0M408.8 450.2h0M408.9 446.7h0M409 449.3h0M409.1 449.4h0M409.1 445.1h0M409.2 450.1h0M409.3 449.6h0M409.4 448.7h0M409.5 447.2h0M409.6 449.3h0M409.7 449h0M409.8 446.6h0M409.9 449.4h0M410 448.8h0M410 449.9h0M410.1 450.1h0M410.2 447.7h0M410.3 446.5h0M410.4 448.1h0M410.5 447h0M410.6 448.6h0M410.7 449.5h0M410.8 449h0M410.9 448.6h0M411 449.8h0M411 447.5h0M411.1 447.8h0M411.2 449.2h0M411.3 448h0M411.4 447.6h0M411.5 449h0M411.6 447.3h0M411.7 447.9h0M411.8 448.6h0M411.9 449.5h0M411.9 444.7h0M412 449.3h0M412.1 448.5h0M412.2 448.2h0M412.3 446.9h0M412.4 449.8h0M412.5 448h0M412.6 448.5h0M412.7 450h0M412.8 448.2h0M412.9 446.6h0M412.9 446h0M413 449.3h0M413.1 443h0M413.2 448h0M413.3 448.3h0M413.4 446.9h0M413.5 449.5h0M413.6 449.8h0M413.7 448.7h0M413.8 449.1h0M413.8 450.2h0M413.9 440.1h0M414 436.3h0M414.1 448.1h0M414.2 441.8h0M414.3 444.8h0M414.4 449.2h0M414.5 448.2h0M414.6 449.1h0M414.7 444.9h0M414.8 448.3h0M414.8 448.4h0M414.9 435.6h0M415 449.3h0M415.1 449.8h0M415.2 449.9h0M415.3 442.7h0M415.4 448.6h0M415.5 449.2h0M415.6 447.3h0M415.7 450h0M415.7 445.9h0M415.8 448.1h0M415.9 448h0M416 449.4h0M416.1 442.2h0M416.2 443.3h0M416.3 450.1h0M416.4 443.1h0M416.5 448.2h0M416.6 443.4h0M416.7 450.2h0M416.7 450.2h0M416.8 449.5h0M416.9 444.5h0M417 450.1h0M417.1 449.2h0M417.2 446.5h0M417.3 449.7h0M417.4 449.6h0M417.5 447h0M417.6 444.6h0M417.7 448.6h0M417.7 449.8h0M417.8 448.3h0M417.9 448.8h0M418 446.1h0M418.1 441h0M418.2 448.2h0M418.3 445.2h0M418.4 448.9h0M418.5 447.7h0M418.6 450h0M418.6 450.2h0M418.7 449.1h0M418.8 450h0M418.9 450.1h0M419 443.5h0M419.1 446.7h0M419.2 448.9h0M419.3 448.7h0M419.4 440h0M419.5 448.5h0M419.6 443.6h0M419.6 449.6h0M419.7 438.2h0M419.8 444h0M419.9 445.1h0M420 448h0M420.1 448h0M420.2 448.1h0M420.3 447.7h0M420.4 441.3h0M420.5 448.1h0M420.5 448h0M420.6 447.7h0M420.7 449.4h0M420.8 450h0M420.9 444.4h0M421 440.5h0M421.1 450h0M421.2 440.2h0M421.3 448.4h0M421.4 446.5h0M421.5 449.7h0M421.5 441.2h0M421.6 443.1h0M421.7 449.6h0M421.8 448.4h0M421.9 449.3h0M422 442.7h0M422.1 446.5h0M422.2 447.4h0M422.3 435.5h0M422.4 449h0M422.4 448.4h0M422.5 438.6h0M422.6 450h0M422.7 449.2h0M422.8 444.6h0M422.9 442.8h0M423 446.2h0M423.1 437.3h0M423.2 439.2h0M423.3 441.5h0M423.4 436.9h0M423.4 445.4h0M423.5 447.8h0M423.6 444.9h0M423.7 447.6h0M423.8 450.1h0M423.9 436.2h0M424 445.1h0M424.1 445.7h0M424.2 445.8h0M424.3 442.4h0M424.3 446.7h0M424.4 444h0M424.5 447.8h0M424.6 450.1h0M424.7 443h0M424.8 448.1h0M424.9 448h0M425 449.8h0M425.1 450.1h0M425.2 448.4h0M425.3 438.1h0M425.3 443.3h0M425.4 437h0M425.5 445h0M425.6 440.9h0M425.7 446h0M425.8 447.2h0M425.9 448.2h0M426 437.5h0M426.1 444.5h0M426.2 435.9h0M426.2 444.9h0M426.3 449h0M426.4 444.9h0M426.5 445.9h0M426.6 440h0M426.7 446h0M426.8 445.1h0M426.9 448.2h0M427 448.8h0M427.1 448.3h0M427.2 437h0M427.2 450h0M427.3 447h0M427.4 446.1h0M427.5 448.8h0M427.6 448.5h0M427.7 449.8h0M427.8 447.9h0M427.9 436h0M428 444.7h0M428.1 449.6h0M428.1 447.4h0M428.2 449.7h0M428.3 449.1h0M428.4 437.3h0M428.5 448.4h0M428.6 449.7h0M428.7 450.2h0M428.8 447.5h0M428.9 448.4h0M429 448.9h0M429.1 433.5h0M429.1 447.7h0M429.2 446.5h0M429.3 447h0M429.4 433.9h0M429.5 443.2h0M429.6 434.8h0M429.7 448.6h0M429.8 439.8h0M429.9 443.6h0M430 443.4h0M430 449.5h0M430.1 446.2h0M430.2 447.2h0M430.3 444.4h0M430.4 447.4h0M430.5 447.7h0M430.6 448h0M430.7 447.3h0M430.8 448.4h0M430.9 450.1h0M431 450h0M431 448.1h0M431.1 447.2h0M431.2 449.7h0M431.3 446h0M431.4 445.7h0M431.5 443.1h0M431.6 447.1h0M431.7 444.7h0M431.8 449.3h0M431.9 443.1h0M431.9 444.8h0M432 445.1h0M432.1 435.1h0M432.2 433.7h0M432.3 449.1h0M432.4 444.5h0M432.5 445.7h0M432.6 436.4h0M432.7 441.7h0M432.8 442.3h0M432.9 446.9h0M432.9 445.6h0M433 450h0M433.1 447.8h0M433.2 434.2h0M433.3 447h0M433.4 444.7h0M433.5 443.9h0M433.6 447.8h0M433.7 445h0M433.8 445.9h0M433.8 449.9h0M433.9 448.1h0M434 447.4h0M434.1 441.6h0M434.2 447.8h0M434.3 444.8h0M434.4 446.4h0M434.5 445.7h0M434.6 446.9h0M434.7 440.5h0M434.8 449.9h0M434.8 448.9h0M434.9 444.1h0M435 448h0M435.1 450.1h0M435.2 449.7h0M435.3 450h0M435.4 449.3h0M435.5 449.8h0M435.6 450h0M435.7 449.5h0M435.7 446.9h0M435.8 449.7h0M435.9 439.1h0M436 439.8h0M436.1 444.5h0M436.2 450.1h0M436.3 437.6h0M436.4 446.7h0M436.5 448.8h0M436.6 449.8h0M436.7 449.1h0M436.7 437.3h0M436.8 448.7h0M436.9 449.7h0M437 446.9h0M437.1 449.8h0M437.2 444.9h0M437.3 438.5h0M437.4 442h0M437.5 449.8h0M437.6 449.9h0M437.6 449.1h0M437.7 449h0M437.8 443.9h0M437.9 440.5h0M438 449h0M438.1 439.2h0M438.2 449.4h0M438.3 450h0M438.4 442.6h0M438.5 450h0M438.6 447.9h0M438.6 445.7h0M438.7 447.8h0M438.8 446.8h0M438.9 440.6h0M439 444.3h0M439.1 444.7h0M439.2 446.1h0M439.3 449.4h0M439.4 447.2h0M439.5 447h0M439.5 441.3h0M439.6 441.8h0M439.7 445.7h0M439.8 444.6h0M439.9 443.8h0M440 446.9h0M440.1 449.5h0M440.2 449.3h0M440.3 436h0M440.4 449.6h0M440.5 449.2h0M440.5 437.8h0M440.6 445.9h0M440.7 446.9h0M440.8 443.1h0M440.9 445.6h0M441 449.9h0M441.1 439.7h0M441.2 434.3h0M441.3 446.1h0M441.4 445.1h0M441.4 438.4h0" fill="none" stroke="#D95319" stroke-width="2.8" stroke-linecap="round"/>
<path d="M441.9 391.7h0M442.1 368.3h0M442.4 356.6h0M442.8 374.1h0M443.3 339.1h0M443.7 380h0M444.2 353.7h0M444.6 415.1h0M445.1 423.9h0M445.5 359.5h0M446 362.4h0M446.4 382.9h0M446.9 394.6h0M447.3 388.8h0M447.8 368.3h0M448.2 380h0M448.7 409.2h0M449.1 397.6h0M442.8 377.1h0M443.7 385.8h0M444.8 426.8h0M445.7 391.7h0M446.6 385.8h0M447.5 371.2h0M448.4 406.3h0M441.7 377.1h0M442.6 365.4h0M449.1 403.4h0M450 385.8h0M463.6 374.1h0M447.8 353.7h0M446.9 350.8h0" fill="none" stroke="#EDB120" stroke-width="3.0" stroke-linecap="round"/>
<path d="M127.1 431.2H482.8" stroke="#5e5e5e" stroke-width="2" stroke-dasharray="11.7 8.02" fill="none"/>
<path d="M135.8 424.4l7.4 7.4m-7.4 0l7.4 -7.4M146.3 400.3l7.4 7.4m-7.4 0l7.4 -7.4M172.3 417l7.4 7.4m-7.4 0l7.4 -7.4M181.3 421.3l7.4 7.4m-7.4 0l7.4 -7.4M232.8 425.4l7.4 7.4m-7.4 0l7.4 -7.4M240.3 399.1l7.4 7.4m-7.4 0l7.4 -7.4M242.3 387.4l7.4 7.4m-7.4 0l7.4 -7.4M244.8 399.1l7.4 7.4m-7.4 0l7.4 -7.4M246.3 380.4l7.4 7.4m-7.4 0l7.4 -7.4M247.8 354.8l7.4 7.4m-7.4 0l7.4 -7.4M253.8 357.6l7.4 7.4m-7.4 0l7.4 -7.4M257.8 397.9l7.4 7.4m-7.4 0l7.4 -7.4M279.8 400.3l7.4 7.4m-7.4 0l7.4 -7.4M338.8 406.7l7.4 7.4m-7.4 0l7.4 -7.4M344.1 420.2l7.4 7.4m-7.4 0l7.4 -7.4M385.7 424.3l7.4 7.4m-7.4 0l7.4 -7.4M393.9 424.3l7.4 7.4m-7.4 0l7.4 -7.4M240.9 408.5l7.4 7.4m-7.4 0l7.4 -7.4M242.8 404.4l7.4 7.4m-7.4 0l7.4 -7.4M244.1 420.2l7.4 7.4m-7.4 0l7.4 -7.4M245.5 417.2l7.4 7.4m-7.4 0l7.4 -7.4M249.1 410.2l7.4 7.4m-7.4 0l7.4 -7.4M250.9 405.6l7.4 7.4m-7.4 0l7.4 -7.4M240.9 398.5l7.4 7.4m-7.4 0l7.4 -7.4M239.1 405.6l7.4 7.4m-7.4 0l7.4 -7.4M243.7 423.1l7.4 7.4m-7.4 0l7.4 -7.4M251.8 424.3l7.4 7.4m-7.4 0l7.4 -7.4M250 418.4l7.4 7.4m-7.4 0l7.4 -7.4M347.7 425.4l7.4 7.4m-7.4 0l7.4 -7.4M426.9 425.3l7.4 7.4m-7.4 0l7.4 -7.4M422.7 427.1l7.4 7.4m-7.4 0l7.4 -7.4M433.3 422.7l7.4 7.4m-7.4 0l7.4 -7.4M424.3 426.7l7.4 7.4m-7.4 0l7.4 -7.4M423.3 426.8l7.4 7.4m-7.4 0l7.4 -7.4M429.2 426.5l7.4 7.4m-7.4 0l7.4 -7.4M434 420.6l7.4 7.4m-7.4 0l7.4 -7.4M423.1 426.6l7.4 7.4m-7.4 0l7.4 -7.4M426.8 421.5l7.4 7.4m-7.4 0l7.4 -7.4M435.9 422.4l7.4 7.4m-7.4 0l7.4 -7.4M421.9 426.8l7.4 7.4m-7.4 0l7.4 -7.4M426.3 427.2l7.4 7.4m-7.4 0l7.4 -7.4M421.5 425.8l7.4 7.4m-7.4 0l7.4 -7.4M429.9 427.1l7.4 7.4m-7.4 0l7.4 -7.4M432.2 424.7l7.4 7.4m-7.4 0l7.4 -7.4M431.2 422.4l7.4 7.4m-7.4 0l7.4 -7.4M436.4 361.7l7.4 7.4m-7.4 0l7.4 -7.4" fill="none" stroke="#7E2F8E" stroke-width="1.25"/>
<text x="127.1" y="471" font-size="16.4" text-anchor="middle">1</text>
<text x="398.5" y="471" font-size="16.4" text-anchor="middle">3000</text>
<text x="441.4" y="471" font-size="16.4" text-anchor="middle">3475</text>
<text x="482.8" y="471" font-size="16.4" text-anchor="middle">3932</text>
<text x="122.9" y="457.1" font-size="16.4" text-anchor="end">0</text>
<text x="122.9" y="398.6" font-size="16.4" text-anchor="end">100</text>
<text x="122.9" y="340.1" font-size="16.4" text-anchor="end">200</text>
<path d="M131.3 587.5V798.4M197.2 587.5V798.4M263.1 587.5V798.4M328.9 587.5V798.4M394.8 587.5V798.4M460.7 587.5V798.4M523.3 587.5V798.4" stroke="#e0e1e3" stroke-width="1.1" fill="none"/>
<path d="M65.5 587.5H583.5V798.4H65.5ZM131.3 798.4v-5.2M131.3 587.5v5.2M197.2 798.4v-5.2M197.2 587.5v5.2M263.1 798.4v-5.2M263.1 587.5v5.2M328.9 798.4v-5.2M328.9 587.5v5.2M394.8 798.4v-5.2M394.8 587.5v5.2M460.7 798.4v-5.2M460.7 587.5v5.2M523.3 798.4v-5.2M523.3 587.5v5.2M65.5 745.7h5.2M583.5 745.7h-5.2M65.5 693h5.2M583.5 693h-5.2M65.5 640.2h5.2M583.5 640.2h-5.2" stroke="#262626" stroke-width="1.2" fill="none"/>
<path d="M65.5 797.3h0M65.7 782.1h0M65.8 794.8h0M65.9 769.5h0M66.1 792.5h0M66.2 797.6h0M66.3 795.4h0M66.5 782.1h0M66.6 796h0M66.7 794h0M66.9 794.5h0M67 794.9h0M67.1 793.1h0M67.3 792.1h0M67.4 796.1h0M67.5 791h0M67.7 796.4h0M67.8 792.2h0M67.9 796.5h0M68.1 788.3h0M68.2 793.3h0M68.3 795.1h0M68.4 794.2h0M68.6 790.4h0M68.7 797.3h0M68.8 796.3h0M69 797.6h0M69.1 797.6h0M69.2 789.6h0M69.4 793.9h0M69.5 796.2h0M69.6 796.8h0M69.8 783.8h0M69.9 798.3h0M70 791.7h0M70.2 793.7h0M70.3 797.8h0M70.4 791.8h0M70.6 797h0M70.7 798h0M70.8 796.9h0M71 797h0M71.1 794.1h0M71.2 796.1h0M71.3 795.6h0M71.5 792.8h0M71.6 797.2h0M71.7 795.6h0M71.9 796.4h0M72 796.2h0M72.1 782.5h0M72.3 791.9h0M72.4 794.3h0M72.5 794.4h0M72.7 798h0M72.8 797.6h0M72.9 785.6h0M73.1 789.3h0M73.2 789.2h0M73.3 796.8h0M73.5 791.4h0M73.6 797.5h0M73.7 795h0M73.9 793.1h0M74 797.6h0M74.1 792.6h0M74.2 794h0M74.4 784.5h0M74.5 781.1h0M74.6 796.9h0M74.8 781.3h0M74.9 793.2h0M75 785.9h0M75.2 796.1h0M75.3 796.7h0M75.4 797.5h0M75.6 795.3h0M75.7 798h0M75.8 797.9h0M76 796.5h0M76.1 794.7h0M76.2 784.2h0M76.4 796.2h0M76.5 790h0M76.6 791.6h0M76.7 794.3h0M76.9 792.1h0M77 795.9h0M77.1 794.5h0M77.3 784.2h0M77.4 797h0M77.5 790.7h0M77.7 798.3h0M77.8 775.2h0M77.9 794.3h0M78.1 787.7h0M78.2 797.8h0M78.3 795.9h0M78.5 793.5h0M78.6 792.5h0M78.7 787.7h0M78.9 793.9h0M79 787.3h0M79.1 786.9h0M79.3 798.2h0M79.4 785.1h0M79.5 787.6h0M79.6 796.8h0M79.8 794.9h0M79.9 796.2h0M80 792.3h0M80.2 797.3h0M80.3 797.3h0M80.4 796.2h0M80.6 795.1h0M80.7 792.7h0M80.8 797.5h0M81 797.6h0M81.1 791.7h0M81.2 795.6h0M81.4 798.2h0M81.5 795.1h0M81.6 781.6h0M81.8 793.2h0M81.9 796.3h0M82 792.4h0M82.2 798.3h0M82.3 797.3h0M82.4 790.6h0M82.5 795.6h0M82.7 786.5h0M82.8 798.3h0M82.9 797.8h0M83.1 776.6h0M83.2 796.2h0M83.3 798.2h0M83.5 793.9h0M83.6 797.4h0M83.7 780.3h0M83.9 794.2h0M84 798.1h0M84.1 796h0M84.3 792.6h0M84.4 797.2h0M84.5 796.2h0M84.7 796.2h0M84.8 796.8h0M84.9 779.2h0M85.1 796.8h0M85.2 793.4h0M85.3 772.4h0M85.4 797.3h0M85.6 797.9h0M85.7 797.4h0M85.8 794h0M86 790.8h0M86.1 793.3h0M86.2 797.9h0M86.4 797.3h0M86.5 797.9h0M86.6 795.5h0M86.8 797.4h0M86.9 795.1h0M87 785.3h0M87.2 777.9h0M87.3 796.1h0M87.4 797.2h0M87.6 794.3h0M87.7 796.9h0M87.8 795.1h0M87.9 784.5h0M88.1 789.1h0M88.2 798h0M88.3 773.2h0M88.5 794.2h0M88.6 796.5h0M88.7 795.7h0M88.9 797h0M89 791h0M89.1 797.3h0M89.3 784.4h0M89.4 772h0M89.5 787.6h0M89.7 793.6h0M89.8 793.1h0M89.9 789.6h0M90.1 798.3h0M90.2 798.1h0M90.3 788.4h0M90.5 798.2h0M90.6 776.2h0M90.7 789.1h0M90.8 796.3h0M91 796.8h0M91.1 792.9h0M91.2 793.7h0M91.4 794.5h0M91.5 796.1h0M91.6 798h0M91.8 798.3h0M91.9 798h0M92 788.5h0M92.2 796.1h0M92.3 798.4h0M92.4 794.5h0M92.6 797.9h0M92.7 785.5h0M92.8 796.8h0M93 798.2h0M93.1 793.3h0M93.2 793.3h0M93.4 794.3h0M93.5 798.1h0M93.6 794.6h0M93.7 797.7h0M93.9 795.2h0M94 788.5h0M94.1 796.1h0M94.3 789.8h0M94.4 797.1h0M94.5 786.5h0M94.7 795.4h0M94.8 796.5h0M94.9 779.8h0M95.1 796.3h0M95.2 794.6h0M95.3 797.2h0M95.5 790.2h0M95.6 792.2h0M95.7 793.5h0M95.9 770.9h0M96 791.4h0M96.1 793.8h0M96.3 794h0M96.4 797.4h0M96.5 787.3h0M96.6 796.3h0M96.8 772.8h0M96.9 794.9h0M97 796.3h0M97.2 795.5h0M97.3 797.3h0M97.4 786h0M97.6 788.9h0M97.7 794h0M97.8 795.3h0M98 791.9h0M98.1 793.9h0M98.2 792.4h0M98.4 784h0M98.5 785.5h0M98.6 796.1h0M98.8 795h0M98.9 793h0M99 792.7h0M99.1 794.3h0M99.3 777.9h0M99.4 790.9h0M99.5 781.6h0M99.7 794.9h0M99.8 792.7h0M99.9 788.5h0M100.1 781.3h0M100.2 792.8h0M100.3 795.1h0M100.5 794.4h0M100.6 791.6h0M100.7 783.7h0M100.9 793.1h0M101 796.9h0M101.1 792.2h0M101.3 796.7h0M101.4 790.3h0M101.5 784.7h0M101.7 795.1h0M101.8 793h0M101.9 789.6h0M102 786.8h0M102.2 797.6h0M102.3 797.7h0M102.4 780.6h0M102.6 789.2h0M102.7 797.3h0M102.8 795.7h0M103 781.4h0M103.1 794.6h0M103.2 794.1h0M103.4 795.2h0M103.5 797.9h0M103.6 797.2h0M103.8 798h0M103.9 786.2h0M104 791.4h0M104.2 791.4h0M104.3 787h0M104.4 797.1h0M104.6 795.7h0M104.7 797.3h0M104.8 786.5h0M104.9 792.8h0M105.1 779.2h0M105.2 789.8h0M105.3 796.6h0M105.5 788.3h0M105.6 792.1h0M105.7 796.4h0M105.9 795.4h0M106 793.8h0M106.1 798.2h0M106.3 790.9h0M106.4 772.6h0M106.5 798.3h0M106.7 794.7h0M106.8 792.8h0M106.9 796.9h0M107.1 795.7h0M107.2 796h0M107.3 797.2h0M107.4 794.9h0M107.6 796.8h0M107.7 798h0M107.8 798h0M108 796.4h0M108.1 797.9h0M108.2 796h0M108.4 797.5h0M108.5 797.8h0M108.6 797.8h0M108.8 781.9h0M108.9 796.8h0M109 779.2h0M109.2 770.8h0M109.3 776.5h0M109.4 795.6h0M109.6 789.9h0M109.7 797.1h0M109.8 788.9h0M110 796.5h0M110.1 791.6h0M110.2 795.2h0M110.3 790.6h0M110.5 797.7h0M110.6 792.2h0M110.7 791.4h0M110.9 789.3h0M111 791.3h0M111.1 792.3h0M111.3 789.6h0M111.4 790.3h0M111.5 796.1h0M111.7 789.1h0M111.8 795.5h0M111.9 792.8h0M112.1 796h0M112.2 790.4h0M112.3 797.4h0M112.5 798.4h0M112.6 792.1h0M112.7 788.7h0M112.9 797.4h0M113 796h0M113.1 791.7h0M113.2 792.4h0M113.4 792.1h0M113.5 796.9h0M113.6 797h0M113.8 791.3h0M113.9 778.7h0M114 797.2h0M114.2 792.4h0M114.3 789.7h0M114.4 784.6h0M114.6 790.9h0M114.7 791.3h0M114.8 795.4h0M115 792.8h0M115.1 795.5h0M115.2 798.1h0M115.4 796.4h0M115.5 795.8h0M115.6 795.8h0M115.8 796h0M115.9 793h0M116 794.9h0M116.1 791h0M116.3 798.1h0M116.4 794.7h0M116.5 797.7h0M116.7 792.4h0M116.8 795.2h0M116.9 790.5h0M117.1 797.1h0M117.2 791.5h0M117.3 785.8h0M117.5 788.1h0M117.6 798.2h0M117.7 795.7h0M117.9 795.6h0M118 796.5h0M118.1 792.4h0M118.3 793.9h0M118.4 779.9h0M118.5 795.1h0M118.6 792.2h0M118.8 781.4h0M118.9 792.2h0M119 793.5h0M119.2 795.7h0M119.3 790.1h0M119.4 779.8h0M119.6 795.9h0M119.7 795.8h0M119.8 792h0M120 797.9h0M120.1 792.3h0M120.2 791.7h0M120.4 791.4h0M120.5 797.8h0M120.6 796h0M120.8 769.8h0M120.9 788.6h0M121 795.2h0M121.2 791.1h0M121.3 794.7h0M121.4 784.1h0M121.5 787.3h0M121.7 796h0M121.8 791.7h0M121.9 797.5h0M122.1 793.3h0M122.2 783.8h0M122.3 787.9h0M122.5 794.5h0M122.6 797.8h0M122.7 796.4h0M122.9 797.4h0M123 798.2h0M123.1 796.4h0M123.3 796.2h0M123.4 797.9h0M123.5 796.7h0M123.7 786.6h0M123.8 792.4h0M123.9 793.9h0M124.1 792.2h0M124.2 792.1h0M124.3 791.1h0M124.4 797.6h0M124.6 798.4h0M124.7 795.9h0M124.8 788.4h0M125 790.8h0M125.1 787.6h0M125.2 797.2h0M125.4 795.5h0M125.5 793.2h0M125.6 784h0M125.8 796h0M125.9 798.2h0M126 786.4h0M126.2 792.2h0M126.3 797.4h0M126.4 797.2h0M126.6 786.9h0M126.7 778.2h0M126.8 789.8h0M127 790.9h0M127.1 797.8h0M127.2 773.7h0M127.3 796.8h0M127.5 793.6h0M127.6 779.8h0M127.7 792h0M127.9 796.4h0M128 798.3h0M128.1 798.2h0M128.3 790.6h0M128.4 794.2h0M128.5 792.1h0M128.7 793.6h0M128.8 798.2h0M128.9 796.3h0M129.1 795.7h0M129.2 791.2h0M129.3 797.8h0M129.5 792.9h0M129.6 791.5h0M129.7 788.4h0M129.8 797.2h0M130 795.7h0M130.1 797.9h0M130.2 798.1h0M130.4 798.3h0M130.5 785.1h0M130.6 783.2h0M130.8 790.6h0M130.9 796.4h0M131 795.4h0M131.2 795h0M131.3 795.1h0M131.4 797h0M131.6 798.2h0M131.7 789.3h0M131.8 797h0M132 790.2h0M132.1 798h0M132.2 782.3h0M132.4 790.7h0M132.5 787h0M132.6 798.4h0M132.7 794.9h0M132.9 796.9h0M133 793.2h0M133.1 788.3h0M133.3 797.1h0M133.4 797.1h0M133.5 794.1h0M133.7 785.2h0M133.8 794.1h0M133.9 796.9h0M134.1 793.1h0M134.2 798h0M134.3 794.9h0M134.5 796.6h0M134.6 798h0M134.7 795.3h0M134.9 786.2h0M135 796.5h0M135.1 796.4h0M135.3 791.1h0M135.4 796.8h0M135.5 798.3h0M135.6 793.1h0M135.8 792.9h0M135.9 798h0M136 794.3h0M136.2 788.3h0M136.3 786.6h0M136.4 792.4h0M136.6 796h0M136.7 794.8h0M136.8 798h0M137 793.1h0M137.1 798.2h0M137.2 797.3h0M137.4 795.1h0M137.5 798.1h0M137.6 797h0M137.8 793h0M137.9 787.5h0M138 781.4h0M138.1 797.2h0M138.3 794.1h0M138.4 797.9h0M138.5 794.8h0M138.7 789.2h0M138.8 793.1h0M138.9 797.4h0M139.1 784.3h0M139.2 795.1h0M139.3 789.1h0M139.5 797.8h0M139.6 796.8h0M139.7 797.7h0M139.9 779.3h0M140 788.2h0M140.1 795.7h0M140.3 787.3h0M140.4 793.8h0M140.5 791.6h0M140.7 793.9h0M140.8 797.7h0M140.9 791.5h0M141 797.8h0M141.2 790.2h0M141.3 786.5h0M141.4 794.7h0M141.6 797.9h0M141.7 790.6h0M141.8 798.1h0M142 787.1h0M142.1 797.7h0M142.2 783.3h0M142.4 790.1h0M142.5 793.5h0M142.6 793.5h0M142.8 796.9h0M142.9 795.2h0M143 794.9h0M143.2 797.6h0M143.3 795.6h0M143.4 796.2h0M143.6 781h0M143.7 785.1h0M143.8 795h0M143.9 794.1h0M144.1 791.9h0M144.2 797.7h0M144.3 797.6h0M144.5 795.4h0M144.6 792.8h0M144.7 789.6h0M144.9 798.2h0M145 796.3h0M145.1 796.5h0M145.3 796.2h0M145.4 796.5h0M145.5 796.7h0M145.7 797h0M145.8 794.3h0M145.9 784.4h0M146.1 791.6h0M146.2 794.1h0M146.3 798.1h0M146.5 787h0M146.6 793.9h0M146.7 797.1h0M146.8 789.9h0M147 791.3h0M147.1 796.9h0M147.2 796.8h0M147.4 796.3h0M147.5 796.1h0M147.6 783.3h0M147.8 790.6h0M147.9 795.3h0M148 796.9h0M148.2 793.2h0M148.3 797.8h0M148.4 797.7h0M148.6 795.2h0M148.7 791.5h0M148.8 781.9h0M149 797h0M149.1 789h0M149.2 789.9h0M149.3 798.4h0M149.5 796.8h0M149.6 793.7h0M149.7 794.5h0M149.9 790.2h0M150 784.1h0M150.1 794.1h0M150.3 793.6h0M150.4 792.1h0M150.5 797.8h0M150.7 793.8h0M150.8 787.6h0M150.9 798.2h0M151.1 797.1h0M151.2 794.8h0M151.3 793.3h0M151.5 796.1h0M151.6 796.6h0M151.7 796.6h0M151.9 797.9h0M152 794.4h0M152.1 796.7h0M152.2 790.9h0M152.4 796.9h0M152.5 793.3h0M152.6 795.9h0M152.8 796h0M152.9 796.7h0M153 797.3h0M153.2 784.1h0M153.3 787.9h0M153.4 794.5h0M153.6 791.5h0M153.7 795.9h0M153.8 797.1h0M154 782.2h0M154.1 783.3h0M154.2 791.5h0M154.4 793.2h0M154.5 795.3h0M154.6 791h0M154.8 786.8h0M154.9 793.4h0M155 796.7h0M155.1 796.5h0M155.3 788.1h0M155.4 797.1h0M155.5 793.9h0M155.7 794h0M155.8 794.2h0M155.9 793.2h0M156.1 790.9h0M156.2 798h0M156.3 796.7h0M156.5 788h0M156.6 794.7h0M156.7 795.5h0M156.9 795.9h0M157 797h0M157.1 790.4h0M157.3 790.2h0M157.4 779.5h0M157.5 787.9h0M157.7 797.2h0M157.8 790h0M157.9 798.1h0M158 793.6h0M158.2 787.7h0M158.3 785.8h0M158.4 798.2h0M158.6 793h0M158.7 791.3h0M158.8 795h0M159 792.7h0M159.1 793.2h0M159.2 796.8h0M159.4 789.1h0M159.5 794.1h0M159.6 793.2h0M159.8 797.5h0M159.9 797.9h0M160 777.5h0M160.2 793.5h0M160.3 789.3h0M160.4 793.4h0M160.5 792.1h0M160.7 795.5h0M160.8 791.6h0M160.9 790.8h0M161.1 784.2h0M161.2 794.1h0M161.3 784.7h0M161.5 793.8h0M161.6 793.9h0M161.7 788.6h0M161.9 793.9h0M162 795h0M162.1 795.6h0M162.3 797.1h0M162.4 792.1h0M162.5 793.3h0M162.7 796h0M162.8 792.1h0M162.9 791.3h0M163.1 796.6h0M163.2 784.6h0M163.3 795.1h0M163.4 791.4h0M163.6 794.7h0M163.7 775.8h0M163.8 796.5h0M164 798h0M164.1 795.4h0M164.2 797h0M164.4 797.8h0M164.5 782.5h0M164.6 792.9h0M164.8 784.4h0M164.9 796.9h0M165 795.9h0M165.2 797.7h0M165.3 783.4h0M165.4 798.1h0M165.6 783.5h0M165.7 795.2h0M165.8 797.2h0M166 796.1h0M166.1 781h0M166.2 789h0M166.3 796.4h0M166.5 797.8h0M166.6 798h0M166.7 798.3h0M166.9 792.1h0M167 797.6h0M167.1 797.2h0M167.3 797.4h0M167.4 793.4h0M167.5 797.9h0M167.7 798.1h0M167.8 796.4h0M167.9 787.9h0M168.1 793.1h0M168.2 794.1h0M168.3 795.4h0M168.5 792.7h0M168.6 789.4h0M168.7 794.3h0M168.9 796.8h0M169 792.3h0M169.1 786.7h0M169.2 790.9h0M169.4 795.8h0M169.5 797.8h0M169.6 796.3h0M169.8 789.5h0M169.9 798.2h0M170 797.9h0M170.2 779.2h0M170.3 793.8h0M170.4 797.6h0M170.6 789.3h0M170.7 790.7h0M170.8 796.2h0M171 796.3h0M171.1 793.5h0M171.2 777.1h0M171.4 791.5h0M171.5 797.8h0M171.6 796.8h0M171.7 798.2h0M171.9 785.7h0M172 795.8h0M172.1 791.3h0M172.3 796.6h0M172.4 797.3h0M172.5 785.5h0M172.7 789.3h0M172.8 797.7h0M172.9 789.1h0M173.1 796.9h0M173.2 794h0M173.3 791.4h0M173.5 790.3h0M173.6 781.3h0M173.7 796.9h0M173.9 788.9h0M174 786.9h0M174.1 798.3h0M174.3 796.2h0M174.4 796.7h0M174.5 798.4h0M174.6 795.1h0M174.8 772.3h0M174.9 798.1h0M175 797.7h0M175.2 793.4h0M175.3 795.9h0M175.4 795.7h0M175.6 796.9h0M175.7 795h0M175.8 794.6h0M176 792.4h0M176.1 776.1h0M176.2 795.1h0M176.4 790.9h0M176.5 793.7h0M176.6 796.7h0M176.8 796.5h0M176.9 789.8h0M177 789.7h0M177.2 793.5h0M177.3 788.1h0M177.4 797.8h0M177.5 790.5h0M177.7 796.1h0M177.8 789.8h0M177.9 792.8h0M178.1 793.7h0M178.2 787.3h0M178.3 797.9h0M178.5 792.9h0M178.6 793.8h0M178.7 797.3h0M178.9 797.6h0M179 787.7h0M179.1 797.2h0M179.3 794.4h0M179.4 792.3h0M179.5 786.3h0M179.7 797.6h0M179.8 790.9h0M179.9 791.1h0M180 797.1h0M180.2 795.1h0M180.3 793.4h0M180.4 794.6h0M180.6 795.2h0M180.7 793.1h0M180.8 790.3h0M181 794.4h0M181.1 793.5h0M181.2 797.7h0M181.4 797.1h0M181.5 796.5h0M181.6 795.9h0M181.8 796h0M181.9 792.7h0M182 798.2h0M182.2 792.3h0M182.3 797.3h0M182.4 795h0M182.6 788.4h0M182.7 794.3h0M182.8 794h0M182.9 798h0M183.1 794.7h0M183.2 791.3h0M183.3 797.4h0M183.5 787.1h0M183.6 796.4h0M183.7 796.5h0M183.9 793.3h0M184 784.7h0M184.1 794.2h0M184.3 796.8h0M184.4 777.9h0M184.5 794.6h0M184.7 793.7h0M184.8 794.6h0M184.9 797.5h0M185.1 797.8h0M185.2 790.3h0M185.3 793.4h0M185.5 796.3h0M185.6 794.1h0M185.7 795.9h0M185.8 792.7h0M186 791.4h0M186.1 792.1h0M186.2 797.8h0M186.4 797.8h0M186.5 797h0M186.6 789.5h0M186.8 795.9h0M186.9 785.1h0M187 791.8h0M187.2 792h0M187.3 796.1h0M187.4 784h0M187.6 796.7h0M187.7 796.6h0M187.8 795.3h0M188 798.4h0M188.1 794.6h0M188.2 796h0M188.4 796.7h0M188.5 786.6h0M188.6 796.4h0M188.7 797.8h0M188.9 796.6h0M189 778.8h0M189.1 791h0M189.3 784.5h0M189.4 795.3h0M189.5 790.6h0M189.7 798.2h0M189.8 794.4h0M189.9 797.4h0M190.1 796.4h0M190.2 790.6h0M190.3 797.5h0M190.5 797.8h0M190.6 796.6h0M190.7 786.2h0M190.9 793.2h0M191 793.3h0M191.1 789.4h0M191.2 795h0M191.4 791h0M191.5 783.2h0M191.6 797.4h0M191.8 785.6h0M191.9 788.9h0M192 798.4h0M192.2 798.3h0M192.3 797.6h0M192.4 794.1h0M192.6 793.4h0M192.7 796.4h0M192.8 787.4h0M193 797.3h0M193.1 782.2h0M193.2 781.3h0M193.4 793.8h0M193.5 791.7h0M193.6 797.4h0M193.8 782.5h0M193.9 798h0M194 798.1h0M194.1 785.2h0M194.3 797.5h0M194.4 797.9h0M194.5 790.6h0M194.7 796.3h0M194.8 796.6h0M194.9 797.9h0M195.1 789.6h0M195.2 778h0M195.3 797h0M195.5 793h0M195.6 789.6h0M195.7 792.4h0M195.9 796.2h0M196 797.4h0M196.1 796.6h0M196.3 795.4h0M196.4 793.3h0M196.5 794.4h0M196.7 795.8h0M196.8 791h0M196.9 797.6h0M197 788.6h0M197.2 796.8h0M197.3 783.4h0M197.4 787.2h0M197.6 796.8h0M197.7 785.4h0M197.8 792.4h0M198 788.6h0M198.1 797.1h0M198.2 790.6h0M198.4 798.1h0M198.5 797h0M198.6 789.3h0M198.8 797.2h0M198.9 796.5h0M199 793.4h0M199.2 797.7h0M199.3 786.2h0M199.4 791h0M199.6 797.9h0M199.7 792.4h0M199.8 792.2h0M199.9 783.3h0M200.1 795.8h0M200.2 777.2h0M200.3 795.5h0M200.5 798.1h0M200.6 797.1h0M200.7 790.3h0M200.9 797h0M201 791.6h0M201.1 791.4h0M201.3 797.5h0M201.4 797.4h0M201.5 787.9h0M201.7 795.6h0M201.8 791.2h0M201.9 798h0M202.1 789.8h0M202.2 796h0M202.3 797.7h0M202.4 789.5h0M202.6 789.2h0M202.7 796.7h0M202.8 788.4h0M203 793.9h0M203.1 798.1h0M203.2 797h0M203.4 796.6h0M203.5 797.3h0M203.6 771.8h0M203.8 797.3h0M203.9 791.2h0M204 798h0M204.2 797.5h0M204.3 793.4h0M204.4 798.2h0M204.6 796.5h0M204.7 796.2h0M204.8 790h0M205 794.5h0M205.1 798h0M205.2 778.3h0M205.3 797.4h0M205.5 787.1h0M205.6 794.3h0M205.7 782.4h0M205.9 796.4h0M206 791.8h0M206.1 783.1h0M206.3 796.5h0M206.4 796.6h0M206.5 797.8h0M206.7 792.3h0M206.8 792.9h0M206.9 797.1h0M207.1 792.9h0M207.2 798h0M207.3 796.3h0M207.5 792.4h0M207.6 796.4h0M207.7 795.9h0M207.9 795h0M208 785.5h0M208.1 792.1h0M208.2 795.9h0M208.4 793h0M208.5 791.4h0M208.6 793.1h0M208.8 787.7h0M208.9 796.4h0M209 797.2h0M209.2 790.7h0M209.3 797.4h0M209.4 797.2h0M209.6 797.4h0M209.7 796h0M209.8 796.9h0M210 791.9h0M210.1 796.5h0M210.2 798.4h0M210.4 796.9h0M210.5 797h0M210.6 776.8h0M210.7 793h0M210.9 792.7h0M211 786.3h0M211.1 795h0M211.3 797h0M211.4 793.4h0M211.5 794.1h0M211.7 793.4h0M211.8 792h0M211.9 793.3h0M212.1 795.5h0M212.2 790.9h0M212.3 794.7h0M212.5 786.6h0M212.6 797.7h0M212.7 798.2h0M212.9 793.7h0M213 794.7h0M213.1 797.9h0M213.3 786.3h0M213.4 785.2h0M213.5 797.6h0M213.6 794.2h0M213.8 796.4h0M213.9 790.7h0M214 795.3h0M214.2 797.2h0M214.3 795.9h0M214.4 794.5h0M214.6 797.1h0M214.7 793h0M214.8 795.6h0M215 797h0M215.1 794.1h0M215.2 791h0M215.4 796.9h0M215.5 792.3h0M215.6 770.4h0M215.8 784.6h0M215.9 788.4h0M216 793.3h0M216.2 786.1h0M216.3 797h0M216.4 798h0M216.5 797.4h0M216.7 795.5h0M216.8 797h0M216.9 788.2h0M217.1 786.3h0M217.2 785.4h0M217.3 796.8h0M217.5 796.7h0M217.6 776.9h0M217.7 794.7h0M217.9 795.2h0M218 793.9h0M218.1 793.5h0M218.3 790.3h0M218.4 798.1h0M218.5 796.2h0M218.7 797.1h0M218.8 795h0M218.9 798.2h0M219.1 798.3h0M219.2 797h0M219.3 786.5h0M219.4 797.2h0M219.6 785.8h0M219.7 792.2h0M219.8 790h0M220 792.5h0M220.1 791.7h0M220.2 796.5h0M220.4 789.4h0M220.5 790.8h0M220.6 796.8h0M220.8 790.2h0M220.9 797.1h0M221 798.2h0M221.2 788.4h0M221.3 788.7h0M221.4 784.9h0M221.6 794.4h0M221.7 797.1h0M221.8 787.8h0M221.9 797.7h0M222.1 797.7h0M222.2 787h0M222.3 790.1h0M222.5 797.6h0M222.6 782.5h0M222.7 798.1h0M222.9 792h0M223 796.9h0M223.1 777.9h0M223.3 792.4h0M223.4 788.6h0M223.5 792.7h0M223.7 795.4h0M223.8 791.8h0M223.9 786.5h0M224.1 796.6h0M224.2 798.3h0M224.3 791h0M224.5 797.6h0M224.6 796.6h0M224.7 792.7h0M224.8 797.3h0M225 792.4h0M225.1 790.4h0M225.2 794.8h0M225.4 788.9h0M225.5 794.6h0M225.6 797.7h0M225.8 794.9h0M225.9 776.1h0M226 798h0M226.2 794.5h0M226.3 797.2h0M226.4 793.1h0M226.6 796.1h0M226.7 789.8h0M226.8 787.7h0M227 796.1h0M227.1 797h0M227.2 789.7h0M227.4 794h0M227.5 794.6h0M227.6 797.5h0M227.7 794.2h0M227.9 793.5h0M228 796.4h0M228.1 795.5h0M228.3 795.3h0M228.4 796.3h0M228.5 789.7h0M228.7 797.4h0M228.8 797.6h0M228.9 794.2h0M229.1 794.6h0M229.2 796.2h0M229.3 792.2h0M229.5 787h0M229.6 790.7h0M229.7 795.9h0M229.9 795.1h0M230 796.7h0M230.1 797.2h0M230.3 785.8h0M230.4 796.1h0M230.5 774.6h0M230.6 789.6h0M230.8 794.7h0M230.9 794.4h0M231 793.9h0M231.2 794.4h0M231.3 784h0M231.4 791.8h0M231.6 797.8h0M231.7 795.8h0M231.8 779.8h0M232 788.8h0M232.1 789.7h0M232.2 794.4h0M232.4 794.9h0M232.5 791.9h0M232.6 797.7h0M232.8 795.5h0M232.9 797.3h0M233 791.9h0M233.1 797h0M233.3 798.1h0M233.4 795.4h0M233.5 796.4h0M233.7 787.8h0M233.8 790.6h0M233.9 780h0M234.1 795.6h0M234.2 797.3h0M234.3 791.6h0M234.5 794.5h0M234.6 797.6h0M234.7 790.6h0M234.9 797.9h0M235 794.9h0M235.1 797.6h0M235.3 795.6h0M235.4 793.8h0M235.5 798h0M235.7 778.9h0M235.8 797.5h0M235.9 792.7h0M236 796.2h0M236.2 790.3h0M236.3 796h0M236.4 797.6h0M236.6 795h0M236.7 798.2h0M236.8 793.8h0M237 788.2h0M237.1 782.1h0M237.2 780.2h0M237.4 797.6h0M237.5 797.6h0M237.6 796.9h0M237.8 797.8h0M237.9 797.4h0M238 793.5h0M238.2 788.6h0M238.3 794.8h0M238.4 787.9h0M238.6 793.8h0M238.7 786.3h0M238.8 791.5h0M238.9 797.1h0M239.1 796.5h0M239.2 795.6h0M239.3 785.9h0M239.5 797.3h0M239.6 787h0M239.7 795.3h0M239.9 795.9h0M240 790.1h0M240.1 791.4h0M240.3 796.1h0M240.4 796.4h0M240.5 797.3h0M240.7 788.5h0M240.8 797.6h0M240.9 797.8h0M241.1 780.4h0M241.2 785.4h0M241.3 792.7h0M241.5 787.2h0M241.6 791.6h0M241.7 794.7h0M241.8 792.7h0M242 797.4h0M242.1 791.3h0M242.2 796.2h0M242.4 796.1h0M242.5 790.6h0M242.6 790.6h0M242.8 798.1h0M242.9 795.7h0M243 774h0M243.2 781.2h0M243.3 797.3h0M243.4 798.4h0M243.6 798.3h0M243.7 789h0M243.8 782.1h0M244 790.9h0M244.1 786.5h0M244.2 798.4h0M244.3 798.3h0M244.5 778.5h0M244.6 790.6h0M244.7 785.5h0M244.9 798.1h0M245 788.5h0M245.1 798.1h0M245.3 797.2h0M245.4 796.7h0M245.5 796h0M245.7 798.3h0M245.8 782.4h0M245.9 794.7h0M246.1 788.7h0M246.2 796h0M246.3 792.8h0M246.5 793.6h0M246.6 791.6h0M246.7 796.1h0M246.9 790h0M247 790.5h0M247.1 796.7h0M247.2 797.9h0M247.4 786.9h0M247.5 792.5h0M247.6 797.5h0M247.8 789.7h0M247.9 796.4h0M248 798.2h0M248.2 795.1h0M248.3 798h0M248.4 794.6h0M248.6 793.6h0M248.7 798.4h0M248.8 793h0M249 790.4h0M249.1 796.7h0M249.2 784.6h0M249.4 795.9h0M249.5 791.4h0M249.6 797.7h0M249.8 792.7h0M249.9 790.7h0M250 798.3h0M250.1 792.7h0M250.3 793h0M250.4 791.3h0M250.5 792.6h0M250.7 780.8h0M250.8 791.6h0M250.9 783h0M251.1 794.2h0M251.2 788.9h0M251.3 796.5h0M251.5 797h0M251.6 793h0M251.7 786h0M251.9 794.6h0M252 793.6h0M252.1 797h0M252.3 797.3h0M252.4 792.8h0M252.5 792.4h0M252.6 793.8h0M252.8 788.4h0M252.9 797.9h0M253 793.9h0M253.2 790.5h0M253.3 796.4h0M253.4 780.8h0M253.6 796.8h0M253.7 794.4h0M253.8 792.1h0M254 797.4h0M254.1 798h0M254.2 790.7h0M254.4 786.2h0M254.5 793.3h0M254.6 798.2h0M254.8 788.2h0M254.9 788.1h0M255 797.6h0M255.2 798.2h0M255.3 797.7h0M255.4 792.6h0M255.5 796.3h0M255.7 793.6h0M255.8 795.7h0M255.9 794.4h0M256.1 797.7h0M256.2 793.9h0M256.3 795.6h0M256.5 788.5h0M256.6 795.5h0M256.7 795.4h0M256.9 796.1h0M257 796.9h0M257.1 798.2h0M257.3 791.3h0M257.4 797.5h0M257.5 797.9h0M257.7 797.1h0M257.8 798.1h0M257.9 798.4h0M258.1 796.8h0M258.2 789.2h0M258.3 789.9h0M258.4 792.5h0M258.6 797.8h0M258.7 787.5h0M258.8 797.8h0M259 793.7h0M259.1 794.3h0M259.2 795.4h0M259.4 796.9h0M259.5 790.9h0M259.6 790.2h0M259.8 797.9h0M259.9 797.7h0M260 797.7h0M260.2 797h0M260.3 788.4h0M260.4 788.7h0M260.6 781.9h0M260.7 791.9h0M260.8 787.1h0M261 796.9h0M261.1 792h0M261.2 793.9h0M261.3 797h0M261.5 788h0M261.6 788h0M261.7 788.2h0M261.9 784.7h0M262 797.5h0M262.1 779.6h0M262.3 798.3h0M262.4 785.4h0M262.5 790.5h0M262.7 798h0M262.8 787h0M262.9 795.8h0M263.1 797.5h0M263.2 785h0M263.3 797.7h0M263.5 794.2h0M263.6 787.4h0M263.7 782.6h0M263.8 795.5h0M264 796.8h0M264.1 790.2h0M264.2 792.7h0M264.4 793.6h0M264.5 795.3h0M264.6 788.7h0M264.8 790.3h0M264.9 794.3h0M265 792.4h0M265.2 790h0M265.3 784.6h0M265.4 797.6h0M265.6 798h0M265.7 789.9h0M265.8 793.4h0M266 795.6h0M266.1 796.5h0M266.2 793.9h0M266.4 795.3h0M266.5 792.7h0M266.6 795.8h0M266.7 788.7h0M266.9 795.3h0M267 798.4h0M267.1 791.1h0M267.3 791.9h0M267.4 793.9h0M267.5 797.3h0M267.7 791.8h0M267.8 798h0M267.9 794.9h0M268.1 796.6h0M268.2 793.8h0M268.3 790.9h0M268.5 798.3h0M268.6 787.7h0M268.7 790.5h0M268.9 796.5h0M269 798.3h0M269.1 790.5h0M269.3 791.6h0M269.4 797.1h0M269.5 787.5h0M269.6 798.3h0M269.8 797.4h0M269.9 792.6h0M270 788.6h0M270.2 797.4h0M270.3 778.7h0M270.4 798.3h0M270.6 797.9h0M270.7 794.8h0M270.8 793.3h0M271 798.3h0M271.1 792.6h0M271.2 784.2h0M271.4 796.2h0M271.5 796.6h0M271.6 794.6h0M271.8 792.6h0M271.9 793.1h0M272 795.6h0M272.2 793.5h0M272.3 796.4h0M272.4 792.3h0M272.5 797.5h0M272.7 795.9h0M272.8 797.4h0M272.9 794.4h0M273.1 795.6h0M273.2 792.6h0M273.3 791.4h0M273.5 794.7h0M273.6 795.7h0M273.7 790.2h0M273.9 777.3h0M274 797.4h0M274.1 792.8h0M274.3 795.3h0M274.4 792.1h0M274.5 781.4h0M274.7 797.8h0M274.8 798.1h0M274.9 797.3h0M275 796.9h0M275.2 796.5h0M275.3 798.4h0M275.4 782.2h0M275.6 792.5h0M275.7 784.3h0M275.8 792.6h0M276 790.8h0M276.1 787.7h0M276.2 788.3h0M276.4 789.4h0M276.5 789.8h0M276.6 793.9h0M276.8 792.2h0M276.9 788.7h0M277 793.7h0M277.2 798.3h0M277.3 793.1h0M277.4 793.1h0M277.6 788.9h0M277.7 792.2h0M277.8 795.9h0M277.9 797.7h0M278.1 794.5h0M278.2 797.9h0M278.3 790.8h0M278.5 788.7h0M278.6 789.5h0M278.7 798.2h0M278.9 787.6h0M279 787.4h0M279.1 797.9h0M279.3 796.5h0M279.4 795h0M279.5 788.3h0M279.7 795.1h0M279.8 796.9h0M279.9 795.5h0M280.1 794.3h0M280.2 797.3h0M280.3 798h0M280.5 787.4h0M280.6 786.6h0M280.7 797h0M280.8 798.2h0M281 798.3h0M281.1 796.3h0M281.2 779.9h0M281.4 797.1h0M281.5 798.1h0M281.6 793h0M281.8 797.9h0M281.9 797.4h0M282 792.8h0M282.2 797h0M282.3 796.4h0M282.4 795.1h0M282.6 784.4h0M282.7 794.1h0M282.8 789.2h0M283 790.1h0M283.1 784.9h0M283.2 790.2h0M283.3 783.7h0M283.5 791.2h0M283.6 796.2h0M283.7 793h0M283.9 796.6h0M284 793h0M284.1 797.5h0M284.3 796h0M284.4 798.1h0M284.5 797.9h0M284.7 793.6h0M284.8 798.2h0M284.9 795.8h0M285.1 793.5h0M285.2 797.2h0M285.3 787.3h0M285.5 798.3h0M285.6 796.6h0M285.7 795.3h0M285.9 798.2h0M286 797.4h0M286.1 790.5h0M286.2 798.4h0M286.4 797.8h0M286.5 794.2h0M286.6 789.9h0M286.8 781.4h0M286.9 796.6h0M287 785.4h0M287.2 788.1h0M287.3 788.1h0M287.4 791.1h0M287.6 792.8h0M287.7 797.4h0M287.8 798.3h0M288 796.4h0M288.1 793.5h0M288.2 794.2h0M288.4 781h0M288.5 796.2h0M288.6 793.1h0M288.8 795.6h0M288.9 780.5h0M289 793.5h0M289.1 795.6h0M289.3 797.9h0M289.4 795.1h0M289.5 794.3h0M289.7 795.4h0M289.8 780.1h0M289.9 786.9h0M290.1 788.2h0M290.2 797.8h0M290.3 787.3h0M290.5 789.3h0M290.6 797.8h0M290.7 797.1h0M290.9 789.2h0M291 796.1h0M291.1 791.8h0M291.3 796.6h0M291.4 797.1h0M291.5 797.9h0M291.7 796.6h0M291.8 793.7h0M291.9 797.8h0M292 795.3h0M292.2 797.1h0M292.3 795.3h0M292.4 797.6h0M292.6 793.4h0M292.7 791.1h0M292.8 773.1h0M293 793.4h0M293.1 798h0M293.2 793.7h0M293.4 790.2h0M293.5 794.8h0M293.6 798.1h0M293.8 797.7h0M293.9 792.8h0M294 796.5h0M294.2 797.6h0M294.3 793.4h0M294.4 791.1h0M294.5 780.6h0M294.7 794.1h0M294.8 797.6h0M294.9 797h0M295.1 794.4h0M295.2 798.2h0M295.3 796.2h0M295.5 797.9h0M295.6 795.4h0M295.7 790.8h0M295.9 797.7h0M296 798.2h0M296.1 787.8h0M296.3 785.2h0M296.4 790.5h0M296.5 793.2h0M296.7 791.1h0M296.8 787.8h0M296.9 798.1h0M297.1 797.9h0M297.2 774.8h0M297.3 789.2h0M297.4 789h0M297.6 782.7h0M297.7 794.6h0M297.8 797.6h0M298 796.3h0M298.1 797.6h0M298.2 798.2h0M298.4 793.6h0M298.5 792.3h0M298.6 798.4h0M298.8 794.7h0M298.9 798.2h0M299 791.9h0M299.2 791.9h0M299.3 791.9h0M299.4 796.4h0M299.6 795.9h0M299.7 794.9h0M299.8 785.7h0M300 782.8h0M300.1 790.8h0M300.2 794.8h0M300.3 795.4h0M300.5 797.9h0M300.6 797.4h0M300.7 796.6h0M300.9 793.5h0M301 793.5h0M301.1 791.2h0M301.3 798.1h0M301.4 792.4h0M301.5 786.9h0M301.7 786.8h0M301.8 780.5h0M301.9 795.8h0M302.1 798h0M302.2 796.5h0M302.3 793h0M302.5 787.7h0M302.6 798.1h0M302.7 798.4h0M302.9 797.9h0M303 795.4h0M303.1 798h0M303.2 795.6h0M303.4 796.4h0M303.5 796.9h0M303.6 796.7h0M303.8 792h0M303.9 795.3h0M304 796.9h0M304.2 784.1h0M304.3 794.2h0M304.4 796.8h0M304.6 795.9h0M304.7 795h0M304.8 791.7h0M305 789.7h0M305.1 792.1h0M305.2 782.6h0M305.4 795.4h0M305.5 796.3h0M305.6 798.3h0M305.7 793.6h0M305.9 797.7h0M306 793.8h0M306.1 792.1h0M306.3 794.9h0M306.4 789.8h0M306.5 797.2h0M306.7 792.6h0M306.8 797.2h0M306.9 794.4h0M307.1 796.4h0M307.2 798.1h0M307.3 794.9h0M307.5 797.9h0M307.6 796h0M307.7 797.3h0M307.9 785.4h0M308 796.8h0M308.1 797.4h0M308.3 798.2h0M308.4 792.2h0M308.5 794.2h0M308.6 790.1h0M308.8 795h0M308.9 795.8h0M309 793.7h0M309.2 790.4h0M309.3 797.3h0M309.4 794h0M309.6 793.7h0M309.7 798h0M309.8 796.6h0M310 795.4h0M310.1 795.7h0M310.2 794.9h0M310.4 796.5h0M310.5 797.5h0M310.6 785.5h0M310.8 797h0M310.9 796.8h0M311 796.9h0M311.2 794.6h0M311.3 792.7h0M311.4 796.9h0M311.5 780.3h0M311.7 790.1h0M311.8 796.4h0M311.9 796.7h0M312.1 783.3h0M312.2 797.9h0M312.3 798.2h0M312.5 797.2h0M312.6 797.2h0M312.7 792.7h0M312.9 796.1h0M313 797.4h0M313.1 781.9h0M313.3 796.6h0M313.4 794h0M313.5 787.9h0M313.7 798.3h0M313.8 796.4h0M313.9 796.6h0M314.1 797.8h0M314.2 796.4h0M314.3 796.7h0M314.4 791.2h0M314.6 797.6h0M314.7 791.7h0M314.8 797.5h0M315 797.2h0M315.1 794.1h0M315.2 798.1h0M315.4 796.3h0M315.5 794.1h0M315.6 797.1h0M315.8 792.3h0M315.9 796.1h0M316 796.8h0M316.2 779.8h0M316.3 798.2h0M316.4 771.7h0M316.6 794.7h0M316.7 797.7h0M316.8 792.9h0M316.9 793.5h0M317.1 788.2h0M317.2 797.1h0M317.3 798.1h0M317.5 792.5h0M317.6 795h0M317.7 790.9h0M317.9 790.9h0M318 785h0M318.1 798.2h0M318.3 795.5h0M318.4 797.1h0M318.5 798.4h0M318.7 795.3h0M318.8 797.5h0M318.9 792h0M319.1 798.2h0M319.2 795.9h0M319.3 798h0M319.5 796.3h0M319.6 789.1h0M319.7 776.2h0M319.8 795.8h0M320 782.6h0M320.1 795.6h0M320.2 792.5h0M320.4 797.3h0M320.5 786h0M320.6 792.5h0M320.8 785.1h0M320.9 795.7h0M321 790.5h0M321.2 782.9h0M321.3 797.9h0M321.4 793.1h0M321.6 794.5h0M321.7 794.7h0M321.8 798.3h0M322 797h0M322.1 795.7h0M322.2 797h0M322.4 788.5h0M322.5 792.6h0M322.6 787.3h0M322.7 797.1h0M322.9 797h0M323 797.1h0M323.1 796.5h0M323.3 796.5h0M323.4 796.9h0M323.5 795.6h0M323.7 797.7h0M323.8 792.8h0M323.9 796.3h0M324.1 798.1h0M324.2 797.7h0M324.3 791.7h0M324.5 791.8h0M324.6 792.3h0M324.7 790.4h0M324.9 798.1h0M325 797.5h0M325.1 797.3h0M325.2 798.3h0M325.4 795.8h0M325.5 796.4h0M325.6 798.2h0M325.8 787.4h0M325.9 791.5h0M326 796.2h0M326.2 790.8h0M326.3 796.5h0M326.4 778.3h0M326.6 778.4h0M326.7 786h0M326.8 794.2h0M327 797.5h0M327.1 796h0M327.2 796h0M327.4 795.7h0M327.5 783.3h0M327.6 797.9h0M327.8 795.7h0M327.9 795.4h0M328 790h0M328.1 794.5h0M328.3 794.6h0M328.4 792.1h0M328.5 796h0M328.7 785.5h0M328.8 798.3h0M328.9 798.3h0M329.1 793.4h0M329.2 793h0M329.3 794.1h0M329.5 780h0M329.6 790.2h0M329.7 788.4h0M329.9 794.8h0M330 797.4h0M330.1 795.7h0M330.3 798.3h0M330.4 780.8h0M330.5 790.9h0M330.7 798.2h0M330.8 794.6h0M330.9 796h0M331 782.5h0M331.2 782.6h0M331.3 796.5h0M331.4 789.5h0M331.6 789.4h0M331.7 798.4h0M331.8 790.7h0M332 798h0M332.1 795.2h0M332.2 789h0M332.4 784.4h0M332.5 794.7h0M332.6 790.5h0M332.8 790.7h0M332.9 791.6h0M333 794.8h0M333.2 788h0M333.3 771.8h0M333.4 797h0M333.6 797.4h0M333.7 780.4h0M333.8 790.2h0M333.9 789.1h0M334.1 789.2h0M334.2 786.5h0M334.3 797.2h0M334.5 795.2h0M334.6 796h0M334.7 797.3h0M334.9 792.8h0M335 795.7h0M335.1 797.1h0M335.3 796h0M335.4 796.8h0M335.5 795.4h0M335.7 787.8h0M335.8 795.9h0M335.9 796.9h0M336.1 798.1h0M336.2 797.3h0M336.3 787.2h0M336.4 797.9h0M336.6 796.9h0M336.7 797.8h0M336.8 797.9h0M337 796.6h0M337.1 794.8h0M337.2 794.1h0M337.4 789.4h0M337.5 796h0M337.6 792.1h0M337.8 795.4h0M337.9 792.9h0M338 796.9h0M338.2 787.2h0M338.3 795.7h0M338.4 789.5h0M338.6 787.2h0M338.7 795.9h0M338.8 795.2h0M339 789.4h0M339.1 791.8h0M339.2 797.1h0M339.3 791.9h0M339.5 798.1h0M339.6 770.6h0M339.7 797h0M339.9 796.1h0M340 791.4h0M340.1 790.5h0M340.3 796h0M340.4 796.9h0M340.5 797.3h0M340.7 790.3h0M340.8 796.5h0M340.9 797.4h0M341.1 783.2h0M341.2 787.4h0M341.3 798.3h0M341.5 796.4h0M341.6 788.3h0M341.7 789.8h0M341.9 790.6h0M342 797.8h0M342.1 797.6h0M342.2 794.3h0M342.4 794.8h0M342.5 797.8h0M342.6 776.2h0M342.8 792.2h0M342.9 797.3h0M343 797.9h0M343.2 796.4h0M343.3 794.5h0M343.4 797.3h0M343.6 790.3h0M343.7 789.4h0M343.8 798.3h0M344 782.9h0M344.1 797.1h0M344.2 796.5h0M344.4 794.4h0M344.5 795.6h0M344.6 792.2h0M344.8 794.8h0M344.9 796.4h0M345 791.8h0M345.1 797h0M345.3 797.5h0M345.4 796.7h0M345.5 780.4h0M345.7 798.3h0M345.8 797.8h0M345.9 797.6h0M346.1 788.5h0M346.2 797h0M346.3 796.3h0M346.5 793.1h0M346.6 794.3h0M346.7 787.3h0M346.9 798.3h0M347 795.6h0M347.1 791.8h0M347.3 791.8h0M347.4 795.4h0M347.5 797.9h0M347.6 798.3h0M347.8 789.7h0M347.9 793.8h0M348 797.5h0M348.2 789h0M348.3 795.3h0M348.4 793.2h0M348.6 797.8h0M348.7 791.6h0M348.8 796.6h0M349 792.1h0M349.1 793.8h0M349.2 796.1h0M349.4 779.1h0M349.5 791.3h0M349.6 797.4h0M349.8 791.6h0M349.9 797.3h0M350 787.8h0M350.2 797.6h0M350.3 795h0M350.4 788.2h0M350.5 797.7h0M350.7 786.1h0M350.8 789.6h0M350.9 792.4h0M351.1 797h0M351.2 790.2h0M351.3 795h0M351.5 796.7h0M351.6 796.7h0M351.7 796.1h0M351.9 786.3h0M352 798.2h0M352.1 795.9h0M352.3 795.5h0M352.4 789.5h0M352.5 788.1h0M352.7 798.2h0M352.8 795.7h0M352.9 797.5h0M353.1 790.2h0M353.2 789.8h0M353.3 793h0M353.4 776.8h0M353.6 793.6h0M353.7 792.4h0M353.8 795.8h0M354 789.7h0M354.1 790.4h0M354.2 795.2h0M354.4 793.4h0M354.5 796.5h0M354.6 797.3h0M354.8 796.3h0M354.9 788.1h0M355 795.5h0M355.2 790.4h0M355.3 792.8h0M355.4 798.1h0M355.6 797.9h0M355.7 795.4h0M355.8 797.1h0M355.9 793.8h0M356.1 796.7h0M356.2 798.3h0M356.3 787.7h0M356.5 796.8h0M356.6 790.2h0M356.7 793.3h0M356.9 795.2h0M357 789.7h0M357.1 797.9h0M357.3 797.5h0M357.4 797.9h0M357.5 797.1h0M357.7 793.5h0M357.8 789.2h0M357.9 798.1h0M358.1 796.2h0M358.2 792.1h0M358.3 784.6h0M358.5 790.1h0M358.6 798.1h0M358.7 794h0M358.8 795.1h0M359 786.2h0M359.1 794.6h0M359.2 796.9h0M359.4 797.4h0M359.5 797.2h0M359.6 796h0M359.8 785.7h0M359.9 794.9h0M360 785.3h0M360.2 784.9h0M360.3 792.9h0M360.4 794.2h0M360.6 792.7h0M360.7 792.5h0M360.8 797.3h0M361 796.4h0M361.1 796.6h0M361.2 795.9h0M361.4 787h0M361.5 788.9h0M361.6 793.8h0M361.7 795.7h0M361.9 796.6h0M362 795.8h0M362.1 793.9h0M362.3 783.7h0M362.4 795.5h0M362.5 797.7h0M362.7 791.9h0M362.8 794.9h0M362.9 798.1h0M363.1 796.5h0M363.2 792.7h0M363.3 793.1h0M363.5 794.1h0M363.6 778.5h0M363.7 797.7h0M363.9 797.4h0M364 788.3h0M364.1 789.5h0M364.3 782.5h0M364.4 789.6h0M364.5 798.2h0M364.6 794h0M364.8 776.2h0M364.9 796.8h0M365 796.9h0M365.2 792.6h0M365.3 792.3h0M365.4 794.7h0M365.6 774.7h0M365.7 796.6h0M365.8 788.5h0M366 795h0M366.1 789h0M366.2 786.4h0M366.4 795.9h0M366.5 794.7h0M366.6 792.5h0M366.8 793.9h0M366.9 797.3h0M367 794.3h0M367.1 793.1h0M367.3 784.2h0M367.4 787.8h0M367.5 792.2h0M367.7 792.5h0M367.8 780.5h0M367.9 795.8h0M368.1 794.1h0M368.2 788.2h0M368.3 797.8h0M368.5 793.4h0M368.6 798.3h0M368.7 784.1h0M368.9 795.4h0M369 798.1h0M369.1 795.2h0M369.3 790.7h0M369.4 798.3h0M369.5 797h0M369.7 797.9h0M369.8 772h0M369.9 791.3h0M370 793.1h0M370.2 792.8h0M370.3 797.1h0M370.4 792.3h0M370.6 789.3h0M370.7 796.9h0M370.8 790.5h0M371 797.2h0M371.1 796.7h0M371.2 793.4h0M371.4 783.8h0M371.5 791.8h0M371.6 793.9h0M371.8 778.1h0M371.9 791.8h0M372 795.9h0M372.2 789h0M372.3 781.9h0M372.4 798.2h0M372.6 787.5h0M372.7 794.7h0M372.8 798.1h0M372.9 796.1h0M373.1 790.9h0M373.2 790.9h0M373.3 798h0M373.5 796.3h0M373.6 785.2h0M373.7 793.8h0M373.9 793.9h0M374 786.9h0M374.1 796.7h0M374.3 797.1h0M374.4 794.8h0M374.5 796h0M374.7 797.8h0M374.8 794.4h0M374.9 785.8h0M375.1 795.9h0M375.2 794.9h0M375.3 772.1h0M375.5 789.1h0M375.6 798h0M375.7 794.1h0M375.8 794.7h0M376 792.9h0M376.1 796.6h0M376.2 795h0M376.4 789.4h0M376.5 793h0M376.6 797.3h0M376.8 796.1h0M376.9 787.4h0M377 797.5h0M377.2 783.7h0M377.3 791.7h0M377.4 794.9h0M377.6 789.1h0M377.7 796.4h0M377.8 797.6h0M378 797.8h0M378.1 798.2h0M378.2 791h0M378.3 791.1h0M378.5 795.7h0M378.6 794.8h0M378.7 798.1h0M378.9 797.7h0M379 792.7h0M379.1 783.1h0M379.3 795.4h0M379.4 783h0M379.5 796.9h0M379.7 792.5h0M379.8 798.1h0M379.9 797h0M380.1 794.9h0M380.2 791h0M380.3 797.9h0M380.5 797.3h0M380.6 798.2h0M380.7 796.7h0M380.9 792.8h0M381 784.1h0M381.1 795.4h0M381.2 796.3h0M381.4 794.4h0M381.5 795.5h0M381.6 793.5h0M381.8 796.7h0M381.9 795.3h0M382 789.3h0M382.2 796.2h0M382.3 791.5h0M382.4 796.5h0M382.6 797.7h0M382.7 792.3h0M382.8 797h0M383 796.2h0M383.1 791.9h0M383.2 795.8h0M383.4 796.9h0M383.5 797.8h0M383.6 797.2h0M383.8 791.5h0M383.9 784.2h0M384 796.5h0M384.1 796.2h0M384.3 791.8h0M384.4 798.1h0M384.5 794.8h0M384.7 791.9h0M384.8 798.3h0M384.9 795.8h0M385.1 794.3h0M385.2 789.1h0M385.3 795.6h0M385.5 776.3h0M385.6 796.8h0M385.7 796h0M385.9 791.5h0M386 795.8h0M386.1 798.3h0M386.3 791.7h0M386.4 789.5h0M386.5 789.4h0M386.7 790.2h0M386.8 792.1h0M386.9 794.4h0M387 797.1h0M387.2 796.4h0M387.3 794.9h0M387.4 790.9h0M387.6 795.3h0M387.7 797.2h0M387.8 795.1h0M388 791.2h0M388.1 789.5h0M388.2 792.2h0M388.4 795h0M388.5 788.1h0M388.6 795.9h0M388.8 775.6h0M388.9 797h0M389 797h0M389.2 791.9h0M389.3 798.3h0M389.4 790.9h0M389.5 795.3h0M389.7 786.6h0M389.8 794.4h0M389.9 796.1h0M390.1 795.6h0M390.2 793h0M390.3 788.7h0M390.5 797.9h0M390.6 792.6h0M390.7 793.8h0M390.9 789.2h0M391 795.9h0M391.1 794.7h0M391.3 797.3h0M391.4 792.4h0M391.5 797h0M391.7 796.5h0M391.8 790.1h0M391.9 796.1h0M392.1 785.2h0M392.2 790.6h0M392.3 797.6h0M392.4 788h0M392.6 797.6h0M392.7 796.2h0M392.8 797.6h0M393 796h0M393.1 790.9h0M393.2 797.1h0M393.4 791.9h0M393.5 797.9h0M393.6 795.4h0M393.8 792h0M393.9 787.7h0M394 797.9h0M394.2 794.7h0M394.3 797.2h0M394.4 789h0M394.6 792h0M394.7 793.8h0M394.8 789.4h0M395 798h0M395.1 797.3h0M395.2 797.6h0M395.3 797.8h0M395.5 798.3h0M395.6 793.1h0M395.7 794.1h0M395.9 789.8h0M396 780.8h0M396.1 792.3h0M396.3 796.6h0M396.4 797.9h0M396.5 797h0M396.7 791.4h0M396.8 796.4h0M396.9 788.3h0M397.1 797.7h0M397.2 787.5h0M397.3 791.7h0M397.5 786.8h0M397.6 792.5h0M397.7 797.3h0M397.8 789.8h0M398 793h0M398.1 788.3h0M398.2 791.1h0M398.4 795.6h0M398.5 787.7h0M398.6 797h0M398.8 793.8h0M398.9 790.7h0M399 795.7h0M399.2 793.8h0M399.3 797h0M399.4 796.3h0M399.6 788.1h0M399.7 796.3h0M399.8 797.8h0M400 796.3h0M400.1 793.1h0M400.2 796.7h0M400.4 796.8h0M400.5 786.3h0M400.6 797h0M400.7 797.3h0M400.9 790.3h0M401 797.8h0M401.1 794.4h0M401.3 791.5h0M401.4 773h0M401.5 797h0M401.7 792.2h0M401.8 797.3h0M401.9 796h0M402.1 797h0M402.2 793.7h0M402.3 794.4h0M402.5 796.1h0M402.6 797.8h0M402.7 775.8h0M402.9 798h0M403 794.4h0M403.1 796.5h0M403.3 794.7h0M403.4 792.1h0M403.5 788.4h0M403.6 780.9h0M403.8 793.7h0M403.9 794.1h0M404 788.3h0M404.2 795.9h0M404.3 793.5h0M404.4 792h0M404.6 792.4h0M404.7 793.1h0M404.8 793.6h0M405 794h0M405.1 797.6h0M405.2 796h0M405.4 797.4h0M405.5 793.1h0M405.6 796.6h0M405.8 795h0M405.9 795.9h0M406 796.8h0M406.2 795.3h0M406.3 796.4h0M406.4 794.7h0M406.5 797.5h0M406.7 798.3h0M406.8 795.1h0M406.9 790.7h0M407.1 796.7h0M407.2 791.8h0M407.3 792.3h0M407.5 797h0M407.6 793.1h0M407.7 796.7h0M407.9 792.9h0M408 798h0M408.1 789.8h0M408.3 785.2h0M408.4 797.9h0M408.5 784.9h0M408.7 795.6h0M408.8 797h0M408.9 792.9h0M409 790h0M409.2 792.4h0M409.3 793.7h0M409.4 778.9h0M409.6 793h0M409.7 796h0M409.8 788.6h0M410 796.3h0M410.1 782.5h0M410.2 798.4h0M410.4 797.7h0M410.5 791.9h0M410.6 796h0M410.8 796.5h0M410.9 791.1h0M411 798.1h0M411.2 792.9h0M411.3 795.2h0M411.4 789.7h0M411.6 793.9h0M411.7 780.8h0M411.8 797.6h0M411.9 797.4h0M412.1 791.1h0M412.2 798.1h0M412.3 796.6h0M412.5 794.6h0M412.6 797.3h0M412.7 793.9h0M412.9 795.3h0M413 796.5h0M413.1 790.9h0M413.3 788h0M413.4 797h0M413.5 797h0M413.7 785.9h0M413.8 774.8h0M413.9 788h0M414.1 795.7h0M414.2 786.4h0M414.3 798.2h0M414.5 789.7h0M414.6 795.6h0M414.7 787.8h0M414.8 782.5h0M415 795.4h0M415.1 779.7h0M415.2 791.9h0M415.4 798h0M415.5 793h0M415.6 796.3h0M415.8 780.1h0M415.9 797.7h0M416 792.7h0M416.2 797.2h0M416.3 772.4h0M416.4 792.4h0M416.6 790h0M416.7 793h0M416.8 781.6h0M417 796.3h0M417.1 789.9h0M417.2 787.6h0M417.4 790.6h0M417.5 784.8h0M417.6 796.6h0M417.7 780.8h0M417.9 786.9h0M418 790.5h0M418.1 786.2h0M418.3 790.8h0M418.4 774.4h0M418.5 783.9h0M418.7 785.3h0M418.8 790.4h0M418.9 779.6h0M419.1 795.1h0M419.2 788.9h0M419.3 774.4h0M419.5 794h0M419.6 795h0M419.7 797.8h0M419.9 774.8h0M420 792.4h0M420.1 798.1h0M420.2 796.1h0M420.4 789.3h0M420.5 792.5h0M420.6 795.1h0M420.8 779.5h0M420.9 790.5h0M421 794.7h0M421.2 792.2h0M421.3 792.4h0M421.4 797.8h0M421.6 797.8h0M421.7 793.4h0M421.8 792h0M422 792.8h0M422.1 798h0M422.2 772.4h0M422.4 791.9h0M422.5 793.6h0M422.6 793.5h0M422.8 782.8h0M422.9 796.1h0M423 793.6h0M423.1 793.4h0M423.3 793.7h0M423.4 788h0M423.5 776.6h0M423.7 784.8h0M423.8 791.8h0M423.9 796.3h0M424.1 794.7h0M424.2 798.3h0M424.3 791.7h0M424.5 782.7h0M424.6 796.2h0M424.7 796.5h0M424.9 782.5h0M425 794.8h0M425.1 791.6h0M425.3 796.3h0M425.4 791.2h0M425.5 798.1h0M425.7 796.2h0M425.8 792.1h0M425.9 793.8h0M426 795.3h0M426.2 787.4h0M426.3 798.3h0M426.4 777.1h0M426.6 791.7h0M426.7 797.3h0M426.8 780.7h0M427 795.5h0M427.1 795.9h0M427.2 791.6h0M427.4 792.8h0M427.5 794h0M427.6 794.1h0M427.8 787.4h0M427.9 786.1h0M428 790.4h0M428.2 795.8h0M428.3 796.9h0M428.4 792.9h0M428.5 793.8h0M428.7 785.1h0M428.8 792.4h0M428.9 796.4h0M429.1 783.2h0M429.2 797.8h0M429.3 788.9h0M429.5 794.4h0M429.6 790.3h0M429.7 784.9h0M429.9 793.2h0M430 797.4h0M430.1 796h0M430.3 783.2h0M430.4 791.7h0M430.5 795.6h0M430.7 791.3h0M430.8 795.8h0M430.9 798.2h0M431.1 794.1h0M431.2 791.1h0M431.3 797h0M431.4 797.3h0M431.6 789.6h0M431.7 782.6h0M431.8 790.6h0M432 797.5h0M432.1 795.6h0M432.2 793h0M432.4 795.9h0M432.5 796.2h0M432.6 795.2h0M432.8 796.7h0M432.9 786.6h0M433 794.5h0M433.2 791.2h0M433.3 798.2h0M433.4 796.4h0M433.6 787h0M433.7 792.7h0M433.8 791.4h0M434 797.3h0M434.1 793.7h0M434.2 789.3h0M434.3 785.2h0M434.5 792.7h0M434.6 779.3h0M434.7 787.7h0M434.9 796.9h0M435 793.7h0M435.1 795.5h0M435.3 797.3h0M435.4 791h0M435.5 794.8h0M435.7 789.8h0M435.8 794.7h0M435.9 786h0M436.1 793.9h0M436.2 788h0M436.3 771h0M436.5 791.5h0M436.6 789.2h0M436.7 776.1h0M436.9 787.6h0M437 788.2h0M437.1 797.3h0M437.2 789.6h0M437.4 772.6h0M437.5 797.4h0M437.6 796.8h0M437.8 791.5h0M437.9 788.1h0M438 793.9h0M438.2 795.9h0M438.3 793h0M438.4 798.1h0M438.6 788.8h0M438.7 772.1h0M438.8 793.5h0M439 790.5h0M439.1 788.6h0M439.2 795.3h0M439.4 791.4h0M439.5 778.6h0M439.6 790.2h0M439.7 793.5h0M439.9 793.9h0M440 797.2h0M440.1 782.9h0M440.3 787.3h0M440.4 797.5h0M440.5 794.7h0M440.7 795.9h0M440.8 787.5h0M440.9 798.1h0M441.1 797.9h0M441.2 793h0M441.3 788.3h0M441.5 792.8h0M441.6 797h0M441.7 795.8h0M441.9 796.1h0M442 796.6h0M442.1 797.5h0M442.3 785.3h0M442.4 797.6h0M442.5 783.7h0M442.6 794.2h0M442.8 793.8h0M442.9 792.9h0M443 792.1h0M443.2 797.4h0M443.3 798.3h0M443.4 797.9h0M443.6 791.8h0M443.7 793.6h0M443.8 785.7h0M444 794h0M444.1 785.5h0M444.2 788.4h0M444.4 787.5h0M444.5 787.9h0M444.6 797.8h0M444.8 793.7h0M444.9 788.7h0M445 789.3h0M445.2 777.6h0M445.3 795h0M445.4 796.1h0M445.5 794.8h0M445.7 776.3h0M445.8 779h0M445.9 792.6h0M446.1 790h0M446.2 795.2h0M446.3 791.1h0M446.5 780.3h0M446.6 780.1h0M446.7 793h0M446.9 797.4h0M447 776.2h0M447.1 791h0M447.3 785.9h0M447.4 792.4h0M447.5 798.3h0M447.7 795.2h0M447.8 776.2h0M447.9 779.2h0M448.1 796.7h0M448.2 797.4h0M448.3 783.8h0M448.4 788.4h0M448.6 789h0M448.7 796.4h0M448.8 780.8h0M449 789.9h0M449.1 796.3h0M449.2 797.3h0M449.4 780.2h0M449.5 789h0M449.6 792.5h0M449.8 787.3h0M449.9 784.5h0M450 784h0M450.2 773h0M450.3 793.5h0M450.4 791.4h0M450.6 798.2h0M450.7 791.9h0M450.8 797.8h0M450.9 796.3h0M451.1 786.2h0M451.2 783.5h0M451.3 787.1h0M451.5 795.4h0M451.6 794.3h0M451.7 797.4h0M451.9 796.4h0M452 787.4h0M452.1 794.9h0M452.3 795.4h0M452.4 795.1h0M452.5 791.4h0M452.7 798.4h0M452.8 797.8h0M452.9 797h0M453.1 789.1h0M453.2 790.3h0M453.3 790.8h0M453.5 790.3h0M453.6 787.2h0M453.7 785.6h0M453.8 790.4h0M454 786.4h0M454.1 790.6h0M454.2 787.7h0M454.4 797h0M454.5 790.5h0M454.6 792.2h0M454.8 789.4h0M454.9 796.8h0M455 790.1h0M455.2 790.7h0M455.3 773.3h0M455.4 795.2h0M455.6 790.4h0M455.7 796h0M455.8 789.6h0M456 796.2h0M456.1 796.1h0M456.2 795.7h0M456.4 782.8h0M456.5 791.3h0M456.6 797.6h0M456.7 797.9h0M456.9 781.2h0M457 786.2h0M457.1 780.2h0M457.3 787.5h0M457.4 785.5h0M457.5 794.9h0M457.7 797.2h0M457.8 779.1h0M457.9 795.5h0M458.1 796.4h0M458.2 797.1h0M458.3 793.8h0M458.5 791.2h0M458.6 795.4h0M458.7 795.7h0M458.9 792.6h0M459 785.7h0M459.1 770.9h0M459.2 795.7h0M459.4 784.5h0M459.5 790.7h0M459.6 788.3h0M459.8 795.1h0M459.9 782.2h0M460 790h0M460.2 791.9h0M460.3 792.1h0M460.4 796.6h0M460.6 790.8h0M460.7 792.7h0" fill="none" stroke="#0072BD" stroke-width="3.0" stroke-linecap="round"/>
<path d="M460.8 794.2h0M461 777.5h0M461.1 785.5h0M461.2 789.5h0M461.4 794.9h0M461.5 797.2h0M461.6 792.2h0M461.8 787.5h0M461.9 795.4h0M462 788.7h0M462.1 797.3h0M462.3 774.4h0M462.4 790.3h0M462.5 770.9h0M462.7 796.3h0M462.8 794.5h0M462.9 792h0M463.1 787.2h0M463.2 791.3h0M463.3 796.8h0M463.5 790.9h0M463.6 774.7h0M463.7 790.5h0M463.9 798h0M464 797.4h0M464.1 788.9h0M464.3 794.8h0M464.4 796h0M464.5 788.1h0M464.7 783.2h0M464.8 798.3h0M464.9 795.1h0M465 797.5h0M465.2 792.5h0M465.3 790.1h0M465.4 788.9h0M465.6 794.3h0M465.7 783.8h0M465.8 796h0M466 787.4h0M466.1 795.1h0M466.2 793.2h0M466.4 788.3h0M466.5 797.6h0M466.6 797.3h0M466.8 792.1h0M466.9 797h0M467 796.8h0M467.2 795.8h0M467.3 777.6h0M467.4 798.1h0M467.6 796.2h0M467.7 791.6h0M467.8 790.2h0M467.9 797h0M468.1 797.9h0M468.2 796.1h0M468.3 787.6h0M468.5 771.1h0M468.6 795.6h0M468.7 769.3h0M468.9 795.4h0M469 782h0M469.1 777.1h0M469.3 797.8h0M469.4 779.2h0M469.5 796.3h0M469.7 791.4h0M469.8 797.1h0M469.9 787.6h0M470.1 790.6h0M470.2 778.2h0M470.3 797.8h0M470.4 794h0M470.6 792.9h0M470.7 792h0M470.8 786.2h0M471 789.9h0M471.1 795.3h0M471.2 793.5h0M471.4 794h0M471.5 780.4h0M471.6 791.5h0M471.8 783.6h0M471.9 778.4h0M472 798.2h0M472.2 771.7h0M472.3 795.7h0M472.4 789.4h0M472.6 790.9h0M472.7 789.8h0M472.8 794.5h0M473 795.4h0M473.1 771.6h0M473.2 796.5h0M473.3 794h0M473.5 790.8h0M473.6 793.7h0M473.7 786.9h0M473.9 796.6h0M474 793.4h0M474.1 786.3h0M474.3 777.2h0M474.4 792.8h0M474.5 798.3h0M474.7 794.1h0M474.8 794.8h0M474.9 781h0M475.1 786.8h0M475.2 795h0M475.3 793.6h0M475.5 775.1h0M475.6 794.7h0M475.7 774.3h0M475.9 796.9h0M476 797.7h0M476.1 789.4h0M476.2 794.2h0M476.4 782.2h0M476.5 797.5h0M476.6 792.3h0M476.8 794.4h0M476.9 791.8h0M477 798.3h0M477.2 797.9h0M477.3 777.2h0M477.4 796.9h0M477.6 785.2h0M477.7 795.9h0M477.8 798.3h0M478 796.5h0M478.1 784.9h0M478.2 798.1h0M478.4 796h0M478.5 782.6h0M478.6 794.2h0M478.8 794.4h0M478.9 796.4h0M479 785.4h0M479.1 797.3h0M479.3 796.2h0M479.4 791.8h0M479.5 796.8h0M479.7 789.1h0M479.8 792.5h0M479.9 792.3h0M480.1 797.9h0M480.2 796.7h0M480.3 797.8h0M480.5 797.8h0M480.6 792.6h0M480.7 785.8h0M480.9 797.5h0M481 796.2h0M481.1 793.9h0M481.3 797.2h0M481.4 795.5h0M481.5 795.4h0M481.6 791.4h0M481.8 797.8h0M481.9 792.7h0M482 777h0M482.2 794.4h0M482.3 789.5h0M482.4 792.9h0M482.6 795.4h0M482.7 790.3h0M482.8 794.8h0M483 794.6h0M483.1 780.2h0M483.2 793.7h0M483.4 773.8h0M483.5 797.8h0M483.6 774.9h0M483.8 782h0M483.9 791.2h0M484 789.3h0M484.2 791.1h0M484.3 792.9h0M484.4 795.7h0M484.5 797.5h0M484.7 788.7h0M484.8 788.6h0M484.9 795.2h0M485.1 787.2h0M485.2 771.2h0M485.3 797.5h0M485.5 792.5h0M485.6 788.3h0M485.7 793.5h0M485.9 795.9h0M486 778.5h0M486.1 796.8h0M486.3 796.4h0M486.4 789h0M486.5 795h0M486.7 793.7h0M486.8 792.2h0M486.9 771.8h0M487.1 798.2h0M487.2 793h0M487.3 797.8h0M487.4 797.1h0M487.6 792.6h0M487.7 795.2h0M487.8 769.4h0M488 794.3h0M488.1 796.3h0M488.2 793h0M488.4 791.9h0M488.5 792.1h0M488.6 779.7h0M488.8 798h0M488.9 782.3h0M489 797.7h0M489.2 797.5h0M489.3 792.1h0M489.4 786.6h0M489.6 794.3h0M489.7 783.5h0M489.8 796.8h0M490 782.9h0M490.1 790.2h0M490.2 795.8h0M490.3 797.8h0M490.5 793.5h0M490.6 796.1h0M490.7 791.2h0M490.9 776.5h0M491 797.7h0M491.1 796.5h0M491.3 792.4h0M491.4 787.3h0M491.5 792h0M491.7 794.5h0M491.8 772h0M491.9 791h0M492.1 793.8h0M492.2 773.4h0M492.3 794.4h0M492.5 794.3h0M492.6 780.1h0M492.7 796.8h0M492.8 790.4h0M493 796.7h0M493.1 781.6h0M493.2 794.6h0M493.4 797.6h0M493.5 784.4h0M493.6 788.4h0M493.8 781.7h0M493.9 786.2h0M494 795.3h0M494.2 792.9h0M494.3 796.1h0M494.4 783.2h0M494.6 782.1h0M494.7 792.5h0M494.8 789.3h0M495 791.3h0M495.1 791.9h0M495.2 785.3h0M495.4 769.9h0M495.5 785.2h0M495.6 787.9h0M495.7 798.4h0M495.9 772.1h0M496 797.8h0M496.1 770.5h0M496.3 796.4h0M496.4 794.7h0M496.5 792.5h0M496.7 774h0M496.8 794.1h0M496.9 771.4h0M497.1 781.5h0M497.2 796.4h0M497.3 797.3h0M497.5 776.8h0M497.6 793.9h0M497.7 797h0M497.9 797.9h0M498 794.8h0M498.1 770.8h0M498.3 792.2h0M498.4 783.8h0M498.5 797.8h0M498.6 773h0M498.8 796.6h0M498.9 786.3h0M499 784.9h0M499.2 796.8h0M499.3 789.5h0M499.4 784.9h0M499.6 769.8h0M499.7 777.7h0M499.8 786.5h0M500 792.6h0M500.1 786.8h0M500.2 769.3h0M500.4 785h0M500.5 796.7h0M500.6 789.4h0M500.8 778.3h0M500.9 774.6h0M501 796.9h0M501.1 796h0M501.3 795.1h0M501.4 795.3h0M501.5 784.8h0M501.7 773.7h0M501.8 790h0M501.9 785.5h0M502.1 794.5h0M502.2 786.9h0M502.3 796.5h0M502.5 798h0M502.6 794.3h0M502.7 786.6h0M502.9 791h0M503 794.2h0M503.1 795.6h0M503.3 789.8h0M503.4 795h0M503.5 792.6h0M503.7 796.9h0M503.8 790.6h0M503.9 797.7h0M504 792.9h0M504.2 794.7h0M504.3 787.1h0M504.4 793.4h0M504.6 793.8h0M504.7 778.1h0M504.8 773.8h0M505 773.4h0M505.1 794.1h0M505.2 777.6h0M505.4 769.4h0M505.5 796h0M505.6 789.4h0M505.8 787.4h0M505.9 795.7h0M506 794.5h0M506.2 782.4h0M506.3 796.7h0M506.4 795.8h0M506.6 781.7h0M506.7 797.3h0M506.8 782.4h0M506.9 791.5h0M507.1 791.8h0M507.2 794.1h0M507.3 795.3h0M507.5 783.7h0M507.6 775.4h0M507.7 791.9h0M507.9 791.4h0M508 786.3h0M508.1 772.8h0M508.3 769.5h0M508.4 790.9h0M508.5 791.2h0M508.7 771.5h0M508.8 790.9h0M508.9 773h0M509.1 786.1h0M509.2 784h0M509.3 771.2h0M509.5 789.4h0M509.6 780.2h0M509.7 796.4h0M509.8 789.2h0M510 797.1h0M510.1 781.4h0M510.2 779.1h0M510.4 793.7h0M510.5 794.2h0M510.6 777.2h0M510.8 797.2h0M510.9 796.5h0M511 793.5h0M511.2 778.3h0M511.3 773.1h0M511.4 782.2h0M511.6 770.3h0M511.7 789.3h0M511.8 793.4h0M512 789h0M512.1 773.7h0M512.2 778.5h0M512.3 793h0M512.5 784.9h0M512.6 797.8h0M512.7 796.8h0M512.9 769.3h0M513 774.5h0M513.1 793.2h0M513.3 792.6h0M513.4 779.2h0M513.5 783.6h0M513.7 782.5h0M513.8 792.4h0M513.9 786h0M514.1 769.2h0M514.2 795.6h0M514.3 795.9h0M514.5 795.1h0M514.6 788.3h0M514.7 791.1h0M514.9 773.2h0M515 793.3h0M515.1 794.1h0M515.2 793h0M515.4 785.4h0M515.5 781.9h0M515.6 783.3h0M515.8 778.2h0M515.9 778.5h0M516 784.4h0M516.2 792.8h0M516.3 793.2h0M516.4 794h0M516.6 795.6h0M516.7 774.3h0M516.8 790h0M517 777.7h0M517.1 795.7h0M517.2 769.2h0M517.4 797.2h0M517.5 789.1h0M517.6 794.7h0M517.8 780.5h0M517.9 785.9h0M518 773h0M518.1 784.9h0M518.3 797.3h0M518.4 770.3h0M518.5 778.3h0M518.7 780.6h0M518.8 794.3h0M518.9 791h0M519.1 792.3h0M519.2 776.3h0M519.3 795.1h0M519.5 772.1h0M519.6 794.2h0M519.7 776.7h0M519.9 771.4h0M520 794.6h0M520.1 774.4h0M520.3 788.5h0M520.4 789.9h0M520.5 787h0M520.7 795.5h0M520.8 796.8h0M520.9 795.8h0M521 785.3h0M521.2 791.9h0M521.3 784.9h0M521.4 797.2h0M521.6 795.8h0M521.7 797.5h0M521.8 787h0M522 795.5h0M522.1 796.4h0M522.2 773.5h0M522.4 776.4h0M522.5 797.8h0M522.6 780.9h0M522.8 785.3h0M522.9 784h0M523 780.7h0M523.2 794.4h0M523.3 787.6h0" fill="none" stroke="#D95319" stroke-width="3.0" stroke-linecap="round"/>
<path d="M523.4 736.5h0M523.5 759.2h0M523.7 699.5h0M523.8 716.7h0M523.9 679.8h0M524.1 754.2h0M524.2 755.3h0M524.3 708.8h0M524.5 746.8h0M524.6 741h0M524.7 760.3h0M524.9 764.7h0M525 756h0M525.1 762.2h0M525.3 747.7h0M525.4 739.7h0M525.5 754.5h0M525.7 751.2h0M525.8 757.8h0M525.9 754.5h0M526.1 750.2h0M526.2 732.5h0M526.3 764.7h0M526.4 736.6h0M526.6 764.2h0M526.7 753.6h0M526.8 743.1h0M527 755.1h0M527.1 755h0M527.2 759.5h0M527.4 756.8h0M527.5 750.4h0M527.6 741.3h0M527.8 757.9h0M527.9 750.7h0M528 755.2h0M528.2 747.8h0M528.3 747.8h0M528.4 765.7h0M528.6 759h0M528.7 736h0M528.8 730.8h0M529 760.3h0M529.1 729.9h0M529.2 747.3h0M529.3 764.3h0M529.5 754.5h0M529.6 739.1h0M529.7 738.7h0M529.9 751.1h0M530 755.3h0M530.1 763.3h0M530.3 754.9h0M530.4 765.5h0M530.5 750.9h0M530.7 753h0M530.8 738.1h0M530.9 737.7h0M531.1 759.4h0M531.2 763.8h0M531.3 764.9h0M531.5 741.9h0M531.6 764.7h0M531.7 743.8h0M531.8 760.1h0M532 736.6h0M532.1 754.6h0M532.2 762h0M532.4 735.1h0M532.5 738.4h0M532.6 760.6h0M532.8 749.9h0M532.9 754.8h0M533 735.4h0M533.2 748.5h0M533.3 737.4h0M533.4 746.4h0M533.6 765.7h0M533.7 750.8h0M533.8 754h0M534 744.5h0M534.1 755h0M534.2 744.2h0M534.4 765.1h0M534.5 748.7h0M534.6 753.6h0M534.7 758.9h0M534.9 737.4h0M535 757.3h0M535.1 746.5h0M535.3 753.6h0M535.4 740.5h0M535.5 735.8h0M535.7 736.6h0M535.8 758.8h0M535.9 749.3h0M536.1 734.8h0M536.2 732.4h0M536.3 751.1h0M536.5 765.7h0M536.6 731.7h0M536.7 764.2h0M536.9 763h0M537 748.8h0M537.1 740.7h0M537.3 761.4h0M537.4 762.3h0M537.5 753.9h0M537.6 738.7h0M537.8 738.2h0M537.9 733.2h0M538 747.7h0M538.2 757.8h0M538.3 755.8h0M538.4 743.9h0M538.6 761.9h0M538.7 735.3h0M538.8 747.1h0M539 747h0M539.1 750.6h0M539.2 739.9h0M539.4 741.1h0M539.5 755.3h0M539.6 754.3h0M539.8 739.6h0M539.9 760.1h0M540 741.1h0M540.2 748.4h0M540.3 734.2h0M540.4 757.1h0M540.5 726.3h0M540.7 750.1h0M540.8 762h0M540.9 753.9h0M541.1 738.2h0M541.2 750.4h0M541.3 764h0M541.5 759.8h0M541.6 730.7h0M541.7 763.7h0M541.9 763.1h0M542 738.7h0M542.1 743h0M542.3 753.8h0M542.4 749.1h0M542.5 724.4h0M542.7 763.3h0M542.8 742.8h0M542.9 752.5h0M543 728.6h0M543.2 764h0M543.3 753.8h0M543.4 744h0M543.6 740.9h0M543.7 756.9h0M543.8 740h0M544 739.1h0M544.1 764.2h0M544.2 744h0M544.4 742h0M544.5 733.2h0M544.6 750.6h0M544.8 760.2h0M544.9 761.2h0M545 750.3h0M545.2 741.2h0M545.3 753h0M545.4 754.4h0M545.6 756.9h0M545.7 741.8h0M545.8 745.4h0M545.9 763.4h0M546.1 730.5h0M546.2 748.6h0M546.3 738.6h0M546.5 745.6h0M546.6 758.2h0M546.7 751.4h0M546.9 749.7h0M547 754.5h0M547.1 703.8h0M547.3 754h0M547.4 733.3h0M547.5 756.2h0M547.7 740.1h0M547.8 737.1h0M547.9 730.1h0M548.1 741.1h0M548.2 744h0M548.3 723h0M548.5 733.9h0M548.6 748.4h0M548.7 740.8h0M548.8 742.6h0M549 731.5h0M549.1 717.3h0M549.2 748.3h0M549.4 723h0M549.5 734.2h0M549.6 735h0M549.8 737.4h0M549.9 724.4h0M550 737.8h0M550.2 754.3h0M550.3 729.1h0M550.4 743.9h0M550.6 717.2h0M550.7 746.9h0M550.8 725.4h0M551 741.7h0M551.1 747.5h0M551.2 709.8h0M551.4 721.5h0M551.5 734.5h0M551.6 738.3h0M551.7 751.5h0M551.9 726.4h0M552 744.9h0M552.1 756h0M552.3 729.5h0M552.4 746.2h0M552.5 735.9h0M552.7 724.6h0M552.8 720.1h0M552.9 738.5h0M553.1 723.2h0M553.2 716.3h0M553.3 749.3h0M553.5 733.5h0M553.6 702.4h0M553.7 721.7h0M553.9 706.4h0M554 718.4h0M554.1 700.8h0M554.2 734.9h0M554.4 727.2h0M554.5 708.2h0M554.6 726.2h0M554.8 729.4h0M554.9 717.9h0M555 707h0M555.2 721.3h0M555.3 700.2h0M555.4 733.9h0M555.6 744.4h0M555.7 704.7h0M555.8 745.9h0M556 709.7h0M556.1 692.6h0M556.2 702.7h0M556.4 686.6h0M556.5 742.1h0M556.6 723.6h0M556.8 693.1h0M556.9 723.2h0M557 719.2h0M557.1 710.4h0M557.3 723.4h0M557.4 699.6h0M557.5 688.3h0M557.7 700.3h0M557.8 707h0M557.9 714.6h0M558.1 707.6h0M558.2 720h0M558.3 704.3h0M558.5 684.2h0M558.6 672.5h0M558.7 698h0M558.9 675.6h0M559 707.7h0M559.1 691.7h0M559.3 729.7h0M559.4 681.5h0M559.5 723.5h0M559.7 715.5h0M559.8 682.6h0M559.9 683.8h0M560 703.4h0M560.2 683.2h0M560.3 715.5h0M560.4 677.2h0M560.6 703.4h0M560.7 711.4h0M560.8 668.4h0M561 693h0M561.1 678.8h0M561.2 705.3h0M561.4 695h0M561.5 712.3h0M561.6 676.1h0M561.8 677.1h0M561.9 682.5h0M562 683.5h0M562.2 729.5h0M562.3 679.9h0M562.4 679.4h0M562.6 696.1h0M562.7 685.9h0M562.8 701.5h0M562.9 680.3h0M563.1 683h0M563.2 695.2h0M563.3 682.8h0M563.5 681.8h0M563.6 687.3h0M563.7 675.1h0M563.9 678.6h0M564 682.3h0M564.1 696.2h0M564.3 690.8h0M564.4 674.3h0M564.5 670h0M564.7 710h0M564.8 675.5h0M564.9 688.6h0M565.1 688.7h0M565.2 699.7h0M565.3 694.6h0M565.4 698h0M565.6 708.3h0M565.7 693.8h0M565.8 697.2h0M566 701.9h0M566.1 664.5h0M566.2 685.5h0M566.4 696.5h0M566.5 696.4h0M566.6 673.4h0M566.8 680h0M566.9 689.9h0M567 673.8h0M567.2 681.5h0M567.3 669.7h0M567.4 651.3h0M567.6 671h0M567.7 682.6h0M567.8 658.4h0M568 685.6h0M568.1 670.3h0M568.2 686.8h0M568.3 663.6h0M568.5 651.9h0M568.6 682.3h0M568.7 688.3h0M568.9 673h0M569 681.3h0M569.1 683.7h0M569.3 694.8h0M569.4 672.9h0M569.5 649.5h0M569.7 688.5h0M569.8 665h0M569.9 645.7h0M570.1 700.8h0M570.2 669.7h0M570.3 690.5h0M570.5 664.4h0M570.6 657.9h0M570.7 671.7h0M570.9 678.6h0M571 682.4h0M571.1 675.3h0M571.2 670.4h0M571.4 636.5h0M571.5 653.9h0M571.6 663.5h0M571.8 653.7h0M571.9 653.2h0M572 637h0M572.2 669.1h0M572.3 679.4h0M572.4 661.7h0M572.6 693h0M572.7 670.8h0M572.8 693.7h0M573 705.1h0M573.1 653.5h0M573.2 668.8h0M573.4 658.6h0M573.5 667.1h0M573.6 658.1h0M573.7 647.6h0M573.9 653.9h0M574 669.7h0M574.1 655.9h0M574.3 678.3h0M574.4 674.9h0M574.5 654.7h0M574.7 654.1h0M574.8 698.3h0M574.9 685.7h0M575.1 651.8h0M575.2 673.4h0M575.3 672.1h0M575.5 656.7h0M575.6 657.1h0M575.7 668.3h0M575.9 682.2h0M576 641.9h0M576.1 656.8h0M576.3 662h0M576.4 695.8h0M576.5 652h0M576.6 704.6h0M576.8 654.4h0M576.9 673.7h0M577 662.9h0M577.2 665.9h0M577.3 657.2h0M577.4 674h0M577.6 653.8h0M577.7 653.9h0M577.8 653.5h0M578 660.3h0M578.1 677.9h0M578.2 670.2h0M578.4 659.2h0M578.5 676.7h0M578.6 679.9h0M578.8 650.9h0M578.9 640.6h0M579 673.9h0M579.2 680h0M579.3 669.2h0M579.4 667.9h0M579.5 655.6h0M579.7 680.4h0M579.8 671.9h0M579.9 637.2h0M580.1 664.3h0M580.2 635.9h0M580.3 649.8h0M580.5 618.3h0M580.6 679.1h0M580.7 657.1h0M580.9 648.7h0M581 685.5h0M581.1 662.6h0M581.3 649.1h0M581.4 673.5h0M581.5 645.1h0M581.7 682.6h0M581.8 624.3h0M581.9 655.8h0M582.1 646.6h0M582.2 623.3h0M582.3 617.6h0M582.4 680.3h0M582.6 669.1h0M582.7 667.6h0M582.8 680.6h0M583 640h0M583.1 625.7h0M583.2 677.4h0M583.4 621.2h0M583.5 664.8h0" fill="none" stroke="#EDB120" stroke-width="3.0" stroke-linecap="round"/>
<path d="M65.5 768.1H583.5" stroke="#5e5e5e" stroke-width="2" stroke-dasharray="11.7 8.02" fill="none"/>
<path d="M80.2 755.2l7.4 7.4m-7.4 0l7.4 -7.4M94 757.8l7.4 7.4m-7.4 0l7.4 -7.4M96.2 751.7l7.4 7.4m-7.4 0l7.4 -7.4M98.6 757.8l7.4 7.4m-7.4 0l7.4 -7.4M101.2 759.6l7.4 7.4m-7.4 0l7.4 -7.4M107.2 757.8l7.4 7.4m-7.4 0l7.4 -7.4M114.4 761.2l7.4 7.4m-7.4 0l7.4 -7.4M128.9 738l7.4 7.4m-7.4 0l7.4 -7.4M133.5 758.3l7.4 7.4m-7.4 0l7.4 -7.4M142.8 755.2l7.4 7.4m-7.4 0l7.4 -7.4M150.7 759.9l7.4 7.4m-7.4 0l7.4 -7.4M152.6 757.8l7.4 7.4m-7.4 0l7.4 -7.4M221.8 761.5l7.4 7.4m-7.4 0l7.4 -7.4M233 762.5l7.4 7.4m-7.4 0l7.4 -7.4M244.2 742l7.4 7.4m-7.4 0l7.4 -7.4M256.7 757.8l7.4 7.4m-7.4 0l7.4 -7.4M363.4 761.7l7.4 7.4m-7.4 0l7.4 -7.4M376.6 763.1l7.4 7.4m-7.4 0l7.4 -7.4M388.5 759.1l7.4 7.4m-7.4 0l7.4 -7.4M414.8 753.8l7.4 7.4m-7.4 0l7.4 -7.4M430.6 757.3l7.4 7.4m-7.4 0l7.4 -7.4M438.6 760.4l7.4 7.4m-7.4 0l7.4 -7.4M442.5 757l7.4 7.4m-7.4 0l7.4 -7.4M443.8 759.1l7.4 7.4m-7.4 0l7.4 -7.4M451.7 762.5l7.4 7.4m-7.4 0l7.4 -7.4M466.2 757l7.4 7.4m-7.4 0l7.4 -7.4M496.5 757.8l7.4 7.4m-7.4 0l7.4 -7.4M500.5 761.7l7.4 7.4m-7.4 0l7.4 -7.4M491 747.5l7.4 7.4m-7.4 0l7.4 -7.4M492.4 763.3l7.4 7.4m-7.4 0l7.4 -7.4M486.1 749.3l7.4 7.4m-7.4 0l7.4 -7.4M486.3 746l7.4 7.4m-7.4 0l7.4 -7.4M485.9 758.5l7.4 7.4m-7.4 0l7.4 -7.4M489.1 761.2l7.4 7.4m-7.4 0l7.4 -7.4M489.7 749.3l7.4 7.4m-7.4 0l7.4 -7.4M488.4 753.7l7.4 7.4m-7.4 0l7.4 -7.4M490.7 749.3l7.4 7.4m-7.4 0l7.4 -7.4M485.7 750.7l7.4 7.4m-7.4 0l7.4 -7.4M489.5 745l7.4 7.4m-7.4 0l7.4 -7.4M491.1 750.3l7.4 7.4m-7.4 0l7.4 -7.4M491.3 751.6l7.4 7.4m-7.4 0l7.4 -7.4M491.1 752.6l7.4 7.4m-7.4 0l7.4 -7.4M489.3 755.7l7.4 7.4m-7.4 0l7.4 -7.4M489.1 745.3l7.4 7.4m-7.4 0l7.4 -7.4M491.7 752l7.4 7.4m-7.4 0l7.4 -7.4M489.1 752.4l7.4 7.4m-7.4 0l7.4 -7.4M486.8 755.4l7.4 7.4m-7.4 0l7.4 -7.4M487.3 752.3l7.4 7.4m-7.4 0l7.4 -7.4M488.8 747.2l7.4 7.4m-7.4 0l7.4 -7.4M487.7 745.4l7.4 7.4m-7.4 0l7.4 -7.4M487.2 752.6l7.4 7.4m-7.4 0l7.4 -7.4M488.4 751.3l7.4 7.4m-7.4 0l7.4 -7.4M488 739.3l7.4 7.4m-7.4 0l7.4 -7.4M514.6 759.4l7.4 7.4m-7.4 0l7.4 -7.4M507.6 762l7.4 7.4m-7.4 0l7.4 -7.4M512.7 762.7l7.4 7.4m-7.4 0l7.4 -7.4M511.3 758.6l7.4 7.4m-7.4 0l7.4 -7.4M517.5 760.1l7.4 7.4m-7.4 0l7.4 -7.4M513.5 758.3l7.4 7.4m-7.4 0l7.4 -7.4M510.1 759.6l7.4 7.4m-7.4 0l7.4 -7.4M514.1 759.8l7.4 7.4m-7.4 0l7.4 -7.4M517 759.4l7.4 7.4m-7.4 0l7.4 -7.4M511.2 763.5l7.4 7.4m-7.4 0l7.4 -7.4M514.2 761.2l7.4 7.4m-7.4 0l7.4 -7.4M509.6 760.3l7.4 7.4m-7.4 0l7.4 -7.4" fill="none" stroke="#7E2F8E" stroke-width="1.25"/>
<path d="M526.6 769.3h5v5h-5zM530 771.4h5v5h-5zM532.1 771.4h5v5h-5z" fill="none" stroke="#77AC30" stroke-width="1.0"/>
<text x="65.5" y="823.7" font-size="18.5" text-anchor="middle">1</text>
<text x="131.3" y="823.7" font-size="18.5" text-anchor="middle">500</text>
<text x="197.2" y="823.7" font-size="18.5" text-anchor="middle">1000</text>
<text x="263.1" y="823.7" font-size="18.5" text-anchor="middle">1500</text>
<text x="328.9" y="823.7" font-size="18.5" text-anchor="middle">2000</text>
<text x="394.8" y="823.7" font-size="18.5" text-anchor="middle">2500</text>
<text x="460.7" y="823.7" font-size="18.5" text-anchor="middle">3000</text>
<text x="523.3" y="823.7" font-size="18.5" text-anchor="middle">3475</text>
<text x="583.5" y="823.7" font-size="18.5" text-anchor="middle">3932</text>
<text x="58.6" y="806" font-size="18.5" text-anchor="end">0</text>
<text x="58.6" y="753.3" font-size="18.5" text-anchor="end">20</text>
<text x="58.6" y="700.6" font-size="18.5" text-anchor="end">40</text>
<text x="58.6" y="647.8" font-size="18.5" text-anchor="end">60</text>
<text x="58.6" y="595.1" font-size="18.5" text-anchor="end">80</text>
<text x="323.9" y="850" font-size="20.35" text-anchor="middle">Sample #</text>
<text transform="translate(29.8 693.5) rotate(-90)" font-size="20.35" text-anchor="middle">NI</text>
<text x="663.0" y="851.6" font-size="19.5" style="font-family:'Liberation Serif',serif">(c)</text>
</svg>
</body></html>
